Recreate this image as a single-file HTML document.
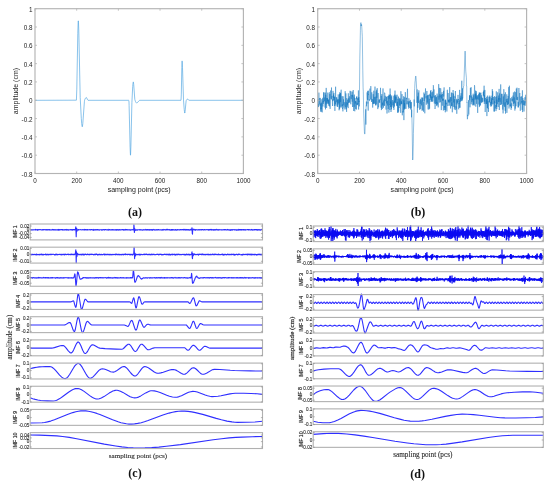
<!DOCTYPE html>
<html><head><meta charset="utf-8"><title>figure</title>
<style>
html,body{margin:0;padding:0;background:#fff;}
svg{display:block;}
svg{font-family:'Liberation Sans', Arial, sans-serif;fill:#222222;font-size:6.3px;}
</style></head><body>
<svg width="550" height="488" viewBox="0 0 550 488">
<rect width="550" height="488" fill="#fff"/>
<path d="M35.0 100.3L76.4 100.2 76.8 89.1 77.8 33.3 78.2 20.9 78.4 20.9 78.5 22.8 78.8 30.9 80.2 97.4 81.3 118.4 81.7 123.7 82.1 126.5 82.3 126.8 82.4 126.7 82.8 123.6 84.4 101.7 84.6 100.2 85.0 99.1 85.6 98.0 86.0 97.6 86.3 97.5 86.6 97.8 87.6 99.8 88.0 100.3 128.7 100.3 128.8 100.4 129.0 102.0 129.1 105.4 130.1 147.3 130.4 154.3 130.5 155.2 130.6 153.9 130.9 146.1 131.9 102.7 132.7 86.5 133.0 83.2 133.3 81.9 133.4 82.2 133.7 84.4 134.8 99.3 135.0 100.1 135.5 101.6 136.1 102.6 136.5 103.0 136.9 102.9 137.3 102.7 139.1 100.7 139.5 100.4 140.0 100.3 181.0 100.3 181.3 94.9 181.8 67.6 182.1 60.9 182.2 61.7 182.5 67.7 183.5 99.9 184.2 109.3 184.5 111.8 184.7 113.0 184.9 113.0 185.1 111.4 186.1 101.0 186.3 100.3 186.5 99.9 187.0 99.3 187.4 99.1 187.8 99.2 188.6 100.1 189.0 100.3 243.4 100.3" fill="none" stroke="#4aa3e0" stroke-width="0.65" stroke-linejoin="round" />
<rect x="35" y="8.7" width="208.4" height="164.8" fill="none" stroke="#b4b4b4" stroke-width="1.15"/>
<text x="32.4" y="11.8" text-anchor="end">1</text>
<text x="32.4" y="30.11" text-anchor="end">0.8</text>
<text x="32.4" y="48.42" text-anchor="end">0.6</text>
<text x="32.4" y="66.73" text-anchor="end">0.4</text>
<text x="32.4" y="85.04" text-anchor="end">0.2</text>
<text x="32.4" y="103.36" text-anchor="end">0</text>
<text x="32.4" y="121.67" text-anchor="end">-0.2</text>
<text x="32.4" y="139.98" text-anchor="end">-0.4</text>
<text x="32.4" y="158.29" text-anchor="end">-0.6</text>
<text x="32.4" y="176.6" text-anchor="end">-0.8</text>
<text x="35" y="183.1" text-anchor="middle">0</text>
<text x="76.68" y="183.1" text-anchor="middle">200</text>
<text x="118.36" y="183.1" text-anchor="middle">400</text>
<text x="160.04" y="183.1" text-anchor="middle">600</text>
<text x="201.72" y="183.1" text-anchor="middle">800</text>
<text x="243.4" y="183.1" text-anchor="middle">1000</text>
<path d="M35 8.7h2M243.4 8.7h-2M35 27.01h2M243.4 27.01h-2M35 45.32h2M243.4 45.32h-2M35 63.63h2M243.4 63.63h-2M35 81.94h2M243.4 81.94h-2M35 100.26h2M243.4 100.26h-2M35 118.57h2M243.4 118.57h-2M35 136.88h2M243.4 136.88h-2M35 155.19h2M243.4 155.19h-2M35 173.5h2M243.4 173.5h-2M35 8.7v2M35 173.5v-2M76.68 8.7v2M76.68 173.5v-2M118.36 8.7v2M118.36 173.5v-2M160.04 8.7v2M160.04 173.5v-2M201.72 8.7v2M201.72 173.5v-2M243.4 8.7v2M243.4 173.5v-2" stroke="#b4b4b4" stroke-width="0.8" fill="none"/>
<text x="139.2" y="192.1" text-anchor="middle" font-size="7.06">sampling point (pcs)</text>
<text transform="translate(18.4 91.1) rotate(-90)" text-anchor="middle" font-size="7">amplitude (cm)</text>
<path d="M317.7 100.9L317.9 99.2 318.2 106.6 318.4 103.9 318.6 107.1 318.9 92.6 319.1 103.2 319.3 104.4 319.4 98.2 319.6 98.9 319.8 100.5 320.0 105.8 320.3 97.9 320.5 109.3 320.7 103.5 320.8 111.6 321.0 108.6 321.2 111.8 321.4 102.7 321.5 109.2 321.7 99.8 321.9 99.2 322.1 100.2 322.2 112.4 322.4 100.1 322.6 98.6 322.7 97.8 322.9 106.5 323.1 100.9 323.3 103.9 323.4 102.9 323.6 92.3 323.8 102.2 324.1 92.5 324.3 101.1 324.5 98.4 324.7 97.5 324.8 99.5 325.0 107.6 325.4 92.6 325.5 109.4 325.7 94.8 326.1 104.4 326.2 87.9 326.6 108.0 326.8 100.7 326.9 98.0 327.1 103.2 327.3 98.0 327.4 101.4 327.8 92.6 328.0 104.0 328.1 99.3 328.3 103.5 328.5 99.9 328.7 105.7 329.0 100.4 329.2 93.6 329.4 92.3 329.5 106.4 329.7 102.6 329.9 94.1 330.1 108.9 330.2 100.0 330.4 98.2 330.6 90.5 330.8 93.2 330.9 98.6 331.1 98.6 331.3 98.7 331.5 87.5 331.6 99.3 331.8 99.2 332.0 95.9 332.1 99.6 332.3 99.8 332.5 106.0 332.7 99.2 332.8 101.2 333.0 90.9 333.4 97.8 333.5 94.6 333.7 100.5 333.9 92.9 334.1 99.9 334.2 96.6 334.4 106.0 334.6 96.8 334.8 107.8 334.9 110.9 335.1 100.5 335.3 104.1 335.5 98.2 335.6 86.7 335.8 105.6 336.0 103.8 336.2 99.2 336.3 97.3 336.5 101.2 336.7 102.3 336.8 97.4 337.0 99.1 337.2 106.6 337.4 101.0 337.5 99.9 337.7 106.9 337.9 99.0 338.1 104.6 338.2 94.4 338.4 98.3 338.8 103.3 338.9 99.7 339.1 110.3 339.5 94.3 339.6 109.2 339.8 92.2 340.0 107.8 340.2 93.6 340.3 102.1 340.5 93.0 340.7 97.3 340.9 106.8 341.0 91.0 341.2 89.7 341.4 98.8 341.5 101.5 341.7 101.8 341.9 107.6 342.1 96.2 342.2 106.0 342.4 104.4 342.6 108.9 342.8 107.7 342.9 111.4 343.1 96.3 343.3 105.3 343.5 99.3 343.8 107.6 344.0 105.7 344.2 105.9 344.3 102.2 344.5 104.4 344.7 104.3 344.9 109.5 345.0 105.5 345.2 91.2 345.4 105.1 345.6 107.3 345.9 93.4 346.1 109.2 346.2 102.2 346.4 105.4 346.6 111.9 346.8 98.1 346.9 102.6 347.1 102.5 347.3 106.7 347.5 99.6 347.6 104.7 347.8 102.8 348.0 106.8 348.2 108.1 348.3 93.3 348.5 103.0 348.7 98.3 349.0 102.4 349.2 102.3 349.4 96.3 349.6 102.6 349.7 99.4 349.9 98.0 350.1 90.8 350.3 94.8 350.4 94.9 350.8 104.3 350.9 91.3 351.1 92.3 351.3 99.2 351.5 96.4 351.6 95.2 351.8 95.2 352.0 94.8 352.2 101.7 352.3 91.6 352.5 107.0 352.7 95.1 352.9 96.8 353.0 94.7 353.2 90.0 353.4 93.2 353.6 107.9 353.7 111.0 353.9 96.7 354.1 106.8 354.4 94.6 354.6 108.8 354.8 111.3 355.0 98.0 355.3 103.5 355.5 101.1 355.8 109.0 356.0 101.4 356.3 109.6 356.5 96.7 356.7 99.2 356.9 96.5 357.0 105.0 357.2 103.0 357.4 105.2 357.6 105.0 357.7 98.4 357.9 104.1 358.1 98.3 358.3 99.9 358.4 90.4 358.6 109.5 358.8 97.1 359.0 102.0 359.1 100.7 359.3 106.4 359.8 58.9 360.4 30.5 360.5 25.1 360.9 22.6 361.2 26.0 361.4 24.6 361.6 24.4 362.1 32.4 362.3 36.4 362.8 70.9 363.1 87.8 363.3 91.7 363.7 113.1 364.4 131.6 364.5 133.3 364.7 134.1 364.9 133.8 365.6 112.2 365.7 109.3 365.9 124.6 366.1 105.4 366.3 104.5 366.4 101.6 366.6 106.3 366.8 101.2 367.0 100.4 367.1 92.4 367.3 97.6 367.5 99.8 367.7 90.9 367.8 103.4 368.0 102.4 368.2 110.6 368.4 90.7 368.5 94.9 368.7 94.4 368.9 96.0 369.1 99.7 369.2 99.1 369.4 101.1 369.6 100.8 369.8 98.6 369.9 88.6 370.1 94.2 370.3 97.0 370.4 99.0 370.6 99.5 370.8 86.1 371.0 91.7 371.3 97.0 371.5 102.0 371.8 92.3 372.0 100.4 372.2 99.2 372.5 99.3 372.7 107.6 372.9 99.8 373.1 103.8 373.2 94.2 373.4 104.1 373.8 90.7 373.9 102.3 374.1 103.2 374.3 96.9 374.5 98.6 374.6 103.8 375.0 86.6 375.1 98.4 375.3 99.6 375.5 104.9 375.7 96.7 375.8 105.6 376.0 105.0 376.2 91.4 376.4 104.4 376.5 91.5 376.7 89.7 376.9 97.9 377.1 96.0 377.2 88.1 377.4 100.6 377.8 109.1 378.1 93.0 378.3 96.0 378.5 107.4 378.6 107.2 378.8 104.5 379.0 99.7 379.2 102.5 379.3 99.6 379.5 99.9 379.7 102.8 380.0 99.1 380.2 99.6 380.4 96.2 380.5 87.8 380.7 95.3 380.9 98.2 381.1 107.7 381.2 95.8 381.4 110.1 381.6 106.7 381.8 94.1 381.9 95.2 382.1 100.0 382.3 109.0 382.5 102.6 382.6 105.4 383.0 88.4 383.2 99.9 383.5 107.7 383.7 101.2 383.9 100.4 384.0 105.5 384.2 98.7 384.4 105.9 384.5 92.7 384.7 93.0 384.9 92.9 385.1 101.2 385.2 95.8 385.4 99.9 385.6 101.3 385.8 101.4 385.9 108.3 386.1 109.6 386.3 96.7 386.5 103.4 386.6 101.9 386.8 96.9 387.0 113.5 387.3 101.8 387.5 100.9 387.7 105.5 387.9 96.0 388.2 109.0 388.4 107.1 388.6 95.8 388.7 98.7 388.9 112.6 389.1 94.5 389.2 98.8 389.4 95.2 389.6 104.9 389.8 104.2 389.9 110.0 390.1 88.5 390.3 103.7 390.5 94.4 390.6 107.0 390.8 101.5 391.0 112.0 391.3 96.5 391.5 109.4 391.7 95.4 391.9 98.7 392.0 106.7 392.2 103.2 392.4 102.6 392.6 100.1 392.9 105.2 393.1 102.2 393.3 106.7 393.4 108.0 393.8 95.7 393.9 109.9 394.1 100.7 394.5 106.5 394.6 94.6 394.8 102.3 395.0 90.6 395.2 103.3 395.3 96.4 395.7 102.8 395.9 94.9 396.0 100.3 396.2 96.7 396.4 99.8 396.6 105.7 396.7 100.2 396.9 99.7 397.1 94.7 397.3 106.2 397.4 101.8 397.6 112.6 397.8 98.9 398.0 109.1 398.1 112.8 398.5 96.6 398.6 111.7 398.8 107.6 399.0 106.5 399.2 107.9 399.3 98.6 399.5 105.5 399.7 104.6 399.9 97.9 400.0 105.8 400.2 99.2 400.4 107.6 400.6 109.2 400.7 112.8 400.9 91.2 401.1 104.4 401.3 100.9 401.4 103.7 401.6 102.4 401.8 103.9 402.0 94.1 402.1 111.5 402.3 115.3 402.5 111.5 402.7 112.3 402.8 99.5 403.0 99.3 403.2 109.8 403.3 112.4 403.7 96.2 403.9 120.1 404.0 100.4 404.2 109.7 404.4 97.2 404.6 108.4 404.7 103.0 404.9 109.1 405.1 106.0 405.3 92.1 405.4 95.1 405.6 101.7 405.8 103.4 406.0 108.8 406.1 100.3 406.3 97.7 406.5 98.7 406.7 98.2 406.8 104.3 407.0 98.1 407.2 98.3 407.4 90.6 407.5 88.8 407.7 100.5 407.9 104.3 408.0 101.2 408.4 106.8 408.6 102.6 408.7 108.6 408.9 98.3 409.1 103.1 409.3 101.1 409.8 108.0 410.0 104.3 410.1 104.1 410.3 99.9 410.5 101.9 410.7 109.5 410.8 101.8 411.0 108.3 411.2 103.6 411.4 102.2 411.5 117.3 411.7 109.6 412.1 125.1 412.6 156.8 412.7 160.0 412.9 157.8 413.3 143.6 413.4 133.4 414.0 112.3 414.1 99.5 414.3 106.4 414.5 90.2 414.7 88.8 415.0 81.9 415.2 81.0 415.5 76.7 415.7 76.2 415.9 76.0 416.1 79.0 416.2 80.5 416.6 88.0 416.8 89.7 416.9 102.8 417.1 89.4 417.3 97.1 417.4 112.7 417.6 96.4 417.8 107.7 418.0 107.8 418.1 103.6 418.3 92.6 418.5 102.9 418.8 90.3 419.0 91.4 419.2 102.3 419.4 104.1 419.5 109.7 419.7 106.8 419.9 100.6 420.2 103.8 420.4 99.0 420.6 109.2 420.9 100.2 421.1 100.8 421.3 97.6 421.6 105.4 421.8 100.8 422.0 107.4 422.1 110.8 422.3 97.4 422.5 101.5 422.7 97.9 422.8 110.1 423.0 102.1 423.2 102.1 423.4 103.7 423.5 111.7 423.7 98.9 423.9 92.5 424.1 95.4 424.2 100.9 424.6 93.8 424.8 113.3 424.9 98.8 425.1 94.9 425.3 94.6 425.5 88.4 425.8 97.2 426.0 98.4 426.2 95.8 426.3 104.7 426.5 102.1 426.9 91.0 427.0 102.3 427.2 102.3 427.4 101.7 427.5 95.5 427.7 103.7 427.9 94.9 428.1 109.4 428.2 104.4 428.4 104.3 428.6 97.2 428.8 94.8 428.9 109.5 429.1 106.4 429.3 98.9 429.6 108.7 429.8 93.8 430.0 96.1 430.2 95.1 430.3 99.8 430.5 91.1 430.7 97.8 430.9 90.0 431.0 102.0 431.2 101.6 431.4 96.5 431.6 100.8 431.7 92.4 431.9 94.8 432.1 101.8 432.2 96.7 432.4 98.2 432.6 91.6 432.8 101.5 432.9 101.0 433.3 85.2 433.5 86.6 433.6 97.4 433.8 97.4 434.0 89.4 434.2 99.5 434.3 103.5 434.5 98.0 434.7 95.7 435.0 109.0 435.2 107.6 435.4 95.1 435.6 104.0 435.7 100.0 436.1 96.7 436.3 103.2 436.4 97.3 436.6 105.3 436.8 102.1 436.9 106.1 437.1 93.6 437.5 104.5 437.6 101.9 437.8 101.1 438.0 95.7 438.2 107.4 438.5 100.9 438.7 84.1 439.0 99.6 439.4 87.9 439.6 102.0 439.7 102.6 439.9 94.2 440.1 97.3 440.3 95.6 440.4 102.2 440.6 88.2 440.8 88.9 441.0 95.4 441.1 94.7 441.3 110.1 441.5 94.8 441.6 98.5 442.0 92.2 442.3 105.7 442.5 94.0 442.7 100.5 442.9 98.9 443.0 100.7 443.2 98.7 443.4 110.5 443.6 90.8 443.7 96.5 444.1 87.4 444.4 110.0 444.6 106.1 444.8 107.6 445.1 100.2 445.3 112.3 445.5 99.5 445.7 110.2 445.8 100.4 446.0 103.1 446.2 104.2 446.3 102.7 446.5 105.3 446.7 105.4 446.9 111.5 447.2 90.6 447.4 89.8 447.7 97.5 447.9 106.0 448.1 93.0 448.3 101.1 448.4 100.4 448.6 102.4 448.8 100.1 449.0 102.4 449.1 99.3 449.3 105.7 449.5 102.2 449.7 87.1 449.8 101.0 450.0 102.6 450.2 97.5 450.4 97.3 450.5 108.5 450.9 97.0 451.0 101.4 451.2 101.4 451.4 92.5 451.6 106.2 451.7 102.4 451.9 105.9 452.1 93.0 452.3 112.3 452.4 105.1 452.6 103.6 452.8 96.4 453.0 96.0 453.1 90.0 453.3 106.9 453.5 93.5 453.7 99.5 453.8 102.5 454.0 95.8 454.4 109.5 454.5 99.2 454.7 107.4 455.1 96.7 455.2 97.6 455.4 91.0 455.7 110.1 455.9 106.3 456.3 108.7 456.4 98.8 456.8 113.8 457.0 100.0 457.1 104.4 457.3 101.5 457.5 102.6 457.7 99.3 457.8 102.3 458.0 94.9 458.2 100.0 458.4 99.7 458.5 99.0 458.7 109.3 458.9 103.0 459.1 103.7 459.2 100.3 459.4 107.8 459.6 89.9 459.9 105.1 460.1 107.7 460.3 99.5 460.4 97.7 460.6 101.7 460.8 95.7 461.0 99.5 461.1 93.2 461.3 100.8 461.8 80.7 462.0 101.1 462.2 97.5 462.4 99.7 462.5 88.3 462.7 98.4 463.1 89.4 463.2 89.0 463.6 86.0 463.8 85.7 463.9 83.4 465.0 52.6 465.1 51.1 465.3 55.2 465.5 65.0 465.8 71.6 466.4 77.7 466.5 86.0 466.7 86.0 466.9 102.8 467.1 102.3 467.2 115.5 467.4 119.2 467.8 114.8 467.9 116.1 468.5 100.2 468.8 114.6 469.0 105.2 469.2 102.3 469.3 101.7 469.5 95.1 469.7 100.1 469.8 95.9 470.0 107.3 470.4 87.9 470.5 95.3 470.7 97.1 470.9 97.5 471.1 87.2 471.2 104.3 471.4 98.0 471.6 95.7 471.8 95.4 471.9 102.1 472.1 97.3 472.3 100.3 472.5 98.9 472.6 100.0 472.8 105.4 473.2 93.7 473.3 104.8 473.7 95.3 473.9 104.6 474.0 98.4 474.2 105.6 474.4 91.4 474.5 85.2 474.7 86.3 474.9 99.6 475.1 94.0 475.2 97.9 475.4 98.4 475.6 90.6 475.8 106.7 475.9 93.4 476.1 99.5 476.3 91.2 476.6 103.9 476.8 97.6 477.0 95.5 477.2 99.1 477.3 96.5 477.7 112.9 477.9 95.1 478.2 99.7 478.4 99.4 478.6 94.2 478.7 103.2 478.9 104.5 479.1 101.4 479.2 92.5 479.4 107.1 479.6 92.8 479.8 102.4 479.9 106.0 480.1 92.6 480.5 105.2 480.8 93.0 481.0 92.8 481.2 101.9 481.3 96.6 481.5 95.3 481.7 103.1 481.9 97.4 482.2 102.2 482.4 101.9 482.6 98.1 482.7 98.0 482.9 101.7 483.1 100.4 483.3 92.0 483.4 96.3 483.6 92.3 483.8 90.6 483.9 95.1 484.1 85.7 484.3 103.9 484.5 95.1 484.6 101.6 484.8 89.9 485.0 90.9 485.2 112.0 485.5 98.0 485.7 98.5 485.9 98.4 486.0 103.9 486.2 100.8 486.4 99.6 486.6 104.0 486.7 96.9 486.9 116.1 487.1 99.0 487.3 108.0 487.4 95.6 487.8 107.9 488.0 101.1 488.1 109.0 488.3 108.3 488.5 111.9 488.6 102.7 489.0 96.9 489.2 102.3 489.3 95.6 489.5 101.3 489.7 102.4 490.0 97.0 490.2 105.4 490.6 104.2 490.7 101.9 490.9 106.7 491.1 95.7 491.3 103.5 491.4 98.1 491.6 106.1 491.8 100.0 492.0 99.6 492.1 104.5 492.3 89.2 492.5 99.9 492.7 91.2 492.8 95.2 493.0 104.2 493.2 101.9 493.4 97.0 493.5 100.2 493.7 99.7 493.9 101.7 494.0 111.5 494.2 101.2 494.4 111.5 494.6 96.1 494.7 101.6 494.9 103.1 495.3 97.1 495.4 107.4 495.6 108.5 495.8 105.0 496.0 111.1 496.1 105.8 496.3 91.3 496.5 106.9 496.7 96.4 496.8 109.1 497.0 99.6 497.2 104.2 497.4 103.6 497.5 99.7 497.7 92.3 497.9 100.0 498.1 100.0 498.2 107.0 498.4 97.9 498.6 102.1 498.7 95.5 498.9 99.8 499.1 88.9 499.3 110.0 499.6 93.4 499.8 99.2 500.0 101.8 500.1 97.8 500.3 105.0 500.5 97.6 500.7 84.4 500.8 91.6 501.0 104.8 501.2 104.7 501.4 102.0 501.5 93.9 501.7 104.2 501.9 103.2 502.1 93.8 502.2 94.5 502.4 102.4 502.8 109.6 502.9 105.0 503.1 113.4 503.3 96.4 503.4 104.8 503.8 89.2 504.0 92.3 504.1 106.3 504.3 95.7 504.5 94.3 504.7 105.9 504.8 107.1 505.0 102.4 505.2 110.8 505.4 92.3 505.5 113.6 505.9 102.1 506.1 101.6 506.2 99.4 506.4 98.9 506.6 102.4 506.8 94.3 506.9 112.9 507.1 101.2 507.3 104.6 507.5 99.0 507.6 98.6 507.8 105.0 508.0 104.1 508.1 95.9 508.3 97.8 508.5 103.9 508.7 88.2 508.8 87.1 509.0 108.5 509.4 85.7 509.5 96.0 510.1 106.6 510.2 104.4 510.4 106.2 510.6 98.2 510.8 105.5 510.9 105.7 511.1 109.8 511.3 103.3 511.5 108.0 511.6 104.5 511.8 96.9 512.0 100.9 512.2 99.4 512.3 98.7 512.5 100.4 512.7 100.7 512.8 101.6 513.0 95.6 513.2 106.2 513.4 92.4 513.5 100.2 513.7 103.9 513.9 102.3 514.1 103.2 514.2 97.3 514.4 102.4 514.6 91.5 514.9 110.6 515.1 101.5 515.3 108.6 515.5 97.5 515.6 92.2 515.8 95.3 516.0 106.2 516.2 102.4 516.3 88.6 516.5 97.4 516.7 99.8 517.0 87.7 517.4 100.1 517.7 96.9 517.9 104.5 518.1 107.4 518.2 101.9 518.4 107.3 518.6 102.5 518.8 101.3 518.9 88.0 519.1 105.6 519.3 100.7 519.5 100.4 519.6 95.7 519.8 93.0 520.0 102.6 520.3 110.8 520.5 105.9 520.7 96.7 520.9 98.5 521.0 104.3 521.2 100.6 521.6 96.3 521.7 102.7 521.9 101.0 522.1 109.9 522.2 106.6 522.4 90.3 522.6 112.1 522.8 101.0 522.9 98.1 523.3 105.0 523.5 100.3 523.6 100.7 523.8 100.7 524.0 111.5 524.2 101.2 524.3 105.3 524.5 104.1 524.7 100.5 525.0 97.2 525.2 105.7 525.4 97.0 525.6 95.9 525.7 96.0 525.9 94.7 526.1 103.3 526.3 102.8 526.4 97.5 526.6 109.6" fill="none" stroke="#0a70bc" stroke-width="0.55" stroke-linejoin="round" stroke-opacity="0.8"/>
<rect x="317.7" y="8.7" width="208.9" height="164.8" fill="none" stroke="#b4b4b4" stroke-width="1.15"/>
<text x="315.1" y="11.8" text-anchor="end">1</text>
<text x="315.1" y="30.11" text-anchor="end">0.8</text>
<text x="315.1" y="48.42" text-anchor="end">0.6</text>
<text x="315.1" y="66.73" text-anchor="end">0.4</text>
<text x="315.1" y="85.04" text-anchor="end">0.2</text>
<text x="315.1" y="103.36" text-anchor="end">0</text>
<text x="315.1" y="121.67" text-anchor="end">-0.2</text>
<text x="315.1" y="139.98" text-anchor="end">-0.4</text>
<text x="315.1" y="158.29" text-anchor="end">-0.6</text>
<text x="315.1" y="176.6" text-anchor="end">-0.8</text>
<text x="317.7" y="183.1" text-anchor="middle">0</text>
<text x="359.48" y="183.1" text-anchor="middle">200</text>
<text x="401.26" y="183.1" text-anchor="middle">400</text>
<text x="443.04" y="183.1" text-anchor="middle">600</text>
<text x="484.82" y="183.1" text-anchor="middle">800</text>
<text x="526.6" y="183.1" text-anchor="middle">1000</text>
<path d="M317.7 8.7h2M526.6 8.7h-2M317.7 27.01h2M526.6 27.01h-2M317.7 45.32h2M526.6 45.32h-2M317.7 63.63h2M526.6 63.63h-2M317.7 81.94h2M526.6 81.94h-2M317.7 100.26h2M526.6 100.26h-2M317.7 118.57h2M526.6 118.57h-2M317.7 136.88h2M526.6 136.88h-2M317.7 155.19h2M526.6 155.19h-2M317.7 173.5h2M526.6 173.5h-2M317.7 8.7v2M317.7 173.5v-2M359.48 8.7v2M359.48 173.5v-2M401.26 8.7v2M401.26 173.5v-2M443.04 8.7v2M443.04 173.5v-2M484.82 8.7v2M484.82 173.5v-2M526.6 8.7v2M526.6 173.5v-2" stroke="#b4b4b4" stroke-width="0.8" fill="none"/>
<text x="422.15" y="192.1" text-anchor="middle" font-size="7.06">sampling point (pcs)</text>
<text transform="translate(301.1 91.1) rotate(-90)" text-anchor="middle" font-size="7">amplitude (cm)</text>
<text x="135" y="216.3" text-anchor="middle" font-family="'Liberation Serif', 'Times New Roman', serif" font-weight="bold" font-size="12" fill="#111">(a)</text>
<text x="418" y="216.3" text-anchor="middle" font-family="'Liberation Serif', 'Times New Roman', serif" font-weight="bold" font-size="12" fill="#111">(b)</text>
<path d="M30.2 229.9L30.4 229.9 30.7 229.9 30.9 229.6 31.1 230.0 31.6 229.7 31.8 229.9 32.5 229.8 32.8 229.9 33.0 229.7 33.2 229.8 33.5 229.7 33.7 229.9 34.4 229.7 34.9 229.8 35.1 229.8 35.3 230.0 35.5 230.0 35.8 229.3 36.2 229.8 36.5 229.7 36.9 229.8 37.2 230.2 37.4 229.6 37.6 229.7 37.9 230.2 38.1 229.9 38.3 229.9 38.8 229.5 39.0 229.8 39.3 229.8 39.5 229.6 40.0 229.8 40.2 229.6 40.7 229.8 41.1 229.7 41.4 229.9 41.6 230.0 42.1 229.7 42.3 229.9 42.5 229.7 42.8 230.0 43.0 229.6 43.2 230.0 43.7 229.6 43.9 229.7 44.4 229.8 44.6 229.6 44.8 229.6 45.1 229.8 45.3 229.7 45.8 229.9 46.0 229.5 46.5 230.0 46.7 229.7 46.9 229.7 47.2 229.9 47.4 229.8 47.6 230.0 48.1 229.5 48.3 229.8 48.6 229.7 48.8 229.9 49.0 229.8 49.3 229.5 49.5 229.6 49.7 230.0 50.0 229.9 50.2 229.7 51.1 230.0 51.8 229.8 52.1 230.0 52.3 229.4 52.5 229.8 52.8 229.8 53.0 229.5 53.2 229.9 53.5 229.7 53.7 230.0 53.9 229.8 54.4 230.0 55.1 229.5 55.3 230.1 55.5 229.8 55.8 229.7 56.0 229.8 56.2 229.8 56.5 230.0 57.2 229.7 57.4 229.9 57.6 229.6 58.1 230.1 58.3 229.5 58.6 229.4 59.0 230.3 59.3 229.6 59.5 229.6 59.7 229.9 60.0 229.6 60.4 229.7 60.7 229.9 60.9 229.7 61.1 229.9 61.6 229.6 61.8 229.7 62.1 229.6 62.3 229.8 62.5 229.6 62.8 229.6 63.0 230.1 63.2 229.8 63.7 229.9 63.9 229.7 64.4 229.9 64.6 229.9 64.8 229.6 65.1 230.0 65.3 229.7 65.5 229.6 66.0 229.7 66.2 230.1 66.5 229.6 66.7 229.8 66.9 229.4 67.2 229.8 67.4 230.0 67.9 229.7 68.3 229.9 68.6 229.9 68.8 230.2 69.0 229.8 69.3 229.7 70.4 229.8 70.7 229.5 70.9 229.9 71.4 229.6 71.6 229.9 71.8 230.0 72.5 229.6 72.8 230.3 73.2 229.6 73.7 229.8 73.9 229.5 74.1 229.8 74.4 229.7 74.6 230.0 74.8 230.0 75.1 229.3 75.3 229.8 75.8 226.8 76.2 236.8 76.5 229.3 76.7 228.2 76.9 231.3 77.4 229.9 77.6 229.7 77.9 229.8 78.1 229.6 78.3 230.1 78.6 229.6 79.0 229.9 79.3 229.7 80.0 229.8 80.2 229.6 80.7 229.8 81.4 229.7 81.6 229.9 81.8 229.7 82.5 229.7 82.8 229.6 83.0 229.9 83.2 229.6 83.7 229.9 83.9 229.9 84.4 229.4 84.6 229.9 84.8 229.8 85.1 229.5 85.3 229.9 85.5 229.7 85.8 229.6 86.0 229.8 86.5 229.8 86.7 229.5 86.9 230.1 87.2 229.7 87.4 229.5 87.6 229.9 87.9 229.7 88.1 229.9 88.3 229.7 88.8 229.8 89.0 229.7 89.3 229.9 89.7 229.6 90.2 229.9 90.7 229.6 90.9 229.9 91.1 229.5 91.6 229.8 91.8 229.6 92.1 229.8 92.3 229.8 92.5 230.0 92.8 229.6 93.2 229.9 93.4 229.4 93.7 230.4 93.9 229.7 94.1 229.7 94.4 230.0 94.8 229.5 95.1 229.9 95.3 230.0 95.5 229.7 96.0 229.9 96.2 229.6 96.5 229.9 96.7 229.8 97.2 229.5 97.4 229.8 97.6 229.6 97.9 230.0 98.1 229.8 98.3 229.9 98.6 229.8 98.8 229.8 99.0 229.7 99.5 230.1 99.7 229.7 100.0 229.7 100.2 229.8 100.7 229.7 100.9 229.8 101.1 229.7 101.4 230.1 101.6 229.8 102.1 230.0 102.3 229.7 102.5 230.1 102.8 229.7 103.0 229.7 103.4 229.8 103.7 229.5 103.9 229.8 104.1 229.5 104.4 230.1 104.6 229.8 104.8 229.7 105.1 229.6 105.5 229.8 105.8 229.6 106.2 229.8 106.5 229.7 106.7 230.0 106.9 230.0 107.2 229.8 107.4 229.9 107.6 229.6 107.9 229.9 108.1 229.8 108.6 230.1 108.8 229.4 109.0 229.8 109.3 229.6 109.5 229.9 109.7 229.6 110.4 229.9 110.9 229.7 111.1 229.7 111.4 230.0 111.8 229.5 112.1 230.0 112.3 229.9 112.5 230.0 112.7 229.7 113.0 229.9 113.2 229.6 113.4 229.9 113.7 229.7 113.9 229.9 114.1 230.0 114.4 229.7 114.8 229.8 115.1 230.0 115.3 229.9 115.5 229.6 115.8 229.9 116.0 229.9 116.2 230.2 116.5 229.5 116.9 230.0 117.2 229.6 117.4 229.6 117.6 229.9 117.9 230.0 118.1 229.7 118.3 229.9 118.6 229.8 118.8 230.1 119.0 229.8 119.3 230.0 119.5 229.6 120.0 229.8 120.2 230.0 120.7 229.7 120.9 229.9 121.1 229.9 121.4 229.8 121.8 229.8 122.1 229.5 122.3 229.8 122.5 229.8 122.7 229.6 123.0 229.9 123.2 229.6 123.4 229.7 123.7 229.7 123.9 230.2 124.1 229.5 124.4 229.9 124.6 230.0 124.8 229.9 125.1 230.0 125.5 229.4 125.8 229.9 126.0 229.6 126.2 229.7 126.5 229.6 126.7 230.0 126.9 230.0 127.2 229.7 127.4 230.0 127.9 229.8 128.3 229.8 128.6 229.9 129.0 229.7 129.3 230.0 129.5 229.7 130.2 230.1 130.4 229.7 130.7 230.1 130.9 229.8 131.4 229.7 131.6 229.9 132.0 229.6 132.3 229.6 132.5 229.7 132.7 229.7 133.0 230.0 133.2 230.0 133.4 230.0 133.7 229.3 133.9 224.9 134.1 226.6 134.4 232.5 134.8 228.7 135.1 230.0 135.3 230.4 135.5 229.8 135.8 229.7 136.2 229.8 136.5 230.1 136.7 229.8 136.9 230.0 137.2 230.1 137.4 229.8 137.6 230.1 138.1 229.7 138.3 229.8 139.0 229.8 139.5 229.9 139.7 229.6 140.0 229.8 140.2 229.5 140.4 229.8 140.7 229.9 140.9 229.8 141.4 229.9 141.6 229.7 142.3 230.0 142.5 229.9 142.7 230.3 143.0 229.8 143.2 230.0 143.4 230.0 143.7 229.8 144.1 229.6 144.6 230.0 145.3 229.7 145.5 229.9 145.8 229.4 146.0 229.8 146.2 229.8 146.5 229.6 146.7 230.2 146.9 229.6 147.4 229.6 147.6 230.0 147.9 229.6 148.1 229.9 148.3 229.9 148.6 229.8 148.8 229.6 149.0 229.7 149.3 230.1 149.5 229.6 150.2 229.9 150.4 229.8 150.7 229.9 150.9 229.6 151.1 230.0 151.3 229.9 151.6 229.5 151.8 230.1 152.0 230.2 152.3 229.7 152.7 230.1 153.0 229.5 153.2 229.4 153.7 229.7 153.9 229.7 154.1 229.9 154.4 229.8 154.6 229.6 155.1 230.1 155.8 229.8 156.0 230.0 156.2 229.6 156.5 229.9 156.7 229.8 156.9 230.0 157.2 229.9 157.4 229.6 157.9 230.0 158.1 229.6 158.3 229.7 158.8 229.5 159.0 230.0 159.3 230.0 160.0 229.8 160.2 229.8 160.4 229.7 160.7 230.0 160.9 230.0 161.1 230.0 161.3 229.7 161.6 229.8 161.8 229.8 162.0 230.1 162.5 229.5 163.0 230.1 163.2 229.9 163.4 230.0 163.7 229.8 163.9 229.4 164.1 229.5 164.6 229.8 165.1 229.9 165.3 229.7 165.5 230.0 165.8 229.7 166.0 229.7 166.2 230.0 166.7 229.3 167.2 229.8 167.4 229.2 167.6 229.7 167.9 229.7 168.1 229.5 168.3 229.5 168.6 229.7 168.8 229.7 169.0 230.0 169.3 229.9 169.5 229.5 170.2 230.1 170.4 229.9 170.6 229.9 170.9 230.1 171.1 229.8 171.3 229.7 171.6 229.5 171.8 229.7 172.0 230.2 172.3 229.5 172.5 229.8 172.7 229.5 173.2 230.0 173.4 229.8 173.7 229.9 174.1 229.9 174.4 230.1 174.8 229.7 175.1 229.7 175.3 229.6 175.5 229.9 175.8 229.7 176.0 230.3 176.2 230.1 176.5 229.8 176.7 229.7 176.9 230.1 177.2 229.5 177.6 230.0 177.9 229.6 178.3 229.7 178.6 229.9 178.8 229.8 179.3 229.9 179.5 229.8 179.7 230.0 180.0 229.7 180.4 229.5 180.6 229.5 181.1 230.0 181.8 229.6 182.3 229.7 182.7 229.5 183.2 230.0 183.4 229.4 183.7 229.8 183.9 229.4 184.1 229.8 184.6 229.4 185.1 230.1 185.3 229.8 185.5 230.0 186.0 229.4 186.2 229.9 186.7 229.5 186.9 229.9 187.4 229.7 187.6 230.0 187.9 229.6 188.1 229.9 188.3 229.6 188.6 229.9 188.8 229.6 189.0 230.1 189.3 229.8 189.5 230.1 189.7 229.7 189.9 229.7 190.2 230.0 190.4 229.3 190.9 230.0 191.1 229.9 191.3 230.0 191.6 229.7 192.0 227.7 192.3 233.6 192.5 234.2 192.7 229.3 193.0 229.2 193.2 229.7 193.4 229.2 194.1 229.9 194.6 229.6 194.8 229.4 195.1 230.2 195.3 229.6 195.5 230.1 195.8 230.1 196.2 229.7 196.5 229.8 196.7 229.6 196.9 229.8 197.2 229.8 197.9 230.1 198.1 229.7 198.3 230.0 198.6 229.7 198.8 229.6 199.3 229.6 199.5 230.0 199.9 230.0 200.2 229.8 200.4 229.8 200.9 229.6 201.1 229.9 201.3 229.8 201.6 229.6 201.8 229.9 202.0 229.5 202.3 229.8 203.0 229.6 203.2 230.0 203.4 229.9 203.7 230.0 204.1 229.6 204.4 229.7 204.6 229.6 205.1 230.0 205.5 229.7 206.0 229.8 206.2 229.5 206.5 229.8 206.7 229.8 206.9 229.7 207.4 229.8 207.6 229.6 207.9 229.6 208.1 229.9 208.3 229.8 208.6 230.1 208.8 229.6 209.0 229.5 209.3 230.0 209.5 230.0 209.7 229.7 209.9 229.5 210.2 229.8 210.4 229.5 210.6 229.7 210.9 229.4 211.1 229.8 211.3 229.4 211.8 230.1 212.0 229.7 212.3 229.9 212.5 229.7 213.0 229.5 213.2 230.0 213.4 229.8 213.7 230.1 213.9 229.6 214.8 230.1 215.1 229.7 215.5 229.5 215.8 230.0 216.0 229.8 216.2 229.7 216.5 229.8 216.7 229.3 216.9 229.5 217.2 230.0 217.6 229.8 217.9 229.6 218.3 230.1 218.6 229.6 218.8 229.8 219.0 229.7 219.2 229.9 219.9 229.6 220.2 229.8 220.4 229.7 221.1 229.9 221.3 229.7 221.6 229.7 221.8 230.0 222.0 229.8 222.3 229.7 222.5 229.9 222.7 229.8 223.2 229.8 223.4 229.6 223.9 230.0 224.1 229.9 224.4 229.5 224.6 229.8 224.8 229.6 225.3 229.8 225.5 229.6 225.8 230.0 226.0 229.8 226.2 229.9 226.5 229.9 226.7 230.0 226.9 230.0 227.2 229.5 227.4 229.8 227.6 229.4 228.1 229.9 228.6 230.0 228.8 229.7 229.0 229.9 229.2 229.8 229.5 230.0 229.7 230.1 229.9 229.7 230.2 230.5 230.4 229.8 230.6 229.7 230.9 229.9 231.1 229.9 231.3 229.9 231.6 229.7 231.8 230.1 232.0 229.8 232.3 230.1 232.5 230.0 232.7 229.6 233.2 229.6 233.4 229.8 233.9 229.8 234.1 229.7 234.6 230.0 234.8 229.6 235.3 229.8 235.8 229.8 236.0 230.1 236.5 230.0 236.7 229.7 236.9 230.2 237.4 229.7 237.9 229.7 238.1 230.2 238.3 229.8 238.5 229.8 238.8 229.4 239.0 229.9 239.2 229.6 239.5 229.6 239.7 229.9 239.9 229.6 240.2 229.9 240.4 230.0 240.6 229.5 240.9 229.8 241.1 229.5 241.6 230.0 241.8 229.6 242.0 230.1 242.3 229.7 242.5 229.6 243.0 229.9 243.2 229.5 243.4 229.8 243.7 229.5 243.9 230.0 244.4 229.7 244.6 230.0 244.8 229.6 245.1 229.7 245.3 230.1 245.5 229.8 245.8 230.0 246.2 229.7 246.7 229.8 247.6 229.5 247.9 229.8 248.3 229.9 248.5 229.5 248.8 229.9 249.2 229.5 249.7 229.9 250.6 230.0 250.9 229.8 251.1 229.4 251.6 229.9 251.8 229.7 252.0 229.9 252.3 229.9 252.5 229.8 252.7 230.1 253.0 229.6 253.2 230.0 253.4 229.7 253.7 229.7 253.9 229.9 254.1 229.7 254.4 230.0 254.6 229.6 254.8 229.8 255.1 229.6 255.3 229.8 255.8 229.6 256.0 229.9 256.2 229.6 256.5 229.6 256.7 230.0 257.4 229.9 257.6 230.2 257.8 229.6 258.1 229.7 258.3 229.6 258.5 230.0 258.8 229.8 259.0 230.0 259.2 230.0 259.5 229.8 259.9 229.6 260.2 230.2 260.9 229.7 261.6 229.7 261.8 229.4 262.0 229.8 262.3 229.7 262.5 229.8" fill="none" stroke="#2f2fff" stroke-width="1.1" stroke-linejoin="round"/>
<rect x="30.2" y="224" width="232.3" height="15.9" fill="none" stroke="#b0b0b0" stroke-width="1.1"/>
<text x="29.3" y="227.6" text-anchor="end" font-size="4.6" stroke="#444" stroke-width="0.1">0.02</text>
<text x="29.3" y="231.4" text-anchor="end" font-size="4.6" stroke="#444" stroke-width="0.1">0</text>
<text x="29.3" y="235.2" text-anchor="end" font-size="4.6" stroke="#444" stroke-width="0.1">-0.02</text>
<text x="29.3" y="239" text-anchor="end" font-size="4.6" stroke="#444" stroke-width="0.1">-0.04</text>
<path d="M30.2 226h1.6M262.5 226h-1.6M30.2 229.8h1.6M262.5 229.8h-1.6M30.2 233.6h1.6M262.5 233.6h-1.6M30.2 237.4h1.6M262.5 237.4h-1.6" stroke="#888" stroke-width="0.6" fill="none"/>
<text transform="translate(16.5 231.95) rotate(-90)" text-anchor="middle" font-size="5.2" stroke="#333" stroke-width="0.18">IMF 1</text>
<path d="M30.2 254.5L30.4 254.4 30.7 254.4 30.9 254.0 31.1 254.9 31.4 254.8 31.6 254.4 31.8 254.7 32.3 254.4 32.5 254.7 32.8 254.4 33.2 254.3 33.5 254.6 33.7 254.5 33.9 254.6 34.2 254.4 34.4 254.5 34.6 254.3 34.9 254.7 35.1 254.5 35.5 254.6 35.8 254.3 36.2 255.0 36.5 254.1 36.7 254.1 36.9 254.2 37.2 254.7 37.4 254.5 37.6 254.7 38.6 254.5 38.8 254.7 39.0 254.3 39.5 254.6 39.7 254.9 40.0 254.3 40.2 254.3 40.4 254.4 40.7 254.7 40.9 254.4 41.1 254.8 41.4 254.1 41.6 254.7 41.8 254.7 42.1 254.2 42.5 254.8 42.8 254.5 43.2 255.0 43.5 254.6 43.9 254.3 44.2 254.6 44.4 254.5 44.8 254.5 45.1 254.6 45.3 254.3 45.8 254.0 46.0 254.8 46.2 254.5 46.5 254.8 46.9 254.3 47.2 254.6 47.6 254.2 47.9 254.3 48.1 254.9 48.3 254.6 48.6 254.6 49.0 254.3 49.3 254.7 49.7 254.3 50.0 254.5 50.2 254.3 50.7 254.7 50.9 254.3 51.1 254.8 51.4 254.4 51.6 254.5 51.8 254.3 52.3 254.5 52.8 254.3 53.2 254.3 53.5 254.2 53.9 254.6 54.2 254.7 54.4 254.6 54.6 255.0 54.8 254.6 55.1 254.4 55.3 254.9 55.5 254.3 55.8 254.7 56.0 254.3 56.2 254.6 56.5 254.1 56.7 254.7 57.2 254.3 57.4 254.9 58.1 254.3 58.3 254.5 58.6 254.5 58.8 254.7 59.0 254.7 59.3 254.4 59.7 254.4 60.0 254.2 60.9 254.8 61.1 254.3 61.4 254.6 61.6 254.4 61.8 255.0 62.1 254.5 62.3 254.6 62.5 254.3 62.8 254.3 63.0 254.5 63.2 254.4 63.5 254.6 63.7 254.2 63.9 254.6 64.1 254.3 64.4 254.9 64.6 254.4 64.8 254.7 65.1 254.2 65.3 254.6 65.5 254.3 66.0 254.5 66.2 254.4 66.7 254.7 66.9 254.6 67.4 254.2 67.9 254.5 68.1 254.0 68.3 254.7 68.6 254.4 68.8 254.4 69.0 254.7 69.3 254.6 69.5 254.5 69.7 254.3 70.0 254.6 70.2 254.6 70.4 254.3 70.7 254.7 70.9 254.6 71.1 254.1 71.4 254.5 71.6 254.2 71.8 254.7 72.1 254.7 72.3 254.3 72.5 254.3 72.8 254.5 73.0 254.4 73.2 254.8 73.7 254.4 73.9 254.6 74.1 254.1 74.4 254.6 74.6 254.7 75.3 254.1 75.8 249.9 76.0 253.3 76.2 262.7 76.5 251.8 76.9 256.8 77.2 254.6 77.4 253.4 77.6 254.5 77.9 254.6 78.1 254.1 78.3 254.1 78.8 254.8 79.0 254.5 79.5 254.4 79.7 254.7 80.2 254.6 80.4 254.3 80.7 254.8 80.9 254.8 81.1 254.2 81.4 255.0 82.1 254.1 82.3 254.6 82.5 254.6 83.0 254.1 83.2 254.7 83.4 254.4 83.7 254.4 83.9 255.1 84.6 254.4 84.8 254.6 85.1 254.0 85.3 254.5 86.0 254.2 86.2 254.6 86.7 254.5 86.9 254.7 87.2 254.3 87.6 254.1 88.1 254.7 88.3 254.5 88.6 254.6 88.8 254.2 89.0 254.4 89.5 254.2 89.7 254.9 90.2 254.3 90.4 254.3 90.7 254.5 90.9 254.2 91.1 254.6 91.4 254.2 91.6 254.4 91.8 254.3 92.1 254.4 92.5 254.2 93.4 254.5 93.7 254.8 94.1 254.4 94.4 254.7 94.6 254.3 94.8 254.8 95.1 254.6 95.3 254.2 95.5 254.7 95.8 254.7 96.0 253.9 96.2 254.3 96.5 254.4 96.7 254.1 96.9 254.3 97.2 254.3 97.4 254.6 97.6 254.6 97.9 255.1 98.1 254.4 98.3 254.8 98.6 254.5 98.8 254.6 99.3 254.1 100.0 254.8 100.2 254.6 100.4 254.6 100.7 254.3 100.9 254.8 101.1 254.8 101.4 254.4 101.6 254.5 101.8 254.3 102.1 254.8 102.5 254.5 103.0 254.6 103.4 254.2 103.9 254.1 104.4 255.0 104.6 254.1 104.8 254.5 105.1 254.6 105.3 254.3 105.5 254.5 105.8 254.3 106.0 254.8 106.2 254.4 106.7 254.7 107.2 254.1 107.6 254.7 107.9 254.5 108.1 254.6 108.3 254.3 108.8 254.7 109.0 254.5 109.3 254.9 109.5 254.5 110.0 254.1 110.2 254.8 110.4 254.5 110.7 254.7 110.9 254.6 111.1 254.9 111.4 254.8 111.6 254.4 112.1 254.7 112.3 254.2 112.5 254.8 113.0 254.7 113.2 254.5 113.4 254.6 113.7 254.3 113.9 254.5 114.1 254.4 114.4 254.5 114.6 254.4 115.1 254.8 115.3 254.2 115.5 254.7 115.8 254.1 116.0 254.0 116.2 254.5 116.7 254.6 116.9 254.1 117.2 254.5 117.4 254.5 117.6 254.8 117.9 254.5 118.1 254.6 118.3 254.3 118.6 254.5 118.8 254.4 119.0 254.7 119.3 254.3 119.5 254.3 120.0 254.9 120.2 254.6 120.7 254.4 120.9 254.7 121.1 254.6 121.4 254.9 121.8 254.3 122.1 254.4 122.5 254.2 122.7 254.8 123.0 254.7 123.2 254.2 123.4 254.9 123.9 254.3 124.1 254.6 124.6 254.3 124.8 254.1 125.1 254.5 125.3 254.6 125.5 253.9 125.8 254.6 126.0 254.6 126.2 254.4 126.5 254.5 126.9 254.3 127.2 254.4 127.4 254.8 127.6 254.2 127.9 254.6 128.1 254.5 128.3 254.3 128.6 254.4 128.8 254.2 129.5 254.6 129.7 254.3 130.0 255.2 130.2 254.4 130.4 254.5 130.9 254.4 131.1 254.8 131.4 254.4 131.6 254.8 131.8 254.8 132.0 254.3 132.3 254.7 132.5 254.4 132.7 255.1 133.0 254.4 133.4 254.1 133.7 254.2 134.1 247.3 134.6 258.6 134.8 254.7 135.1 253.2 135.3 255.6 135.5 256.0 135.8 254.6 136.0 254.2 136.5 254.3 136.7 254.7 137.2 254.4 137.4 254.6 137.9 254.5 138.1 254.6 138.3 254.3 138.6 254.6 138.8 254.6 139.3 254.2 139.5 254.8 139.7 254.5 140.0 255.2 140.2 254.4 140.4 254.7 140.7 254.4 141.1 254.7 141.4 254.3 141.6 254.5 142.0 254.5 142.5 254.7 142.7 254.7 143.4 254.3 143.9 254.4 144.1 254.7 144.6 254.2 144.8 254.6 145.1 254.3 145.3 254.3 145.8 254.6 146.0 254.0 146.5 254.5 146.9 254.3 147.2 254.4 147.4 254.8 147.6 254.4 147.9 254.7 148.1 254.7 148.3 254.4 148.6 254.6 148.8 254.4 149.3 254.3 149.5 254.7 149.7 254.4 150.2 254.3 150.4 254.9 151.3 254.2 151.6 254.6 151.8 254.6 152.0 254.2 152.3 254.8 152.5 254.7 152.7 254.3 153.4 254.5 153.7 254.5 153.9 254.1 154.1 254.8 154.4 254.6 154.6 254.8 154.8 254.8 155.1 254.5 155.5 254.7 155.8 254.7 156.2 254.4 156.5 254.5 156.7 254.3 156.9 254.4 157.2 254.1 157.4 254.5 157.6 254.3 158.3 254.6 158.6 254.9 159.0 254.2 159.3 254.5 159.5 254.4 159.7 254.6 160.0 254.3 160.7 254.4 160.9 254.1 161.6 254.8 161.8 254.4 162.0 254.4 162.3 254.6 162.5 254.6 162.7 254.9 163.2 254.5 163.4 254.8 163.7 254.8 163.9 254.4 164.1 254.5 164.4 254.1 164.6 254.4 164.8 254.3 165.1 254.5 165.3 254.4 166.0 254.6 166.2 254.6 166.7 254.2 166.9 254.8 167.2 254.8 167.4 254.4 167.6 254.6 167.9 254.2 168.1 254.2 168.6 254.8 168.8 254.3 169.0 254.3 169.3 254.9 169.5 254.1 169.7 254.6 170.2 254.5 170.4 254.5 170.6 255.1 170.9 254.3 171.1 254.4 171.3 254.4 171.8 254.2 172.0 254.9 172.5 254.1 173.0 254.6 173.2 254.6 173.4 254.2 173.7 254.5 174.4 254.6 174.6 254.1 174.8 254.9 175.1 254.5 175.5 255.1 175.8 254.5 176.0 254.2 176.2 254.7 176.5 254.5 176.9 254.3 177.2 254.9 177.4 254.4 177.6 254.2 177.9 254.4 178.1 254.2 178.3 254.5 178.8 254.3 179.0 254.6 179.3 254.4 179.5 254.7 179.7 254.8 180.0 254.4 180.2 254.4 180.6 254.7 180.9 254.5 181.3 254.5 181.8 254.6 182.0 254.3 182.5 254.5 182.7 254.4 183.2 254.6 183.9 254.3 184.1 254.9 184.4 254.7 184.6 254.3 184.8 254.3 185.1 254.9 185.3 254.8 185.5 254.5 185.8 254.8 186.0 254.2 186.5 254.7 186.7 254.1 187.2 254.7 187.4 254.7 187.6 254.4 188.1 254.9 188.3 254.4 188.6 254.2 188.8 254.5 189.0 254.4 189.3 254.8 189.7 254.3 189.9 255.0 190.2 254.4 190.4 254.6 190.9 254.7 191.1 254.5 191.3 254.6 191.6 254.5 191.8 252.6 192.0 251.8 192.3 258.0 192.5 258.7 192.7 253.5 193.0 253.9 193.2 255.8 193.4 255.2 193.7 254.0 193.9 254.5 194.1 254.3 194.4 253.9 194.6 254.6 194.8 254.4 195.3 254.4 195.5 254.7 195.8 254.8 196.0 254.6 196.2 254.7 196.5 254.5 196.7 254.5 196.9 254.3 197.2 254.5 197.4 254.3 197.9 254.7 198.1 254.6 198.6 255.1 198.8 254.0 199.0 254.5 199.3 254.4 199.5 254.4 199.7 254.2 199.9 254.5 200.4 254.4 200.6 254.4 200.9 254.4 201.1 254.0 201.3 254.7 201.8 254.3 202.0 254.6 202.5 254.0 202.7 254.7 203.0 254.1 203.2 254.5 203.4 254.5 203.7 254.8 203.9 254.8 204.4 254.3 204.6 254.4 204.8 254.7 205.1 254.9 205.5 254.4 205.8 254.7 206.0 254.4 206.2 254.4 206.5 254.4 206.7 254.6 206.9 254.6 207.4 254.8 207.6 254.6 207.9 254.0 208.1 254.1 208.3 254.5 208.6 254.5 208.8 255.0 209.0 254.5 209.3 254.5 209.5 254.7 209.7 254.7 209.9 254.4 210.2 254.6 210.4 254.3 210.6 254.3 210.9 254.8 211.1 254.2 211.3 254.7 212.0 254.7 212.3 254.6 212.5 254.0 212.7 254.3 213.0 254.4 213.2 254.7 213.4 254.3 213.9 254.4 214.1 254.8 214.4 254.2 214.6 254.2 214.8 254.6 215.1 254.0 215.3 254.6 215.8 254.2 216.0 254.4 216.2 254.3 216.9 254.8 217.2 254.5 217.4 254.5 217.6 254.4 218.1 254.7 218.3 254.1 218.6 254.6 218.8 254.4 219.5 254.7 219.9 254.4 220.2 254.6 220.6 254.5 221.1 254.7 221.3 254.5 221.6 254.5 221.8 254.2 222.0 254.5 222.3 254.1 222.5 254.7 222.7 254.3 223.2 255.2 223.4 254.4 223.7 254.8 224.1 254.4 224.4 254.3 224.8 254.8 225.3 254.2 225.8 254.4 226.0 254.8 226.2 254.6 226.5 254.6 226.7 254.8 226.9 254.5 227.4 254.5 227.6 254.1 227.9 254.6 228.1 254.6 228.3 254.7 228.6 254.2 228.8 254.3 229.0 254.7 229.2 254.6 229.5 254.8 229.7 254.3 229.9 254.5 230.2 254.4 230.4 254.6 230.6 254.4 231.1 254.7 231.3 254.6 231.6 254.1 231.8 254.7 232.0 254.6 232.3 254.3 232.5 254.3 233.0 254.6 233.4 254.1 233.7 254.6 233.9 254.5 234.1 255.0 234.4 254.2 234.6 255.1 235.1 254.6 235.3 254.9 235.5 254.5 235.8 254.7 236.0 254.3 236.2 254.5 236.7 254.2 236.9 254.4 237.2 254.4 237.6 254.8 237.9 254.5 238.3 254.5 238.5 254.1 238.8 254.6 239.2 254.5 239.7 254.1 239.9 254.4 240.4 254.8 240.9 254.8 241.1 254.6 241.3 254.8 241.6 254.5 242.0 254.7 242.3 255.1 242.7 254.2 243.0 254.8 243.2 254.3 243.4 254.5 243.9 254.3 244.1 254.8 244.6 254.4 244.8 254.5 245.1 254.4 245.3 254.6 245.8 254.3 246.2 254.4 246.5 254.6 246.7 254.3 247.2 254.6 247.4 255.0 247.6 254.7 247.9 253.8 248.1 254.4 248.3 254.4 248.8 254.8 249.0 254.7 249.2 254.0 249.5 254.6 249.9 254.6 250.2 254.8 250.4 254.3 250.6 254.7 250.9 254.1 251.1 254.5 251.3 254.6 251.6 255.0 251.8 254.3 252.0 254.1 252.3 254.7 252.5 254.4 252.7 254.8 253.0 254.3 253.2 254.3 253.4 254.8 253.7 254.5 253.9 254.7 254.1 254.2 254.4 254.9 254.6 254.4 254.8 254.7 255.1 254.3 255.3 254.2 256.0 254.8 256.2 254.6 256.7 254.6 256.9 255.2 257.2 254.3 257.4 254.8 257.6 254.5 257.8 254.6 258.1 254.4 258.3 254.8 258.5 254.2 258.8 254.2 259.0 254.5 259.2 254.2 259.5 254.7 259.7 254.7 259.9 254.3 260.2 254.7 260.4 254.4 260.9 254.5 261.1 254.9 261.3 254.5 261.6 254.3 261.8 254.3 262.0 254.8 262.3 254.1 262.5 254.4" fill="none" stroke="#2f2fff" stroke-width="1.1" stroke-linejoin="round"/>
<rect x="30.2" y="247.18" width="232.3" height="15.9" fill="none" stroke="#b0b0b0" stroke-width="1.1"/>
<text x="29.3" y="250" text-anchor="end" font-size="4.6" stroke="#444" stroke-width="0.1">0.01</text>
<text x="29.3" y="256.1" text-anchor="end" font-size="4.6" stroke="#444" stroke-width="0.1">0</text>
<text x="29.3" y="262.9" text-anchor="end" font-size="4.6" stroke="#444" stroke-width="0.1">-0.01</text>
<path d="M30.2 248.4h1.6M262.5 248.4h-1.6M30.2 254.5h1.6M262.5 254.5h-1.6M30.2 261.3h1.6M262.5 261.3h-1.6" stroke="#888" stroke-width="0.6" fill="none"/>
<text transform="translate(17 255.13) rotate(-90)" text-anchor="middle" font-size="5.2" stroke="#333" stroke-width="0.18">IMF 2</text>
<path d="M30.2 278.1L30.4 277.4 30.7 277.9 30.9 277.7 31.4 277.8 31.6 277.5 31.8 277.8 32.1 277.7 32.3 278.3 32.5 277.8 33.5 277.6 33.9 277.9 34.2 277.8 34.4 277.9 34.6 277.8 34.9 277.8 35.1 278.0 35.5 277.7 36.0 277.9 36.2 278.1 36.5 277.8 36.7 277.8 36.9 278.0 37.2 277.7 37.6 277.9 38.1 277.8 38.3 277.9 38.6 277.4 38.8 278.0 39.0 277.7 39.3 277.5 39.5 277.8 39.7 277.9 40.2 277.6 40.4 277.8 40.7 277.8 40.9 278.0 41.4 277.8 41.6 278.0 42.1 277.7 42.3 277.9 42.5 277.9 43.0 277.7 43.2 277.8 43.5 277.4 43.7 277.9 43.9 277.9 44.2 277.6 44.4 277.8 44.6 277.7 44.8 277.9 45.1 277.5 45.5 277.9 45.8 278.0 46.0 277.5 46.5 277.8 46.7 277.7 46.9 278.0 47.2 277.6 47.4 277.9 47.6 277.6 47.9 278.0 48.6 277.5 48.8 278.1 49.0 277.9 49.5 278.0 50.0 277.7 50.2 277.7 50.4 277.7 50.7 278.0 50.9 277.6 51.8 277.9 52.1 277.6 52.3 277.5 52.8 278.0 53.5 277.8 53.7 277.8 53.9 277.8 54.2 277.9 54.4 277.7 54.6 277.8 55.3 277.8 55.5 278.2 55.8 278.0 56.0 278.0 56.2 277.5 56.5 277.7 56.7 277.7 56.9 277.9 57.2 277.5 57.4 278.0 57.6 278.0 57.9 277.6 58.3 277.7 59.0 278.1 59.3 277.8 59.5 277.9 59.7 277.8 60.0 278.1 60.2 277.9 60.4 278.0 60.7 277.6 60.9 277.8 61.1 277.7 61.4 278.0 61.8 277.8 62.1 277.7 62.3 277.9 62.5 277.7 62.8 277.7 63.2 278.2 63.5 277.8 64.1 277.6 64.4 277.9 64.6 277.9 64.8 277.8 65.5 277.8 65.8 277.6 66.2 277.8 66.5 277.7 66.9 277.7 67.4 277.9 67.6 277.7 68.1 277.9 68.3 277.9 68.6 278.1 68.8 277.5 69.0 277.9 69.3 277.7 70.0 278.0 70.2 278.0 70.4 277.8 70.7 278.0 70.9 277.8 71.4 277.9 71.6 277.7 71.8 278.1 72.1 278.0 72.3 278.1 72.5 277.8 72.8 277.7 73.2 277.9 73.5 277.7 73.7 277.9 73.9 277.7 74.1 277.1 74.4 275.6 74.8 273.9 75.1 274.7 75.8 284.3 76.0 285.7 76.2 284.8 76.5 283.0 77.2 275.1 77.6 271.8 77.9 272.2 78.1 272.2 79.5 277.4 80.0 278.8 80.2 279.2 80.4 279.3 80.9 279.1 81.1 279.1 81.4 278.7 81.6 278.8 81.8 278.5 82.1 278.7 82.3 278.5 82.5 277.9 82.8 278.1 83.2 277.7 83.4 277.9 83.9 277.5 84.1 277.8 84.6 277.8 84.8 277.6 85.1 277.9 85.3 277.9 85.5 277.6 86.0 277.8 86.2 277.7 86.5 278.1 86.9 277.6 87.2 277.7 87.4 277.8 87.6 278.1 87.9 277.8 88.3 277.9 88.6 277.8 88.8 278.1 89.0 277.7 89.3 277.9 89.5 277.8 89.7 277.9 90.0 277.6 90.2 278.1 90.4 277.8 90.7 277.8 90.9 277.7 91.1 277.7 91.4 277.9 92.1 278.0 92.5 277.8 92.8 277.9 93.2 277.8 93.7 278.0 94.1 277.7 94.6 278.1 94.8 277.8 95.3 277.8 95.5 278.0 95.8 277.5 96.0 277.9 96.2 278.0 96.5 277.7 96.7 278.0 97.2 277.7 97.4 277.8 97.6 277.6 97.9 277.7 98.1 278.1 98.3 277.7 98.6 278.1 98.8 277.8 99.0 277.9 99.3 277.8 99.5 277.5 100.0 277.8 100.2 277.6 100.4 277.6 100.7 277.9 101.1 277.5 101.6 277.9 101.8 277.7 102.3 278.0 102.8 277.6 103.0 277.6 103.4 277.9 103.7 277.8 103.9 277.9 104.1 277.7 104.4 277.8 105.3 277.6 105.5 277.7 106.0 277.7 106.2 277.9 106.5 277.8 106.7 278.2 107.2 277.7 107.4 277.9 107.9 277.7 108.1 278.0 108.6 277.3 108.8 277.9 109.0 277.7 109.3 278.0 109.5 277.7 109.7 277.6 110.0 278.0 110.2 277.6 110.7 278.0 110.9 277.8 111.1 277.8 111.6 277.9 111.8 277.7 112.1 277.9 112.3 277.9 112.5 278.1 112.7 277.7 113.0 277.7 113.2 277.9 113.4 277.7 113.7 277.8 113.9 277.8 114.1 278.0 114.4 277.7 114.6 277.8 114.8 277.4 115.3 278.0 115.5 277.7 116.0 277.6 116.2 277.9 116.5 277.8 116.7 277.6 116.9 277.9 117.2 277.8 117.4 277.9 117.6 277.7 117.9 278.1 118.1 277.9 118.6 277.7 119.0 277.9 119.3 277.8 119.5 278.0 119.7 277.9 120.0 278.0 120.4 277.8 120.7 277.5 120.9 277.8 121.1 277.9 121.4 277.8 121.6 277.9 121.8 277.7 122.3 277.7 122.5 278.0 123.2 277.6 123.7 278.0 124.1 277.7 124.4 278.0 124.6 278.0 125.8 277.9 126.0 277.7 126.2 278.0 126.5 277.8 126.7 278.1 126.9 277.5 127.2 277.9 127.4 277.9 127.6 277.7 128.1 277.9 128.3 277.9 128.6 277.7 129.3 278.0 129.5 277.8 130.0 277.8 130.2 278.0 130.4 277.6 130.7 277.6 130.9 277.8 131.1 277.6 131.8 277.9 132.0 277.6 132.3 277.9 132.7 277.2 133.2 271.4 133.4 270.7 133.7 271.6 133.9 273.6 134.6 281.0 134.8 282.1 135.1 282.3 136.0 280.7 137.4 276.5 138.1 275.5 138.6 275.7 139.0 276.5 139.3 276.4 139.5 276.8 139.7 276.8 140.0 277.5 140.4 278.0 140.7 278.6 140.9 278.5 141.1 278.8 141.4 279.0 141.6 278.8 141.8 279.1 142.0 279.0 142.3 278.5 142.5 278.4 142.7 278.5 143.2 277.9 143.9 277.8 144.1 277.9 144.4 277.9 144.6 278.1 145.1 277.9 145.5 278.0 145.8 277.9 146.0 277.6 146.2 277.9 146.5 277.8 146.7 278.0 146.9 277.8 147.4 277.8 147.6 278.1 147.9 277.8 148.1 277.8 148.3 277.8 148.6 277.7 149.3 277.8 149.5 278.1 149.7 277.7 150.2 277.8 150.4 277.9 150.7 277.6 151.3 277.9 152.0 277.7 152.5 278.0 152.7 277.8 153.2 277.9 153.4 277.7 154.1 277.8 154.6 277.6 154.8 278.0 155.1 278.1 155.3 277.8 156.0 277.9 156.2 277.6 156.5 278.0 156.7 277.7 156.9 278.0 157.4 277.7 157.9 277.9 158.1 277.7 158.6 277.7 158.8 277.5 159.0 278.0 159.5 277.8 159.7 278.0 160.0 277.7 160.4 278.1 160.7 277.9 160.9 277.5 161.1 277.3 161.6 278.0 161.8 277.7 162.3 277.9 162.5 277.7 163.0 277.9 163.4 277.9 163.7 277.7 163.9 277.9 164.1 277.7 164.6 278.2 164.8 277.7 165.1 277.5 165.3 277.7 165.8 278.0 166.0 278.0 166.2 277.7 166.5 277.7 166.7 278.0 166.9 277.6 167.2 278.0 167.4 277.8 167.6 277.9 168.3 277.9 168.6 277.7 168.8 277.8 169.3 277.8 169.5 278.0 169.7 277.8 170.0 277.7 170.4 277.8 170.6 277.9 170.9 277.7 171.1 278.0 171.8 277.6 172.0 277.8 172.3 277.9 172.5 277.5 172.7 278.0 173.0 278.0 173.2 277.9 173.4 277.9 173.7 278.2 174.1 277.7 174.4 277.8 174.8 277.8 175.1 277.4 175.3 277.9 175.5 277.7 175.8 277.8 176.0 277.8 176.2 277.9 176.7 277.7 177.2 278.0 177.4 277.8 177.6 278.0 178.1 277.7 178.3 278.0 178.6 277.7 178.8 278.0 179.0 277.7 179.3 277.9 179.5 277.6 179.7 277.7 180.0 278.0 180.6 277.7 180.9 277.9 181.1 277.6 181.6 277.8 181.8 277.7 182.3 277.8 182.7 277.8 183.0 278.0 183.2 278.0 183.4 278.0 184.1 277.6 184.4 277.7 184.6 277.5 185.3 278.0 185.5 277.9 185.8 277.7 186.0 277.9 186.2 277.7 186.5 277.9 186.7 277.8 187.2 278.2 187.4 277.9 187.6 278.1 187.9 277.8 188.1 277.8 188.3 278.0 188.6 278.1 188.8 277.7 189.0 277.8 189.3 277.6 189.7 277.9 190.4 277.6 190.6 277.9 190.9 277.9 191.1 277.5 191.6 273.3 191.8 274.9 192.5 283.2 192.7 282.9 193.0 283.1 193.7 282.2 194.1 280.7 194.6 279.8 195.3 277.8 195.5 277.6 196.2 276.3 196.5 276.8 196.7 276.1 197.2 277.1 197.4 277.0 197.6 277.3 197.9 277.3 198.1 278.0 198.3 277.8 198.6 278.2 198.8 278.3 199.0 278.1 199.3 278.4 199.5 278.0 199.9 278.1 200.2 277.9 200.6 278.0 200.9 277.8 201.1 277.7 201.6 277.7 201.8 277.9 202.0 277.8 202.3 277.9 202.7 277.7 203.0 277.9 203.2 277.6 203.7 278.0 203.9 277.6 204.1 277.8 204.4 277.6 204.6 277.7 204.8 277.6 205.1 277.7 205.3 277.7 205.5 277.8 205.8 278.0 206.0 277.8 206.2 277.9 207.2 277.5 207.6 278.0 208.1 277.7 208.3 278.0 208.6 277.7 209.0 277.6 209.5 277.8 209.7 278.1 209.9 277.8 210.2 277.6 210.6 277.8 210.9 277.5 211.1 277.8 211.3 277.9 211.8 277.9 212.0 277.6 212.3 277.5 212.5 278.0 212.7 278.0 213.0 277.6 213.2 277.8 213.7 277.9 214.1 277.7 214.4 277.8 214.8 277.8 215.3 277.4 215.5 277.7 215.8 277.6 216.0 277.8 216.2 277.9 216.7 277.7 217.2 278.0 217.4 277.7 217.6 277.9 218.1 277.8 218.3 278.0 218.6 277.7 218.8 277.9 219.0 277.7 219.5 277.6 219.7 277.9 219.9 277.7 220.2 277.8 220.4 277.6 220.6 278.0 220.9 278.1 221.1 277.8 221.3 278.0 221.6 277.9 221.8 278.1 222.3 277.6 222.5 278.0 223.0 277.6 223.2 277.7 223.4 277.6 223.7 277.8 223.9 277.6 224.1 278.0 224.4 277.9 224.6 277.6 225.1 277.7 225.3 277.5 225.5 277.8 226.2 277.7 226.7 278.0 226.9 278.0 227.2 277.8 227.4 277.9 227.6 277.7 227.9 277.9 228.1 277.7 228.3 277.9 228.6 277.6 229.2 277.9 229.5 277.6 229.9 277.8 230.2 277.8 230.4 277.7 230.6 277.8 230.9 277.8 231.1 278.0 231.8 277.5 232.0 277.8 232.3 278.0 232.5 277.8 232.7 277.9 233.2 277.6 233.4 277.9 233.7 277.8 233.9 277.9 234.1 277.6 234.4 277.8 234.6 277.7 234.8 277.9 235.1 277.7 235.5 277.7 235.8 278.0 236.2 277.7 236.7 277.6 236.9 278.0 237.2 277.5 237.9 278.0 238.1 277.8 238.3 277.9 238.8 277.9 239.0 277.8 239.2 278.0 239.5 277.8 239.7 278.0 239.9 277.6 240.2 277.9 240.4 277.6 240.6 277.6 240.9 277.9 241.1 277.7 241.3 277.9 241.6 277.6 241.8 278.0 242.3 277.6 242.7 277.9 243.0 277.7 243.4 278.1 244.1 277.7 244.4 277.9 244.8 277.4 245.1 277.7 245.3 277.6 245.5 278.1 246.0 277.7 246.2 277.6 246.5 277.9 246.7 277.7 247.9 277.8 248.3 278.1 248.5 277.6 248.8 278.2 249.0 277.8 249.2 278.0 249.5 277.7 249.7 277.9 250.2 277.8 250.4 277.9 250.6 277.9 250.9 277.7 251.3 277.9 251.6 277.9 251.8 277.8 252.3 277.8 252.7 277.6 253.0 278.0 253.2 277.8 253.4 277.8 253.7 277.7 253.9 278.0 254.1 278.1 254.4 277.8 254.6 277.9 254.8 277.7 255.1 278.1 255.5 277.7 255.8 278.0 256.0 277.9 256.5 277.9 256.7 277.7 256.9 277.7 257.2 277.9 257.6 277.7 257.8 278.1 258.1 277.8 258.3 277.7 258.5 277.7 258.8 277.9 259.0 278.0 259.2 277.8 259.5 277.9 259.7 277.6 259.9 277.8 260.6 277.9 260.9 277.5 261.1 278.3 261.3 277.7 261.6 277.9 262.0 277.9 262.3 277.8 262.5 277.4" fill="none" stroke="#2f2fff" stroke-width="1.1" stroke-linejoin="round"/>
<rect x="30.2" y="270.36" width="232.3" height="15.9" fill="none" stroke="#b0b0b0" stroke-width="1.1"/>
<text x="29.3" y="274.2" text-anchor="end" font-size="4.6" stroke="#444" stroke-width="0.1">0.05</text>
<text x="29.3" y="279.4" text-anchor="end" font-size="4.6" stroke="#444" stroke-width="0.1">0</text>
<text x="29.3" y="284.8" text-anchor="end" font-size="4.6" stroke="#444" stroke-width="0.1">-0.05</text>
<path d="M30.2 272.6h1.6M262.5 272.6h-1.6M30.2 277.8h1.6M262.5 277.8h-1.6M30.2 283.2h1.6M262.5 283.2h-1.6" stroke="#888" stroke-width="0.6" fill="none"/>
<text transform="translate(17 278.31) rotate(-90)" text-anchor="middle" font-size="5.2" stroke="#333" stroke-width="0.18">IMF 3</text>
<path d="M30.2 301.9L70.6 301.9 71.3 301.8 72.8 301.0 73.4 300.9 73.6 301.0 73.9 301.6 75.1 306.1 75.5 306.9 75.8 307.3 75.9 307.2 76.1 306.8 76.4 305.3 77.8 294.8 78.1 293.8 78.2 293.7 78.6 294.2 79.0 296.0 80.9 307.6 81.3 309.1 81.5 309.4 81.7 309.4 82.0 309.1 82.4 308.1 84.3 301.1 84.7 299.8 85.2 299.2 85.5 299.2 85.8 299.4 87.5 301.5 87.8 301.8 88.2 301.9 129.7 301.9 130.2 302.1 131.1 303.1 131.6 303.4 131.7 303.4 132.0 302.8 133.3 298.4 133.6 297.9 133.7 297.8 134.0 298.4 134.3 299.7 135.6 307.1 135.9 307.9 136.0 308.0 136.4 307.6 136.8 305.9 138.4 297.9 138.7 297.0 139.0 296.6 139.3 296.8 139.8 297.7 141.5 303.3 141.9 304.1 142.2 304.3 142.6 304.1 142.9 303.8 143.9 302.2 144.3 302.0 144.6 301.9 188.0 301.9 188.4 302.1 189.4 303.3 189.7 303.5 189.8 303.5 190.3 303.1 190.7 302.4 192.6 298.5 193.1 297.9 193.4 297.8 193.7 298.0 194.2 299.2 195.7 305.0 196.0 305.7 196.3 305.9 196.6 305.7 196.9 305.4 198.7 301.7 199.1 301.0 199.4 300.8 200.0 300.9 201.4 301.8 202.1 301.9 262.5 301.9" fill="none" stroke="#2f2fff" stroke-width="1.1" stroke-linejoin="round"/>
<rect x="30.2" y="293.54" width="232.3" height="15.9" fill="none" stroke="#b0b0b0" stroke-width="1.1"/>
<text x="29.3" y="296.6" text-anchor="end" font-size="4.6" stroke="#444" stroke-width="0.1">0.2</text>
<text x="29.3" y="303.5" text-anchor="end" font-size="4.6" stroke="#444" stroke-width="0.1">0</text>
<text x="29.3" y="309.8" text-anchor="end" font-size="4.6" stroke="#444" stroke-width="0.1">-0.2</text>
<path d="M30.2 295h1.6M262.5 295h-1.6M30.2 301.9h1.6M262.5 301.9h-1.6M30.2 308.2h1.6M262.5 308.2h-1.6" stroke="#888" stroke-width="0.6" fill="none"/>
<text transform="translate(19.7 301.49) rotate(-90)" text-anchor="middle" font-size="5.2" stroke="#333" stroke-width="0.18">IMF 4</text>
<path d="M30.2 325.0L64.3 325.0 64.9 324.9 65.7 324.6 68.6 322.8 69.3 322.6 69.9 322.5 70.3 322.8 71.0 323.9 72.8 329.0 73.4 330.5 73.9 331.2 74.4 331.5 74.5 331.5 74.8 331.0 75.3 329.5 77.0 320.6 77.5 318.6 77.9 317.4 78.2 317.2 78.4 317.3 78.7 317.8 79.2 319.2 81.3 329.8 82.0 331.9 82.3 332.5 82.4 332.6 82.6 332.6 82.9 332.4 83.5 331.3 84.1 329.6 86.1 323.0 86.8 321.8 87.2 321.4 87.7 321.5 88.3 321.8 90.6 324.3 91.3 324.8 91.7 325.0 124.3 325.0 125.0 325.2 126.9 326.1 127.8 326.4 128.3 326.2 128.8 325.6 130.3 322.1 130.9 320.9 131.4 320.5 131.7 320.4 132.2 320.8 132.8 322.1 134.5 327.5 135.1 329.1 135.6 329.9 136.0 330.1 136.2 330.0 136.5 329.6 137.0 328.4 138.4 323.0 139.0 321.0 139.5 320.1 139.8 320.0 140.2 320.3 140.8 321.3 143.0 326.3 143.5 327.0 143.9 327.3 144.3 327.3 144.7 327.0 146.7 324.7 147.2 324.4 147.7 324.2 148.4 324.3 150.1 324.9 150.9 325.0 185.9 325.0 186.3 325.0 186.7 325.3 188.7 327.8 189.2 328.2 189.7 328.4 190.0 328.3 190.4 327.7 190.9 326.6 192.5 322.4 192.9 321.5 193.4 321.2 193.7 321.4 194.2 322.2 195.9 327.2 196.3 328.1 196.6 328.4 197.1 328.3 197.6 327.8 199.6 324.3 200.0 323.8 200.5 323.5 201.3 323.7 203.1 324.8 203.9 325.0 262.5 325.0" fill="none" stroke="#2f2fff" stroke-width="1.1" stroke-linejoin="round"/>
<rect x="30.2" y="316.72" width="232.3" height="15.9" fill="none" stroke="#b0b0b0" stroke-width="1.1"/>
<text x="29.3" y="320" text-anchor="end" font-size="4.6" stroke="#444" stroke-width="0.1">0.2</text>
<text x="29.3" y="326.6" text-anchor="end" font-size="4.6" stroke="#444" stroke-width="0.1">0</text>
<text x="29.3" y="333" text-anchor="end" font-size="4.6" stroke="#444" stroke-width="0.1">-0.2</text>
<path d="M30.2 318.4h1.6M262.5 318.4h-1.6M30.2 325h1.6M262.5 325h-1.6M30.2 331.4h1.6M262.5 331.4h-1.6" stroke="#888" stroke-width="0.6" fill="none"/>
<text transform="translate(20.1 324.67) rotate(-90)" text-anchor="middle" font-size="5.2" stroke="#333" stroke-width="0.18">IMF 5</text>
<path d="M30.2 348.1L51.7 348.1 53.0 347.9 54.4 347.6 60.3 345.8 61.8 345.6 63.1 345.5 64.0 345.8 65.1 346.8 66.0 347.8 68.3 350.8 69.4 352.0 70.3 352.7 70.8 352.9 71.3 352.9 71.6 352.8 72.0 352.5 73.0 351.2 73.9 349.3 75.8 345.0 76.7 343.3 77.5 342.3 77.9 342.0 78.2 342.0 78.6 342.1 79.0 342.4 79.9 343.8 80.9 345.8 82.7 350.2 83.7 352.1 84.4 353.1 84.9 353.4 85.2 353.5 85.5 353.4 86.0 353.2 86.8 352.4 87.7 351.1 89.7 347.5 90.6 346.1 91.6 345.1 92.3 344.8 93.3 344.9 94.2 345.2 98.1 347.5 99.0 347.9 99.8 348.1 105.1 348.6 110.6 348.9 116.2 349.1 121.8 349.2 122.6 349.0 123.5 348.5 126.4 345.5 127.4 344.7 128.1 344.3 128.9 344.2 129.7 344.6 130.5 345.3 133.1 349.4 134.0 350.6 134.8 351.2 135.4 351.4 136.0 351.2 136.7 350.6 137.4 349.5 139.9 345.4 140.7 344.5 141.2 344.3 141.5 344.2 142.1 344.3 142.9 344.8 143.8 345.7 146.6 348.9 147.5 349.6 148.3 349.8 149.1 349.7 149.8 349.5 153.2 348.1 154.8 347.7 184.2 347.7 184.7 347.8 185.2 348.1 187.3 350.1 187.8 350.3 188.1 350.3 188.7 350.0 189.4 349.5 191.5 346.7 192.3 345.8 192.9 345.4 193.4 345.3 194.0 345.4 194.8 346.0 195.6 346.7 197.9 349.4 198.7 350.0 199.4 350.3 200.0 350.2 200.7 349.8 203.6 346.9 204.4 346.4 205.0 346.3 206.1 346.5 208.7 347.8 210.0 348.1 262.5 348.1" fill="none" stroke="#2f2fff" stroke-width="1.1" stroke-linejoin="round"/>
<rect x="30.2" y="339.9" width="232.3" height="15.9" fill="none" stroke="#b0b0b0" stroke-width="1.1"/>
<text x="29.3" y="341.8" text-anchor="end" font-size="4.6" stroke="#444" stroke-width="0.1">0.2</text>
<text x="29.3" y="349.4" text-anchor="end" font-size="4.6" stroke="#444" stroke-width="0.1">0</text>
<text x="29.3" y="357" text-anchor="end" font-size="4.6" stroke="#444" stroke-width="0.1">-0.2</text>
<path d="M30.2 340.2h1.6M262.5 340.2h-1.6M30.2 347.8h1.6M262.5 347.8h-1.6M30.2 355.4h1.6M262.5 355.4h-1.6" stroke="#888" stroke-width="0.6" fill="none"/>
<text transform="translate(19.7 347.85) rotate(-90)" text-anchor="middle" font-size="5.2" stroke="#333" stroke-width="0.18">IMF 6</text>
<path d="M30.2 368.8L32.4 368.1 34.5 367.6 36.9 367.2 39.2 366.9 42.1 366.7 45.4 366.6 49.9 366.6 50.8 366.8 51.6 367.1 52.4 367.5 54.1 368.9 55.8 370.7 59.6 375.1 61.7 377.1 62.6 377.7 63.5 378.2 64.3 378.5 65.1 378.6 65.7 378.5 66.5 378.1 67.1 377.7 67.9 376.9 69.6 374.5 73.3 368.2 74.8 365.9 75.8 364.8 76.5 364.1 77.3 363.6 78.1 363.4 78.7 363.5 79.3 363.8 79.9 364.2 80.7 365.1 82.3 367.4 85.7 373.5 87.2 375.9 88.0 376.9 88.8 377.6 89.6 378.1 90.2 378.2 90.8 378.1 91.6 377.9 93.0 376.9 94.5 375.4 98.7 370.7 99.9 369.7 101.2 369.0 102.3 368.8 104.0 369.0 105.7 369.6 109.2 371.1 110.6 371.7 112.2 372.0 113.4 372.1 114.7 371.8 116.1 371.1 120.1 368.2 121.5 367.3 122.7 366.8 123.8 366.6 124.4 366.6 125.0 366.8 126.3 367.7 127.7 369.1 130.8 373.0 132.2 374.5 133.6 375.6 134.2 375.9 134.8 376.0 135.3 376.0 135.9 375.7 137.0 374.9 138.2 373.5 141.0 369.6 142.2 368.1 143.5 367.0 144.1 366.7 144.6 366.6 146.0 366.8 147.7 367.4 149.4 368.5 154.3 372.0 155.7 372.7 157.1 373.1 158.8 373.2 160.8 372.9 163.2 372.2 169.7 370.0 171.7 369.6 173.5 369.5 174.6 369.7 175.9 370.1 177.3 370.9 181.5 373.5 182.8 374.1 184.1 374.3 185.0 374.2 186.1 373.6 187.3 372.6 190.0 369.8 191.1 368.8 192.3 368.0 193.4 367.7 194.3 367.9 195.4 368.5 196.6 369.5 199.3 372.2 200.4 373.2 201.6 374.0 202.7 374.3 203.9 374.2 205.3 373.7 206.9 373.0 211.7 370.1 213.1 369.6 214.5 369.3 219.9 369.5 230.3 370.3 234.5 370.5 250.3 370.9 262.5 371.0" fill="none" stroke="#2f2fff" stroke-width="1.1" stroke-linejoin="round"/>
<rect x="30.2" y="363.08" width="232.3" height="15.9" fill="none" stroke="#b0b0b0" stroke-width="1.1"/>
<text x="29.3" y="365.4" text-anchor="end" font-size="4.6" stroke="#444" stroke-width="0.1">0.1</text>
<text x="29.3" y="372.2" text-anchor="end" font-size="4.6" stroke="#444" stroke-width="0.1">0</text>
<text x="29.3" y="379.4" text-anchor="end" font-size="4.6" stroke="#444" stroke-width="0.1">-0.1</text>
<path d="M30.2 363.8h1.6M262.5 363.8h-1.6M30.2 370.6h1.6M262.5 370.6h-1.6M30.2 377.8h1.6M262.5 377.8h-1.6" stroke="#888" stroke-width="0.6" fill="none"/>
<text transform="translate(19.7 371.03) rotate(-90)" text-anchor="middle" font-size="5.2" stroke="#333" stroke-width="0.18">IMF 7</text>
<path d="M30.2 397.7L32.7 398.7 35.2 399.4 37.8 400.0 40.6 400.5 43.8 400.8 47.4 400.9 53.1 401.0 54.7 400.8 55.9 400.5 57.2 400.0 59.8 398.6 62.4 396.8 68.5 392.2 71.6 390.2 73.0 389.5 74.4 388.9 75.8 388.6 77.0 388.5 78.1 388.6 79.2 388.8 80.3 389.2 81.5 389.8 84.1 391.4 89.7 395.6 92.2 397.3 93.6 398.0 94.8 398.5 96.1 398.9 97.1 399.0 98.1 399.0 99.2 398.8 101.3 398.0 104.0 396.6 109.2 393.1 111.6 391.7 112.8 391.1 114.0 390.7 115.1 390.4 116.2 390.3 117.1 390.3 118.2 390.5 120.4 391.2 122.9 392.4 128.0 395.5 130.2 396.7 132.5 397.5 133.6 397.8 134.6 397.9 136.5 397.7 138.5 397.1 140.8 395.9 145.7 392.9 147.7 391.9 149.8 391.0 150.9 390.8 151.9 390.7 154.3 390.9 157.0 391.5 160.1 392.5 166.7 395.2 169.5 396.2 172.5 397.0 175.1 397.3 177.0 397.2 179.1 396.6 181.5 395.7 186.4 393.3 188.6 392.3 190.7 391.7 192.8 391.4 194.9 391.5 197.3 392.0 199.9 392.9 205.2 394.9 207.5 395.7 209.8 396.3 212.0 396.6 214.8 396.5 217.9 396.2 221.0 395.7 230.0 393.9 232.7 393.5 235.2 393.3 243.9 393.3 251.0 393.5 257.1 393.8 262.5 394.4" fill="none" stroke="#2f2fff" stroke-width="1.1" stroke-linejoin="round"/>
<rect x="30.2" y="386.26" width="232.3" height="15.9" fill="none" stroke="#b0b0b0" stroke-width="1.1"/>
<text x="29.3" y="388.5" text-anchor="end" font-size="4.6" stroke="#444" stroke-width="0.1">0.1</text>
<text x="29.3" y="396.1" text-anchor="end" font-size="4.6" stroke="#444" stroke-width="0.1">0</text>
<text x="29.3" y="403.5" text-anchor="end" font-size="4.6" stroke="#444" stroke-width="0.1">-0.1</text>
<path d="M30.2 386.9h1.6M262.5 386.9h-1.6M30.2 394.5h1.6M262.5 394.5h-1.6M30.2 401.9h1.6M262.5 401.9h-1.6" stroke="#888" stroke-width="0.6" fill="none"/>
<text transform="translate(19.8 394.21) rotate(-90)" text-anchor="middle" font-size="5.2" stroke="#333" stroke-width="0.18">IMF 8</text>
<path d="M30.2 423.0L42.0 422.8 44.6 422.5 47.4 421.9 50.7 421.1 54.4 419.8 67.4 414.6 72.8 412.6 75.8 411.8 78.4 411.3 80.9 410.9 83.4 410.8 85.8 410.9 88.3 411.2 90.9 411.7 93.9 412.5 96.8 413.4 99.9 414.5 112.6 419.8 118.1 421.8 121.0 422.7 123.8 423.3 126.4 423.8 128.9 424.1 131.7 424.1 134.6 423.9 137.7 423.4 141.2 422.7 144.4 421.8 148.1 420.6 162.9 415.1 169.1 413.1 172.5 412.2 175.6 411.6 178.5 411.2 181.5 411.0 184.7 411.1 188.1 411.4 191.7 411.9 195.4 412.6 202.7 414.4 216.2 418.4 221.4 419.8 227.0 421.1 232.0 421.9 234.8 422.2 237.5 422.4 246.4 422.3 254.9 422.0 262.5 421.3" fill="none" stroke="#2f2fff" stroke-width="1.1" stroke-linejoin="round"/>
<rect x="30.2" y="409.44" width="232.3" height="15.9" fill="none" stroke="#b0b0b0" stroke-width="1.1"/>
<text x="29.3" y="412" text-anchor="end" font-size="4.6" stroke="#444" stroke-width="0.1">0.05</text>
<text x="29.3" y="419.2" text-anchor="end" font-size="4.6" stroke="#444" stroke-width="0.1">0</text>
<text x="29.3" y="427" text-anchor="end" font-size="4.6" stroke="#444" stroke-width="0.1">-0.05</text>
<path d="M30.2 410.4h1.6M262.5 410.4h-1.6M30.2 417.6h1.6M262.5 417.6h-1.6M30.2 425.4h1.6M262.5 425.4h-1.6" stroke="#888" stroke-width="0.6" fill="none"/>
<text transform="translate(17.2 417.39) rotate(-90)" text-anchor="middle" font-size="5.2" stroke="#333" stroke-width="0.18">IMF 9</text>
<path d="M30.2 435.0L39.3 435.1 51.3 435.6 56.9 435.9 62.6 436.5 69.3 437.4 76.7 438.7 104.3 444.1 115.7 446.0 121.9 446.9 127.7 447.5 133.3 447.9 138.5 448.0 144.9 447.9 151.7 447.6 158.8 447.1 166.4 446.3 180.4 444.6 213.2 439.8 221.6 438.7 229.2 437.9 235.7 437.4 241.9 437.1 252.6 436.7 262.5 436.5" fill="none" stroke="#2f2fff" stroke-width="1.1" stroke-linejoin="round"/>
<rect x="30.2" y="432.62" width="232.3" height="15.9" fill="none" stroke="#b0b0b0" stroke-width="1.1"/>
<text x="29.3" y="436.6" text-anchor="end" font-size="4.6" stroke="#444" stroke-width="0.1">0.04</text>
<text x="29.3" y="439.5" text-anchor="end" font-size="4.6" stroke="#444" stroke-width="0.1">0.02</text>
<text x="29.3" y="443.2" text-anchor="end" font-size="4.6" stroke="#444" stroke-width="0.1">0</text>
<text x="29.3" y="448.6" text-anchor="end" font-size="4.6" stroke="#444" stroke-width="0.1">-0.02</text>
<path d="M30.2 435h1.6M262.5 435h-1.6M30.2 437.9h1.6M262.5 437.9h-1.6M30.2 441.6h1.6M262.5 441.6h-1.6M30.2 447h1.6M262.5 447h-1.6" stroke="#888" stroke-width="0.6" fill="none"/>
<text transform="translate(17.2 440.57) rotate(-90)" text-anchor="middle" font-size="5.2" stroke="#333" stroke-width="0.18">IMF 10</text>
<path d="M313.2 234.7L313.4 230.3 313.5 237.4 313.7 230.0 313.8 234.1 314.0 231.7 314.1 235.5 314.3 231.1 314.4 234.5 314.6 231.6 314.7 235.1 314.9 232.0 315.0 237.2 315.2 230.2 315.3 236.9 315.5 231.3 315.7 238.1 315.8 230.9 316.0 236.0 316.1 230.8 316.3 235.2 316.4 232.8 316.6 235.6 316.7 233.1 316.9 234.4 317.0 231.1 317.2 234.5 317.3 229.0 317.5 236.2 317.7 231.7 317.8 235.5 318.0 230.8 318.1 237.0 318.3 230.8 318.4 235.1 318.6 232.8 318.7 234.8 318.9 231.7 319.0 234.7 319.2 231.5 319.3 234.7 319.5 230.2 319.6 235.3 319.8 230.2 320.0 237.7 320.1 231.9 320.3 238.9 320.4 232.5 320.6 234.7 320.7 232.2 320.9 235.2 321.0 228.8 321.2 238.4 321.3 229.6 321.5 237.2 321.6 228.5 321.8 236.2 321.9 232.4 322.1 234.6 322.3 229.8 322.4 236.5 322.6 232.6 322.7 236.6 322.9 230.8 323.0 236.4 323.2 230.0 323.3 234.5 323.5 232.8 323.6 234.4 323.8 231.6 323.9 235.6 324.1 230.0 324.3 236.2 324.4 232.6 324.6 234.8 324.7 232.2 324.9 236.0 325.0 228.3 325.2 235.2 325.3 231.6 325.5 234.9 325.6 230.4 325.8 237.9 325.9 230.4 326.1 236.0 326.2 232.7 326.4 235.9 326.6 230.8 326.7 235.1 326.9 232.6 327.0 237.2 327.2 231.4 327.3 234.8 327.5 231.3 327.6 236.2 327.8 232.2 327.9 237.8 328.1 232.7 328.2 235.0 328.4 230.2 328.6 239.6 328.7 231.8 328.9 234.7 329.0 228.9 329.2 237.3 329.3 227.0 329.5 237.9 329.6 232.3 329.8 236.1 329.9 229.1 330.1 235.0 330.2 231.5 330.4 235.7 330.5 233.1 330.7 234.4 330.9 233.1 331.0 226.1 331.2 241.1 331.3 236.2 331.5 232.9 331.6 234.4 331.8 230.5 331.9 237.2 332.1 231.5 332.2 239.1 332.4 230.2 332.5 236.9 332.7 228.4 332.8 241.0 333.0 228.1 333.2 236.3 333.3 229.9 333.5 236.4 333.6 232.9 333.8 237.3 333.9 231.8 334.1 239.8 334.2 230.2 334.4 238.2 334.5 231.2 334.7 235.3 334.8 230.7 335.0 235.9 335.2 231.1 335.3 235.0 335.5 230.8 335.6 236.2 335.8 228.9 335.9 237.0 336.1 231.5 336.2 235.5 336.4 232.6 336.5 235.2 336.7 232.5 336.8 237.2 337.0 231.4 337.1 238.4 337.3 229.6 337.5 235.8 337.6 230.9 337.8 235.3 337.9 231.4 338.1 234.3 338.2 231.8 338.4 235.6 338.5 232.1 338.7 235.4 338.8 232.4 339.0 234.7 339.1 233.0 339.3 234.2 339.4 232.1 339.6 234.8 339.8 232.3 339.9 234.8 340.1 231.1 340.2 234.6 340.4 230.4 340.5 235.0 340.7 232.8 340.8 234.1 341.0 232.1 341.1 235.5 341.3 232.9 341.4 234.3 341.6 231.3 341.8 236.0 341.9 232.7 342.1 236.1 342.2 231.1 342.4 234.8 342.5 230.3 342.7 235.5 342.8 230.0 343.0 234.3 343.1 232.7 343.3 235.2 343.4 232.5 343.6 235.2 343.7 232.4 343.9 235.1 344.1 229.1 344.2 235.4 344.4 231.9 344.5 236.0 344.7 230.7 344.8 236.6 345.0 232.6 345.1 234.5 345.3 229.0 345.4 240.2 345.6 232.6 345.7 234.7 345.9 231.1 346.0 240.7 346.2 232.8 346.4 235.9 346.5 230.5 346.7 235.1 346.8 230.3 347.0 235.4 347.1 233.1 347.3 235.1 347.4 232.6 347.6 234.1 347.7 230.3 347.9 234.3 348.0 232.3 348.2 237.3 348.4 231.9 348.5 234.8 348.7 232.0 348.8 236.7 349.0 230.0 349.1 234.6 349.3 232.1 349.4 237.8 349.6 232.5 349.7 235.7 349.9 232.4 350.0 236.6 350.2 230.6 350.3 234.4 350.5 232.4 350.7 234.5 350.8 232.2 351.0 235.5 351.1 232.8 351.3 234.6 351.4 231.9 351.6 235.6 351.7 232.6 351.9 234.3 352.0 232.5 352.2 235.9 352.3 231.3 352.5 236.1 352.7 231.6 352.8 234.5 353.0 232.8 353.1 236.5 353.3 230.2 353.4 235.7 353.6 232.0 353.7 238.5 353.9 228.1 354.0 237.7 354.2 232.2 354.3 236.6 354.5 230.8 354.6 235.1 354.8 232.5 355.0 235.2 355.1 232.6 355.3 235.9 355.4 231.7 355.6 234.7 355.7 232.9 355.9 234.1 356.0 232.5 356.2 235.9 356.3 232.0 356.5 238.0 356.6 233.0 356.8 236.0 356.9 229.3 357.1 235.2 357.3 231.5 357.4 234.3 357.6 229.6 357.7 236.2 357.9 230.5 358.0 236.6 358.2 232.1 358.3 235.4 358.5 233.1 358.6 234.1 358.8 232.0 358.9 235.0 359.1 232.9 359.3 236.5 359.4 231.8 359.6 234.6 359.7 232.9 359.9 234.2 360.0 233.0 360.2 235.3 360.3 232.3 360.5 234.1 360.6 230.8 360.8 234.9 360.9 231.6 361.1 237.2 361.2 228.9 361.4 235.4 361.6 226.7 361.7 237.8 361.9 228.9 362.0 226.6 362.2 240.6 362.3 236.8 362.5 231.8 362.6 234.7 362.8 232.1 362.9 236.1 363.1 231.1 363.2 236.4 363.4 232.4 363.5 239.2 363.7 229.5 363.9 235.5 364.0 229.1 364.2 236.9 364.3 230.4 364.5 234.8 364.6 230.2 364.8 237.1 364.9 231.8 365.1 236.1 365.2 231.9 365.4 235.1 365.5 232.2 365.7 235.1 365.9 232.9 366.0 236.7 366.2 229.1 366.3 234.8 366.5 230.8 366.6 235.0 366.8 231.0 366.9 235.2 367.1 232.1 367.2 236.2 367.4 231.9 367.5 235.5 367.7 230.3 367.8 237.4 368.0 231.3 368.2 238.1 368.3 232.2 368.5 234.6 368.6 232.8 368.8 235.1 368.9 230.6 369.1 235.1 369.2 228.1 369.4 238.2 369.5 231.7 369.7 236.0 369.8 229.4 370.0 242.3 370.1 232.4 370.3 235.7 370.5 231.9 370.6 238.3 370.8 231.3 370.9 240.1 371.1 230.6 371.2 236.1 371.4 232.2 371.5 236.0 371.7 230.2 371.8 235.6 372.0 232.4 372.1 234.6 372.3 231.5 372.5 234.6 372.6 232.0 372.8 235.0 372.9 232.7 373.1 236.7 373.2 232.9 373.4 235.5 373.5 232.6 373.7 236.1 373.8 233.1 374.0 234.7 374.1 229.5 374.3 236.2 374.4 232.4 374.6 236.8 374.8 232.1 374.9 234.1 375.1 232.0 375.2 234.6 375.4 232.6 375.5 237.2 375.7 230.6 375.8 238.1 376.0 231.3 376.1 235.1 376.3 231.3 376.4 234.2 376.6 231.6 376.7 237.6 376.9 230.0 377.1 237.4 377.2 231.2 377.4 235.8 377.5 231.4 377.7 236.1 377.8 229.1 378.0 234.5 378.1 232.4 378.3 234.5 378.4 231.8 378.6 239.5 378.7 232.3 378.9 237.4 379.1 230.6 379.2 238.3 379.4 229.6 379.5 235.2 379.7 232.3 379.8 234.2 380.0 232.9 380.1 236.2 380.3 231.9 380.4 236.4 380.6 232.6 380.7 238.1 380.9 232.4 381.0 235.7 381.2 230.9 381.4 236.2 381.5 232.2 381.7 236.2 381.8 230.9 382.0 235.5 382.1 232.2 382.3 237.7 382.4 231.7 382.6 238.6 382.7 230.6 382.9 235.0 383.0 231.3 383.2 234.3 383.4 232.5 383.5 236.3 383.7 232.3 383.8 234.3 384.0 232.4 384.1 235.6 384.3 231.3 384.4 234.9 384.6 232.1 384.7 235.1 384.9 229.8 385.0 236.3 385.2 233.0 385.3 237.5 385.5 227.7 385.7 238.9 385.8 228.6 386.0 234.9 386.1 231.8 386.3 234.8 386.4 232.3 386.6 236.0 386.7 229.9 386.9 234.9 387.0 228.6 387.2 235.0 387.3 230.7 387.5 234.8 387.6 229.2 387.8 235.1 388.0 232.2 388.1 236.0 388.3 230.1 388.4 238.9 388.6 232.5 388.7 235.3 388.9 230.2 389.0 238.9 389.2 232.7 389.3 235.1 389.5 233.0 389.6 235.6 389.8 232.0 390.0 236.4 390.1 233.0 390.3 234.9 390.4 232.8 390.6 237.0 390.7 230.8 390.9 234.2 391.0 231.2 391.2 236.4 391.3 232.6 391.5 234.6 391.6 232.6 391.8 236.1 391.9 233.0 392.1 235.1 392.3 230.1 392.4 238.1 392.6 232.0 392.7 235.1 392.9 230.8 393.0 235.9 393.2 231.2 393.3 235.7 393.5 229.1 393.6 236.2 393.8 231.7 393.9 235.3 394.1 231.2 394.2 234.6 394.4 232.1 394.6 235.2 394.7 229.7 394.9 235.3 395.0 231.2 395.2 234.6 395.3 231.3 395.5 234.2 395.6 231.0 395.8 237.6 395.9 232.9 396.1 235.2 396.2 231.7 396.4 240.1 396.6 232.3 396.7 235.8 396.9 231.5 397.0 234.8 397.2 227.4 397.3 234.6 397.5 229.4 397.6 234.2 397.8 231.9 397.9 235.0 398.1 231.8 398.2 234.5 398.4 231.7 398.5 238.1 398.7 232.7 398.9 236.0 399.0 230.4 399.2 236.9 399.3 231.9 399.5 234.9 399.6 230.7 399.8 235.0 399.9 231.0 400.1 236.2 400.2 232.3 400.4 237.7 400.5 232.1 400.7 234.6 400.8 230.6 401.0 237.9 401.2 231.7 401.3 234.8 401.5 230.6 401.6 236.9 401.8 231.9 401.9 239.1 402.1 231.5 402.2 237.6 402.4 228.6 402.5 235.7 402.7 230.6 402.8 240.9 403.0 232.7 403.2 236.9 403.3 231.7 403.5 234.7 403.6 232.6 403.8 234.5 403.9 232.6 404.1 235.1 404.2 228.5 404.4 235.4 404.5 232.6 404.7 234.5 404.8 229.1 405.0 235.9 405.1 232.6 405.3 236.5 405.5 231.9 405.6 237.0 405.8 232.5 405.9 237.0 406.1 230.8 406.2 236.4 406.4 230.0 406.5 235.1 406.7 230.0 406.8 234.2 407.0 231.1 407.1 236.6 407.3 233.0 407.5 227.1 407.6 240.1 407.8 234.4 407.9 231.7 408.1 235.5 408.2 230.7 408.4 236.3 408.5 232.2 408.7 237.2 408.8 231.5 409.0 236.0 409.1 230.7 409.3 234.4 409.4 232.0 409.6 236.7 409.8 232.1 409.9 234.4 410.1 226.4 410.2 234.5 410.4 228.0 410.5 242.0 410.7 225.3 410.8 240.7 411.0 229.6 411.1 239.6 411.3 232.1 411.4 236.4 411.6 232.6 411.7 234.7 411.9 231.0 412.1 236.4 412.2 231.3 412.4 237.4 412.5 231.0 412.7 235.4 412.8 232.9 413.0 236.4 413.1 231.6 413.3 235.6 413.4 231.1 413.6 234.8 413.7 232.1 413.9 235.4 414.1 232.6 414.2 235.1 414.4 233.0 414.5 237.8 414.7 232.0 414.8 236.1 415.0 231.1 415.1 234.4 415.3 230.4 415.4 237.3 415.6 230.9 415.7 241.5 415.9 232.1 416.0 237.4 416.2 231.1 416.4 238.8 416.5 232.0 416.7 235.5 416.8 229.7 417.0 235.7 417.1 231.7 417.3 237.9 417.4 231.3 417.6 236.8 417.7 229.4 417.9 236.9 418.0 230.9 418.2 235.5 418.3 226.4 418.5 237.8 418.7 232.5 418.8 236.4 419.0 231.3 419.1 237.1 419.3 232.0 419.4 234.8 419.6 231.8 419.7 234.4 419.9 229.8 420.0 237.2 420.2 231.9 420.3 234.7 420.5 230.0 420.7 236.1 420.8 232.2 421.0 234.7 421.1 227.3 421.3 236.6 421.4 232.6 421.6 237.0 421.7 230.7 421.9 236.0 422.0 231.0 422.2 235.5 422.3 231.2 422.5 240.8 422.6 232.1 422.8 235.5 423.0 230.8 423.1 235.2 423.3 229.9 423.4 234.8 423.6 232.2 423.7 238.4 423.9 231.9 424.0 235.9 424.2 232.5 424.3 234.3 424.5 231.9 424.6 236.5 424.8 232.3 424.9 234.2 425.1 232.0 425.3 235.1 425.4 233.1 425.6 234.9 425.7 231.7 425.9 234.3 426.0 231.2 426.2 235.5 426.3 232.4 426.5 234.9 426.6 231.8 426.8 235.3 426.9 233.0 427.1 235.8 427.3 230.0 427.4 235.0 427.6 229.0 427.7 236.3 427.9 229.5 428.0 237.6 428.2 228.1 428.3 237.4 428.5 231.0 428.6 239.8 428.8 232.7 428.9 234.6 429.1 230.4 429.2 236.4 429.4 231.6 429.6 234.6 429.7 231.0 429.9 235.1 430.0 231.6 430.2 237.1 430.3 231.3 430.5 234.5 430.6 232.3 430.8 235.9 430.9 229.1 431.1 234.4 431.2 232.2 431.4 235.1 431.6 226.1 431.7 238.6 431.9 228.6 432.0 234.4 432.2 232.0 432.3 237.0 432.5 230.6 432.6 235.1 432.8 232.4 432.9 236.7 433.1 230.7 433.2 235.2 433.4 230.5 433.5 234.6 433.7 231.7 433.9 236.6 434.0 231.9 434.2 237.9 434.3 232.8 434.5 234.3 434.6 232.8 434.8 235.2 434.9 230.0 435.1 235.9 435.2 230.9 435.4 235.1 435.5 231.5 435.7 235.5 435.8 231.9 436.0 237.0 436.2 231.5 436.3 236.7 436.5 232.7 436.6 234.8 436.8 231.6 436.9 235.1 437.1 231.6 437.2 236.3 437.4 230.3 437.5 234.4 437.7 231.8 437.8 235.7 438.0 232.3 438.2 237.5 438.3 231.9 438.5 236.5 438.6 232.3 438.8 236.1 438.9 232.1 439.1 234.4 439.2 231.1 439.4 235.9 439.5 232.1 439.7 235.8 439.8 229.5 440.0 234.8 440.1 231.7 440.3 237.6 440.5 230.4 440.6 237.4 440.8 233.0 440.9 234.5 441.1 232.2 441.2 236.2 441.4 230.4 441.5 234.8 441.7 229.3 441.8 234.4 442.0 229.4 442.1 234.2 442.3 232.7 442.4 235.9 442.6 233.1 442.8 234.4 442.9 232.5 443.1 236.2 443.2 232.7 443.4 235.5 443.5 231.0 443.7 234.1 443.8 232.5 444.0 235.6 444.1 232.9 444.3 234.2 444.4 233.0 444.6 234.3 444.8 232.4 444.9 236.5 445.1 231.5 445.2 235.3 445.4 230.6 445.5 235.8 445.7 232.8 445.8 234.6 446.0 231.2 446.1 238.1 446.3 232.4 446.4 234.6 446.6 232.5 446.7 235.7 446.9 232.4 447.1 234.3 447.2 232.1 447.4 237.7 447.5 231.6 447.7 237.0 447.8 232.6 448.0 235.5 448.1 232.5 448.3 237.1 448.4 229.1 448.6 238.4 448.7 230.2 448.9 238.0 449.0 231.3 449.2 238.3 449.4 230.9 449.5 238.8 449.7 232.6 449.8 234.4 450.0 231.2 450.1 235.7 450.3 227.8 450.4 239.1 450.6 228.0 450.7 236.9 450.9 229.6 451.0 235.3 451.2 231.1 451.4 237.9 451.5 232.8 451.7 238.9 451.8 231.3 452.0 234.9 452.1 232.2 452.3 237.4 452.4 228.5 452.6 237.7 452.7 231.6 452.9 237.5 453.0 231.9 453.2 236.7 453.3 229.0 453.5 235.9 453.7 233.1 453.8 234.6 454.0 231.1 454.1 234.3 454.3 232.7 454.4 236.8 454.6 229.8 454.7 238.2 454.9 231.1 455.0 236.2 455.2 228.4 455.3 240.4 455.5 229.2 455.7 236.4 455.8 227.1 456.0 235.2 456.1 232.7 456.3 235.5 456.4 232.9 456.6 235.9 456.7 230.2 456.9 234.4 457.0 232.5 457.2 241.0 457.3 231.7 457.5 239.2 457.6 229.8 457.8 234.7 458.0 225.9 458.1 235.2 458.3 229.2 458.4 236.4 458.6 231.2 458.7 237.6 458.9 230.8 459.0 236.2 459.2 228.6 459.3 235.8 459.5 232.3 459.6 235.4 459.8 232.6 459.9 237.6 460.1 232.2 460.3 234.5 460.4 229.5 460.6 234.1 460.7 232.1 460.9 236.1 461.0 232.8 461.2 234.4 461.3 230.9 461.5 234.6 461.6 230.5 461.8 235.0 461.9 227.5 462.1 234.5 462.3 230.5 462.4 235.8 462.6 229.2 462.7 237.4 462.9 232.0 463.0 236.7 463.2 228.7 463.3 237.8 463.5 229.5 463.6 237.2 463.8 232.5 463.9 234.1 464.1 231.5 464.2 234.6 464.4 232.0 464.6 235.7 464.7 231.2 464.9 235.2 465.0 230.9 465.2 239.5 465.3 230.8 465.5 238.7 465.6 232.4 465.8 234.9 465.9 230.9 466.1 235.4 466.2 230.6 466.4 238.4 466.5 228.6 466.7 234.7 466.9 229.5 467.0 236.2 467.2 229.8 467.3 237.2 467.5 230.4 467.6 238.8 467.8 229.6 467.9 238.4 468.1 225.5 468.2 237.6 468.4 230.4 468.5 235.2 468.7 231.0 468.9 235.7 469.0 229.7 469.2 235.4 469.3 232.6 469.5 234.8 469.6 232.4 469.8 234.9 469.9 231.2 470.1 235.2 470.2 229.8 470.4 234.8 470.5 227.9 470.7 236.4 470.8 227.6 471.0 235.3 471.2 231.5 471.3 238.0 471.5 232.7 471.6 238.3 471.8 229.4 471.9 236.6 472.1 231.8 472.2 235.6 472.4 227.7 472.5 238.8 472.7 231.8 472.8 235.4 473.0 230.3 473.1 234.9 473.3 230.9 473.5 237.9 473.6 229.5 473.8 236.9 473.9 231.1 474.1 237.4 474.2 232.0 474.4 234.3 474.5 232.7 474.7 235.6 474.8 230.0 475.0 235.0 475.1 229.8 475.3 235.2 475.5 229.6 475.6 239.2 475.8 229.7 475.9 234.4 476.1 232.5 476.2 234.6 476.4 231.5 476.5 238.9 476.7 230.5 476.8 235.0 477.0 232.6 477.1 236.2 477.3 232.2 477.4 234.4 477.6 233.1 477.8 235.6 477.9 231.7 478.1 234.5 478.2 232.0 478.4 236.9 478.5 230.9 478.7 235.9 478.8 232.3 479.0 235.6 479.1 233.1 479.3 234.8 479.4 231.0 479.6 235.5 479.8 231.8 479.9 237.7 480.1 231.7 480.2 234.9 480.4 232.5 480.5 234.4 480.7 232.6 480.8 234.8 481.0 228.4 481.1 235.1 481.3 230.3 481.4 235.5 481.6 230.9 481.7 236.1 481.9 232.6 482.1 237.5 482.2 230.9 482.4 235.6 482.5 231.8 482.7 238.1 482.8 231.0 483.0 234.5 483.1 231.9 483.3 234.8 483.4 231.2 483.6 236.1 483.7 231.3 483.9 236.5 484.0 233.1 484.2 236.4 484.4 231.2 484.5 234.4 484.7 232.9 484.8 237.0 485.0 231.9 485.1 236.6 485.3 229.9 485.4 236.2 485.6 232.0 485.7 235.8 485.9 226.0 486.0 239.1 486.2 228.5 486.4 237.2 486.5 232.1 486.7 236.2 486.8 230.0 487.0 240.0 487.1 229.9 487.3 240.2 487.4 230.0 487.6 235.3 487.7 231.1 487.9 237.3 488.0 228.5 488.2 236.2 488.3 229.3 488.5 234.4 488.7 229.7 488.8 234.9 489.0 226.6 489.1 240.6 489.3 232.1 489.4 235.1 489.6 231.3 489.7 235.7 489.9 231.9 490.0 234.1 490.2 230.4 490.3 234.1 490.5 230.0 490.6 234.7 490.8 232.7 491.0 236.1 491.1 232.1 491.3 235.7 491.4 233.0 491.6 236.9 491.7 231.0 491.9 235.5 492.0 233.1 492.2 235.9 492.3 231.1 492.5 234.4 492.6 232.8 492.8 234.6 493.0 230.6 493.1 234.8 493.3 231.8 493.4 235.4 493.6 232.1 493.7 235.9 493.9 232.6 494.0 235.1 494.2 230.7 494.3 235.9 494.5 232.6 494.6 234.7 494.8 232.9 494.9 235.9 495.1 226.1 495.3 236.3 495.4 231.2 495.6 235.9 495.7 228.2 495.9 235.9 496.0 232.8 496.2 238.3 496.3 231.2 496.5 234.1 496.6 232.7 496.8 235.1 496.9 230.8 497.1 234.9 497.2 230.6 497.4 237.0 497.6 229.5 497.7 235.2 497.9 230.8 498.0 235.3 498.2 233.1 498.3 234.2 498.5 231.1 498.6 234.7 498.8 231.4 498.9 234.6 499.1 232.1 499.2 236.0 499.4 230.7 499.6 234.8 499.7 232.3 499.9 234.4 500.0 233.0 500.2 235.7 500.3 231.7 500.5 234.9 500.6 233.1 500.8 235.9 500.9 231.1 501.1 235.0 501.2 232.7 501.4 236.1 501.5 230.9 501.7 236.0 501.9 231.0 502.0 235.4 502.2 231.7 502.3 236.8 502.5 229.1 502.6 236.2 502.8 232.8 502.9 235.0 503.1 231.2 503.2 234.1 503.4 232.2 503.5 234.3 503.7 232.5 503.8 236.7 504.0 232.1 504.2 235.1 504.3 232.4 504.5 238.0 504.6 229.1 504.8 236.5 504.9 232.5 505.1 235.3 505.2 233.0 505.4 234.2 505.5 229.1 505.7 234.8 505.8 231.5 506.0 234.9 506.2 230.3 506.3 240.3 506.5 230.5 506.6 235.6 506.8 229.3 506.9 239.3 507.1 230.9 507.2 236.7 507.4 231.6 507.5 234.3 507.7 230.7 507.8 235.1 508.0 230.1 508.1 236.2 508.3 232.6 508.5 237.1 508.6 226.6 508.8 240.6 508.9 227.8 509.1 237.0 509.2 232.2 509.4 235.7 509.5 231.2 509.7 237.7 509.8 228.4 510.0 235.1 510.1 231.7 510.3 235.2 510.5 232.4 510.6 235.2 510.8 232.2 510.9 235.2 511.1 232.1 511.2 236.7 511.4 232.1 511.5 235.0 511.7 232.5 511.8 234.8 512.0 229.4 512.1 235.4 512.3 230.7 512.4 235.5 512.6 231.6 512.8 234.7 512.9 231.9 513.1 235.0 513.2 232.8 513.4 234.6 513.5 231.6 513.7 234.1 513.8 233.1 514.0 235.5 514.1 232.7 514.3 234.9 514.4 232.7 514.6 236.1 514.7 232.9 514.9 236.8 515.1 232.6 515.2 235.8 515.4 229.1 515.5 234.9 515.7 233.0 515.8 234.3 516.0 232.4 516.1 234.4 516.3 231.3 516.4 234.1 516.6 232.5 516.7 234.1 516.9 229.5 517.1 234.9 517.2 230.5 517.4 234.7 517.5 232.8 517.7 234.1 517.8 231.6 518.0 236.9 518.1 229.4 518.3 234.5 518.4 230.9 518.6 238.3 518.7 229.2 518.9 234.7 519.0 225.9 519.2 236.7 519.4 231.3 519.5 236.1 519.7 228.4 519.8 238.8 520.0 228.5 520.1 236.7 520.3 230.7 520.4 234.5 520.6 232.5 520.7 237.7 520.9 232.0 521.0 236.4 521.2 230.6 521.3 235.9 521.5 231.4 521.7 235.9 521.8 227.2 522.0 238.0 522.1 230.9 522.3 236.2 522.4 231.9 522.6 235.0 522.7 231.1 522.9 237.4 523.0 232.7 523.2 236.3 523.3 232.5 523.5 235.7 523.7 232.7 523.8 236.3 524.0 231.8 524.1 234.8 524.3 231.1 524.4 234.6 524.6 233.0 524.7 236.0 524.9 230.3 525.0 237.7 525.2 232.4 525.3 237.3 525.5 230.8 525.6 235.9 525.8 231.0 526.0 234.4 526.1 232.2 526.3 234.4 526.4 231.8 526.6 234.3 526.7 232.4 526.9 234.5 527.0 232.4 527.2 234.5 527.3 232.3 527.5 234.2 527.6 231.1 527.8 234.5 527.9 232.4 528.1 236.5 528.3 232.0 528.4 234.5 528.6 233.0 528.7 235.3 528.9 231.2 529.0 235.0 529.2 229.8 529.3 234.4 529.5 231.3 529.6 235.0 529.8 232.6 529.9 235.0 530.1 232.5 530.3 235.5 530.4 231.4 530.6 235.9 530.7 231.9 530.9 235.8 531.0 231.7 531.2 234.9 531.3 227.1 531.5 234.8 531.6 231.0 531.8 235.3 531.9 229.0 532.1 240.1 532.2 230.7 532.4 234.9 532.6 232.6 532.7 237.9 532.9 230.5 533.0 238.6 533.2 229.9 533.3 238.4 533.5 232.0 533.6 235.4 533.8 230.2 533.9 235.3 534.1 231.4 534.2 234.1 534.4 233.0 534.6 235.1 534.7 230.6 534.9 234.9 535.0 230.7 535.2 237.0 535.3 231.2 535.5 236.2 535.6 231.1 535.8 236.4 535.9 229.6 536.1 236.3 536.2 230.7 536.4 236.7 536.5 227.5 536.7 234.8 536.9 226.5 537.0 235.9 537.2 230.0 537.3 235.1 537.5 231.2 537.6 236.4 537.8 231.2 537.9 234.2 538.1 228.9 538.2 234.2 538.4 228.8 538.5 236.7 538.7 231.5 538.8 236.0 539.0 230.6 539.2 237.6 539.3 229.4 539.5 235.0 539.6 226.9 539.8 237.3 539.9 228.9 540.1 238.5 540.2 231.7 540.4 237.5 540.5 232.7 540.7 235.4 540.8 229.9 541.0 237.2 541.2 229.5 541.3 236.2 541.5 233.0 541.6 236.9 541.8 230.3 541.9 236.7 542.1 232.8 542.2 235.5 542.4 229.8 542.5 235.1 542.7 230.2 542.8 234.2 543.0 232.2 543.1 235.0 543.3 232.3" fill="none" stroke="#0a0af2" stroke-width="0.75" stroke-linejoin="round"/>
<rect x="313.2" y="226" width="230.1" height="15.6" fill="none" stroke="#b0b0b0" stroke-width="1.1"/>
<text x="312.3" y="228.9" text-anchor="end" font-size="4.6" stroke="#444" stroke-width="0.1">0.1</text>
<text x="312.3" y="235.2" text-anchor="end" font-size="4.6" stroke="#444" stroke-width="0.1">0</text>
<text x="312.3" y="242" text-anchor="end" font-size="4.6" stroke="#444" stroke-width="0.1">-0.1</text>
<path d="M313.2 227.3h1.6M543.3 227.3h-1.6M313.2 233.6h1.6M543.3 233.6h-1.6M313.2 240.4h1.6M543.3 240.4h-1.6" stroke="#888" stroke-width="0.6" fill="none"/>
<text transform="translate(302.8 233.8) rotate(-90)" text-anchor="middle" font-size="5.2" stroke="#333" stroke-width="0.18">IMF 1</text>
<path d="M313.2 257.7L313.4 255.6 313.5 257.8 313.7 255.9 313.8 258.1 314.0 254.8 314.1 257.8 314.3 254.9 314.4 257.3 314.6 255.4 314.7 257.5 314.9 254.6 315.0 260.0 315.2 255.0 315.3 259.3 315.5 255.6 315.7 258.3 315.8 253.6 316.0 258.8 316.1 255.7 316.3 257.3 316.4 254.2 316.6 258.2 316.7 256.1 316.9 257.9 317.0 255.2 317.2 259.6 317.3 256.1 317.5 258.0 317.7 255.2 317.8 258.8 318.0 255.8 318.1 258.0 318.3 255.1 318.4 258.6 318.6 255.1 318.7 257.1 318.9 255.1 319.0 257.6 319.2 255.5 319.3 257.5 319.5 255.6 319.6 258.1 319.8 254.3 320.0 259.3 320.1 253.4 320.3 258.5 320.4 253.4 320.6 259.9 320.7 255.3 320.9 258.0 321.0 255.6 321.2 257.5 321.3 255.5 321.5 258.3 321.6 256.2 321.8 257.1 321.9 255.0 322.1 258.0 322.3 254.9 322.4 257.9 322.6 255.9 322.7 257.2 322.9 256.0 323.0 257.5 323.2 256.0 323.3 257.2 323.5 255.7 323.6 257.1 323.8 254.4 323.9 257.3 324.1 254.4 324.3 257.7 324.4 255.5 324.6 257.4 324.7 256.2 324.9 257.0 325.0 256.3 325.2 257.3 325.3 256.1 325.5 257.0 325.6 256.3 325.8 257.0 325.9 255.4 326.1 257.4 326.2 256.4 326.4 257.8 326.6 256.2 326.7 257.1 326.9 256.1 327.0 256.8 327.2 255.9 327.3 256.8 327.5 256.3 327.6 256.9 327.8 255.4 327.9 258.0 328.1 255.1 328.2 257.6 328.4 255.7 328.6 256.9 328.7 255.8 328.9 256.9 329.0 255.4 329.2 257.4 329.3 255.8 329.5 257.4 329.6 256.1 329.8 257.5 329.9 256.4 330.1 257.1 330.2 255.4 330.4 256.7 330.5 256.4 330.7 256.7 330.9 256.2 331.0 257.0 331.2 256.4 331.3 257.6 331.5 256.0 331.6 257.2 331.8 255.9 331.9 256.9 332.1 256.1 332.2 256.9 332.4 255.8 332.5 256.8 332.7 256.4 332.8 257.4 333.0 256.4 333.2 257.3 333.3 256.2 333.5 257.1 333.6 255.9 333.8 257.5 333.9 256.0 334.1 257.1 334.2 254.9 334.4 258.7 334.7 251.6 334.8 261.6 335.0 258.7 335.2 254.9 335.3 257.5 335.5 256.3 335.6 257.1 335.8 256.2 335.9 257.6 336.1 256.5 336.2 257.0 336.4 255.4 336.5 257.2 336.7 256.5 336.8 256.7 337.0 255.8 337.1 257.1 337.3 256.0 337.5 256.8 337.6 256.5 337.8 256.8 337.9 255.6 338.1 256.8 338.2 255.9 338.4 257.2 338.5 256.3 338.7 257.2 338.8 256.1 339.0 257.3 339.1 255.6 339.3 256.8 339.4 256.4 339.6 256.8 339.8 256.3 339.9 257.1 340.1 256.2 340.2 257.1 340.4 256.2 340.5 256.9 340.7 256.2 340.8 257.1 341.0 256.0 341.1 257.5 341.3 256.0 341.4 256.9 341.6 256.4 341.8 257.6 341.9 256.2 342.1 257.0 342.2 255.8 342.4 257.0 342.5 256.1 342.7 256.8 342.8 255.8 343.0 257.5 343.1 256.3 343.3 257.2 343.4 256.1 343.6 256.9 343.7 256.3 343.9 256.8 344.1 256.1 344.2 256.7 344.4 256.0 344.5 256.9 344.7 256.3 344.8 256.8 345.0 256.2 345.1 256.9 345.3 256.0 345.4 256.8 345.6 256.3 345.7 256.9 345.9 256.3 346.0 257.1 346.2 256.3 346.4 257.1 346.5 256.1 346.7 256.8 346.8 255.0 347.0 257.1 347.1 256.2 347.3 256.9 347.4 256.2 347.6 256.9 347.7 254.0 347.9 257.2 348.0 254.4 348.2 257.7 348.4 255.3 348.5 257.6 348.7 255.9 348.8 257.8 349.0 255.5 349.1 257.1 349.3 256.1 349.4 257.4 349.6 256.1 349.7 257.3 349.9 253.9 350.0 257.0 350.2 255.9 350.3 257.5 350.5 255.7 350.7 257.3 350.8 256.0 351.0 257.5 351.1 255.8 351.3 257.0 351.4 256.0 351.6 257.3 351.7 254.7 351.9 258.3 352.0 255.8 352.2 258.0 352.3 255.2 352.5 256.9 352.7 256.3 352.8 257.7 353.0 256.0 353.1 257.0 353.3 255.9 353.4 257.0 353.6 255.4 353.7 257.0 353.9 256.1 354.0 257.3 354.2 256.1 354.3 256.9 354.5 255.8 354.6 257.4 354.8 256.2 355.0 257.5 355.1 255.8 355.3 256.7 355.4 255.4 355.6 256.9 355.7 256.3 355.9 257.3 356.0 255.9 356.2 257.0 356.3 256.1 356.5 257.2 356.6 255.4 356.8 257.1 356.9 256.1 357.1 257.2 357.3 256.3 357.4 257.2 357.6 255.9 357.7 257.5 357.9 256.5 358.0 257.1 358.2 256.1 358.3 256.7 358.5 255.9 358.6 256.7 358.8 256.2 358.9 257.5 359.1 255.8 359.3 257.1 359.4 256.3 359.6 257.0 359.7 255.5 359.9 257.5 360.0 256.4 360.2 256.9 360.3 256.0 360.5 256.7 360.6 255.6 360.8 256.9 360.9 256.2 361.1 257.1 361.2 256.3 361.4 256.8 361.6 256.4 361.7 256.9 361.9 256.3 362.0 256.9 362.2 256.4 362.3 257.2 362.5 255.7 362.6 257.0 362.8 256.4 362.9 257.1 363.1 255.6 363.2 256.7 363.4 256.4 363.5 256.8 363.7 255.8 363.9 257.5 364.0 256.4 364.2 257.0 364.3 255.6 364.5 257.0 364.6 255.7 364.8 257.1 364.9 256.2 365.1 257.0 365.2 255.9 365.4 258.2 365.5 255.8 365.7 258.8 365.9 255.4 366.0 258.9 366.2 255.9 366.3 259.2 366.5 249.6 366.6 262.1 366.8 254.7 366.9 257.9 367.1 255.3 367.2 259.5 367.4 254.8 367.5 258.0 367.7 255.6 367.8 257.4 368.0 255.4 368.2 257.0 368.3 256.0 368.5 257.6 368.6 256.1 368.8 257.8 368.9 255.4 369.1 257.9 369.2 256.3 369.4 258.4 369.5 253.8 369.7 258.2 369.8 254.0 370.0 258.0 370.1 255.9 370.3 258.5 370.5 255.6 370.6 257.3 370.8 255.9 370.9 257.8 371.1 256.1 371.2 257.6 371.4 256.1 371.5 257.1 371.7 256.3 371.8 257.3 372.0 256.1 372.1 257.1 372.3 255.9 372.5 256.9 372.6 255.8 372.8 257.2 372.9 255.6 373.1 258.1 373.2 254.8 373.4 257.6 373.5 255.5 373.7 257.2 373.8 254.3 374.0 257.2 374.1 256.0 374.3 259.8 374.4 254.5 374.6 257.4 374.8 255.3 374.9 257.5 375.1 256.4 375.2 257.1 375.4 255.5 375.5 257.3 375.7 256.4 375.8 256.8 376.0 256.3 376.1 257.2 376.3 256.4 376.4 256.8 376.6 256.3 376.7 257.0 376.9 256.3 377.1 256.8 377.2 255.5 377.4 257.3 377.5 256.1 377.7 257.5 377.8 255.8 378.0 257.5 378.1 255.8 378.3 256.8 378.4 256.0 378.6 257.5 378.7 256.4 378.9 256.9 379.1 256.0 379.2 257.0 379.4 256.4 379.5 256.8 379.7 254.8 379.8 257.0 380.0 254.7 380.1 258.5 380.3 254.4 380.4 257.9 380.6 256.1 380.7 258.2 380.9 255.3 381.0 259.1 381.2 255.3 381.4 257.0 381.5 256.1 381.7 256.8 381.8 256.1 382.0 256.9 382.1 256.5 382.3 257.5 382.4 255.8 382.6 257.5 382.7 256.3 382.9 257.1 383.0 255.8 383.2 257.3 383.4 255.7 383.5 256.9 383.7 255.9 383.8 257.3 384.0 255.6 384.1 258.8 384.3 256.3 384.4 257.7 384.6 255.7 384.7 258.2 384.9 254.7 385.0 257.4 385.2 253.3 385.3 258.3 385.5 254.9 385.7 257.8 385.8 255.8 386.0 257.0 386.1 254.7 386.3 257.3 386.4 255.0 386.6 257.4 386.7 256.0 386.9 257.2 387.0 255.9 387.2 257.3 387.3 255.6 387.5 258.4 387.6 255.7 387.8 257.8 388.0 255.3 388.1 257.1 388.3 256.0 388.4 257.1 388.6 255.0 388.7 258.2 388.9 254.5 389.0 258.2 389.2 252.9 389.3 257.2 389.5 255.8 389.6 257.3 389.8 256.3 390.0 257.4 390.1 256.2 390.3 256.9 390.4 256.5 390.6 256.8 390.7 255.4 390.9 257.0 391.0 255.9 391.2 256.8 391.3 256.3 391.5 257.2 391.6 256.4 391.8 257.1 391.9 255.4 392.1 256.9 392.3 256.2 392.4 257.0 392.6 256.4 392.7 257.0 392.9 256.4 393.0 256.9 393.2 256.0 393.3 257.4 393.5 256.1 393.6 257.0 393.8 256.5 393.9 257.4 394.1 256.1 394.2 257.0 394.4 255.9 394.6 257.0 394.7 255.7 394.9 257.1 395.0 256.3 395.2 256.8 395.3 256.4 395.5 257.6 395.6 256.1 395.8 257.7 395.9 256.3 396.1 257.1 396.2 256.4 396.4 257.6 396.6 256.2 396.7 256.9 396.9 254.8 397.0 258.2 397.2 256.0 397.3 257.5 397.5 254.8 397.6 257.9 397.8 254.9 397.9 256.9 398.1 256.2 398.2 256.7 398.4 256.0 398.5 256.9 398.7 256.5 398.9 257.8 399.0 256.4 399.2 257.6 399.3 256.4 399.5 257.8 399.6 254.7 399.8 257.2 399.9 255.9 400.1 257.3 400.2 255.8 400.4 259.1 400.5 256.0 400.7 257.2 400.8 255.9 401.0 257.4 401.2 255.8 401.3 257.2 401.5 256.4 401.6 257.0 401.8 255.9 401.9 257.4 402.1 256.1 402.2 257.1 402.4 256.3 402.5 256.9 402.7 256.2 402.8 257.3 403.0 256.0 403.2 256.8 403.3 256.4 403.5 257.2 403.6 255.8 403.8 257.6 403.9 256.2 404.1 257.2 404.2 256.3 404.4 256.7 404.5 255.8 404.7 257.5 404.8 256.4 405.0 257.8 405.1 256.2 405.3 257.6 405.5 256.1 405.6 256.8 405.8 256.4 405.9 256.9 406.1 256.5 406.2 257.4 406.4 256.1 406.5 256.8 406.7 256.1 406.8 257.1 407.0 255.9 407.1 257.9 407.3 255.3 407.5 257.0 407.6 255.1 407.8 257.7 407.9 255.6 408.1 257.5 408.2 256.2 408.4 256.7 408.5 256.4 408.7 257.1 408.8 256.1 409.0 257.2 409.1 256.0 409.3 257.1 409.4 256.2 409.6 256.8 409.8 255.9 409.9 257.3 410.1 256.1 410.2 256.9 410.4 255.7 410.5 256.9 410.7 256.4 410.8 257.2 411.0 255.7 411.1 257.5 411.3 256.2 411.4 257.5 411.6 256.0 411.7 257.4 411.9 256.0 412.1 257.4 412.2 256.3 412.4 256.8 412.5 256.0 412.7 256.9 412.8 255.7 413.0 256.8 413.1 256.3 413.3 257.7 413.4 256.0 413.6 256.9 413.7 255.7 413.9 256.7 414.1 255.5 414.2 257.1 414.4 255.4 414.5 257.1 414.7 256.2 414.8 258.2 415.0 254.9 415.1 258.2 415.3 255.3 415.4 257.9 415.6 256.2 415.7 257.8 415.9 254.8 416.0 258.9 416.2 252.9 416.4 258.0 416.5 254.6 416.7 257.4 416.8 256.1 417.0 259.1 417.1 256.3 417.3 257.4 417.4 256.4 417.6 256.8 417.7 255.6 417.9 257.5 418.0 255.9 418.2 258.8 418.3 254.0 418.5 257.5 418.7 255.1 418.8 258.5 419.0 255.7 419.1 256.9 419.3 256.3 419.4 258.1 419.6 256.0 419.7 257.1 419.9 255.2 420.0 257.2 420.2 256.4 420.3 257.8 420.5 256.4 420.7 257.1 420.8 256.5 421.0 256.8 421.1 256.5 421.3 257.3 421.4 256.5 421.6 257.0 421.7 256.4 421.9 256.7 422.0 256.4 422.2 257.4 422.3 256.4 422.5 257.6 422.6 256.0 422.8 256.9 423.0 256.1 423.1 257.2 423.3 256.5 423.4 257.6 423.6 256.2 423.7 257.5 423.9 255.6 424.0 256.7 424.2 256.1 424.3 256.8 424.5 256.2 424.6 257.2 424.8 255.4 424.9 256.9 425.1 256.4 425.3 257.0 425.4 255.1 425.6 257.8 425.7 253.0 425.9 259.1 426.0 255.4 426.2 259.8 426.3 255.4 426.5 257.5 426.6 253.6 426.8 257.4 426.9 252.1 427.1 261.1 427.3 255.5 427.4 257.1 427.6 256.2 427.7 257.9 427.9 255.9 428.0 256.8 428.2 256.0 428.3 257.0 428.5 255.8 428.6 257.1 428.8 256.3 428.9 257.7 429.1 256.3 429.2 256.8 429.4 256.1 429.6 257.8 429.7 256.0 429.9 257.2 430.0 256.0 430.2 257.0 430.3 255.8 430.5 257.0 430.6 256.0 430.8 258.1 430.9 255.0 431.1 257.6 431.2 255.6 431.4 259.9 431.6 254.6 431.7 259.4 431.9 255.0 432.0 257.7 432.2 254.4 432.3 258.8 432.5 254.7 432.6 257.3 432.8 253.9 432.9 257.5 433.1 256.3 433.2 257.1 433.4 256.4 433.5 257.1 433.7 255.9 433.9 257.3 434.0 256.1 434.2 256.8 434.3 255.6 434.5 256.8 434.6 255.6 434.8 257.1 434.9 256.4 435.1 256.9 435.2 255.7 435.4 257.1 435.5 256.1 435.7 257.6 435.8 256.1 436.0 257.1 436.2 256.2 436.3 258.1 436.5 255.5 436.6 257.5 436.8 255.0 436.9 260.2 437.1 255.9 437.2 256.9 437.4 255.3 437.5 258.1 437.7 256.2 437.8 257.3 438.0 255.5 438.2 257.0 438.3 256.0 438.5 257.1 438.6 256.3 438.8 257.2 438.9 256.4 439.1 257.2 439.2 256.4 439.4 257.1 439.5 256.2 439.7 257.7 439.8 256.4 440.0 256.8 440.1 256.0 440.3 257.4 440.5 256.4 440.6 256.8 440.8 255.8 440.9 257.1 441.1 256.0 441.2 257.5 441.4 255.6 441.5 257.2 441.7 256.2 441.8 256.8 442.0 256.3 442.1 257.3 442.3 256.2 442.4 256.8 442.6 255.7 442.8 256.8 442.9 255.9 443.1 256.8 443.2 256.0 443.4 256.8 443.5 255.8 443.7 257.0 443.8 256.3 444.0 256.8 444.1 255.9 444.3 257.8 444.4 255.5 444.6 257.3 444.8 256.2 444.9 257.0 445.1 256.2 445.2 256.9 445.4 256.4 445.5 257.1 445.7 255.9 445.8 256.9 446.0 256.5 446.1 257.0 446.3 256.3 446.4 257.6 446.6 256.0 446.7 257.4 446.9 256.3 447.1 256.9 447.2 256.4 447.4 256.8 447.5 255.4 447.7 257.1 447.8 256.1 448.0 257.4 448.1 256.1 448.3 256.9 448.4 256.3 448.6 257.3 448.7 255.4 448.9 257.0 449.0 255.1 449.2 256.8 449.4 256.4 449.5 257.6 449.7 256.4 449.8 257.7 450.0 255.3 450.1 257.2 450.3 255.5 450.4 257.4 450.6 256.1 450.7 256.9 450.9 256.3 451.0 257.9 451.2 255.5 451.4 257.7 451.5 255.9 451.7 256.9 451.8 255.3 452.0 258.1 452.1 256.3 452.3 257.5 452.4 256.3 452.6 257.2 452.7 254.7 452.9 257.1 453.0 256.1 453.2 257.6 453.3 256.2 453.5 257.8 453.7 256.2 453.8 257.7 454.0 255.9 454.1 257.4 454.3 255.9 454.4 257.4 454.6 255.9 454.7 256.8 454.9 256.2 455.0 256.9 455.2 256.0 455.3 257.3 455.5 255.9 455.7 256.9 455.8 255.8 456.0 257.2 456.1 256.4 456.3 257.4 456.4 255.7 456.6 256.9 456.7 256.3 456.9 256.7 457.0 256.1 457.2 257.1 457.3 255.8 457.5 257.0 457.6 256.1 457.8 257.0 458.0 255.3 458.1 258.1 458.3 255.2 458.4 257.7 458.6 255.5 458.7 258.2 458.9 255.3 459.0 261.1 459.2 254.6 459.3 258.9 459.5 255.2 459.6 257.7 459.8 255.9 459.9 257.0 460.1 256.3 460.3 257.5 460.4 255.9 460.6 256.9 460.7 256.4 460.9 257.1 461.0 256.3 461.2 256.8 461.3 256.3 461.5 257.0 461.6 255.8 461.8 257.7 461.9 256.1 462.1 257.1 462.3 255.4 462.4 258.1 462.6 255.8 462.7 257.1 462.9 255.4 463.0 261.1 463.2 254.9 463.3 258.4 463.5 255.9 463.6 259.2 463.8 255.9 463.9 258.4 464.1 255.5 464.2 257.0 464.4 256.4 464.6 256.8 464.7 256.4 464.9 256.7 465.0 256.4 465.2 257.3 465.3 256.0 465.5 257.0 465.6 256.0 465.8 258.2 465.9 255.7 466.1 257.2 466.2 254.9 466.4 257.1 466.5 255.3 466.7 257.0 466.9 255.7 467.0 256.9 467.2 256.3 467.3 257.0 467.5 255.7 467.6 257.9 467.8 255.5 467.9 257.3 468.1 256.2 468.2 257.1 468.4 256.3 468.5 256.9 468.7 255.6 468.9 257.1 469.0 255.4 469.2 257.2 469.3 255.2 469.5 257.6 469.6 254.9 469.8 258.7 469.9 253.0 470.1 259.3 470.2 256.1 470.4 259.1 470.5 255.6 470.7 258.1 470.8 255.3 471.0 257.3 471.2 256.3 471.3 256.9 471.5 256.1 471.6 257.9 471.8 255.7 471.9 257.1 472.1 256.3 472.2 257.6 472.4 255.8 472.5 256.8 472.7 256.3 472.8 257.5 473.0 256.1 473.1 257.3 473.3 256.2 473.5 257.0 473.6 256.3 473.8 257.1 473.9 255.9 474.1 257.1 474.2 256.4 474.4 257.0 474.5 256.3 474.7 256.8 474.8 256.2 475.0 257.1 475.1 255.8 475.3 257.1 475.5 256.1 475.6 257.4 475.8 256.4 475.9 257.1 476.1 256.4 476.2 256.7 476.4 256.4 476.5 256.7 476.7 255.8 476.8 256.9 477.0 255.8 477.1 257.0 477.3 256.1 477.4 257.2 477.6 256.0 477.8 257.2 477.9 256.0 478.1 257.5 478.2 256.2 478.4 257.5 478.5 256.2 478.7 257.2 478.8 256.4 479.0 257.1 479.1 256.2 479.3 257.2 479.4 255.8 479.6 257.1 479.8 255.9 479.9 257.0 480.1 256.4 480.2 257.4 480.4 255.8 480.5 257.1 480.7 256.4 480.8 257.4 481.0 255.3 481.1 257.3 481.3 255.1 481.4 257.0 481.6 255.6 481.7 257.3 481.9 255.9 482.1 257.2 482.2 256.3 482.4 256.8 482.5 256.4 482.7 257.2 482.8 255.9 483.0 256.8 483.1 256.2 483.3 257.1 483.4 255.4 483.6 257.4 483.7 256.4 483.9 257.7 484.0 255.4 484.2 257.5 484.4 256.0 484.5 258.4 484.7 256.3 484.8 258.2 485.0 255.4 485.1 258.0 485.3 255.3 485.4 258.3 485.6 256.4 485.7 256.9 485.9 256.3 486.0 257.4 486.2 256.1 486.4 256.8 486.5 256.2 486.7 256.9 486.8 255.8 487.0 257.2 487.1 256.5 487.3 256.8 487.4 256.4 487.6 256.9 487.7 255.6 487.9 257.3 488.0 256.1 488.2 257.1 488.3 256.2 488.5 257.0 488.7 256.4 488.8 256.9 489.0 256.3 489.1 256.9 489.3 256.4 489.4 256.9 489.6 256.1 489.7 257.1 489.9 256.2 490.0 256.8 490.2 256.1 490.3 256.8 490.5 255.7 490.6 257.1 490.8 255.6 491.0 257.5 491.1 256.0 491.3 257.3 491.4 256.5 491.6 257.2 491.7 255.9 491.9 257.1 492.0 255.4 492.2 256.9 492.3 256.1 492.5 256.8 492.6 256.2 492.8 257.2 493.0 256.0 493.1 257.0 493.3 255.9 493.4 256.8 493.6 256.1 493.7 257.8 493.9 255.4 494.0 257.0 494.2 256.2 494.3 256.8 494.5 256.4 494.6 257.6 494.8 256.5 494.9 257.4 495.1 256.4 495.3 256.9 495.4 255.9 495.6 256.8 495.7 256.1 495.9 257.0 496.0 256.4 496.2 256.9 496.3 256.2 496.5 257.3 496.6 255.9 496.8 257.0 496.9 256.4 497.1 257.1 497.2 256.3 497.4 257.4 497.6 256.3 497.7 257.4 497.9 256.2 498.0 256.9 498.2 255.9 498.3 256.8 498.5 256.2 498.6 257.4 498.8 255.9 498.9 258.3 499.1 255.3 499.2 258.1 499.4 256.2 499.6 258.2 499.7 255.1 499.9 257.2 500.0 256.0 500.2 257.5 500.3 256.0 500.5 257.9 500.6 254.6 500.8 257.5 500.9 255.7 501.1 258.4 501.2 254.9 501.4 257.7 501.5 256.1 501.7 257.6 501.9 256.3 502.0 249.1 502.2 264.1 502.3 257.0 502.5 255.7 502.6 257.1 502.8 256.3 502.9 257.4 503.1 255.0 503.2 259.1 503.4 255.7 503.5 257.7 503.7 255.6 503.8 257.5 504.0 254.5 504.2 257.4 504.3 255.6 504.5 257.6 504.6 256.1 504.8 258.3 504.9 256.3 505.1 258.4 505.2 256.3 505.4 257.4 505.5 256.3 505.7 257.8 505.8 255.9 506.0 256.9 506.2 256.4 506.3 257.1 506.5 256.0 506.6 256.7 506.8 255.7 506.9 257.3 507.1 256.2 507.2 257.0 507.4 255.7 507.5 256.9 507.7 256.3 507.8 257.1 508.0 255.7 508.1 257.2 508.3 256.4 508.5 256.8 508.6 256.0 508.8 256.9 508.9 256.3 509.1 257.2 509.2 256.0 509.4 256.8 509.5 255.6 509.7 256.8 509.8 256.1 510.0 257.2 510.1 255.6 510.3 258.3 510.5 254.2 510.6 258.5 510.8 254.1 510.9 258.8 511.1 254.9 511.2 258.5 511.4 254.5 511.5 259.1 511.7 256.1 511.8 258.3 512.0 255.4 512.1 257.4 512.3 255.8 512.4 257.1 512.6 256.0 512.8 257.5 512.9 255.6 513.1 257.1 513.2 255.9 513.4 257.3 513.5 255.4 513.7 257.0 513.8 255.9 514.0 257.2 514.1 256.4 514.3 257.2 514.4 256.2 514.6 256.8 514.7 256.0 514.9 257.4 515.1 256.5 515.2 257.1 515.4 256.1 515.5 257.4 515.7 255.9 515.8 256.7 516.0 256.4 516.1 257.0 516.3 256.0 516.4 257.5 516.6 256.2 516.7 257.4 516.9 256.1 517.1 257.1 517.2 256.1 517.4 256.8 517.5 256.1 517.7 257.4 517.8 255.8 518.0 257.2 518.1 256.2 518.3 257.3 518.4 256.4 518.6 257.2 518.7 255.5 518.9 256.8 519.0 256.1 519.2 256.8 519.4 256.0 519.5 257.8 519.7 255.9 519.8 257.0 520.0 256.3 520.1 256.8 520.3 256.3 520.4 256.9 520.6 255.9 520.7 257.3 520.9 255.9 521.0 257.4 521.2 255.8 521.3 258.4 521.5 256.0 521.7 258.1 521.8 256.0 522.0 257.3 522.1 255.9 522.3 256.9 522.4 256.2 522.6 257.8 522.7 255.4 522.9 257.1 523.0 256.0 523.2 258.5 523.3 255.5 523.5 257.5 523.7 255.1 523.8 257.1 524.0 256.0 524.1 256.9 524.3 255.8 524.4 257.7 524.6 256.2 524.7 257.0 524.9 256.4 525.0 257.1 525.2 256.2 525.3 256.8 525.5 255.9 525.6 256.9 525.8 255.8 526.0 257.2 526.1 255.5 526.3 258.1 526.4 256.0 526.6 257.8 526.7 256.1 526.9 258.7 527.0 255.2 527.2 258.0 527.3 255.1 527.5 258.2 527.6 255.1 527.8 259.1 527.9 254.7 528.1 257.4 528.3 253.3 528.4 257.6 528.6 254.0 528.7 257.9 528.9 254.5 529.0 259.4 529.2 255.9 529.3 257.9 529.5 255.3 529.6 257.1 529.8 255.8 529.9 257.6 530.1 256.4 530.3 256.9 530.4 256.4 530.6 257.0 530.7 256.0 530.9 257.4 531.0 256.2 531.2 257.1 531.3 256.3 531.5 257.0 531.6 256.2 531.8 257.5 531.9 256.1 532.1 257.6 532.2 255.7 532.4 257.0 532.6 255.4 532.7 257.8 532.9 256.1 533.0 257.7 533.2 256.2 533.3 256.7 533.5 256.2 533.6 256.9 533.8 256.4 533.9 257.0 534.1 256.3 534.2 258.1 534.4 256.3 534.6 257.1 534.7 256.2 534.9 257.2 535.0 256.0 535.2 257.8 535.3 255.8 535.5 257.2 535.6 255.2 535.8 258.8 535.9 255.6 536.1 259.2 536.2 256.0 536.4 258.3 536.5 255.9 536.7 257.2 536.9 253.9 537.0 259.4 537.2 253.6 537.3 256.9 537.5 255.8 537.6 257.5 537.8 255.6 537.9 256.8 538.1 256.1 538.2 256.8 538.4 256.1 538.5 257.3 538.7 256.4 538.8 256.8 539.0 256.3 539.2 257.1 539.3 256.0 539.5 257.0 539.6 255.9 539.8 258.9 539.9 254.4 540.1 257.9 540.2 255.3 540.4 258.2 540.5 253.1 540.7 257.4 540.8 254.4 541.0 260.1 541.2 253.2 541.3 258.1 541.5 254.0 541.6 258.1 541.8 256.0 541.9 259.3 542.1 255.5 542.2 257.9 542.4 255.4 542.5 257.4 542.7 256.3 542.8 256.8 543.0 256.4 543.1 257.1 543.3 256.0" fill="none" stroke="#0a0af2" stroke-width="0.75" stroke-linejoin="round"/>
<rect x="313.2" y="248.86" width="230.1" height="15.6" fill="none" stroke="#b0b0b0" stroke-width="1.1"/>
<text x="312.3" y="252" text-anchor="end" font-size="4.6" stroke="#444" stroke-width="0.1">0.05</text>
<text x="312.3" y="258.2" text-anchor="end" font-size="4.6" stroke="#444" stroke-width="0.1">0</text>
<text x="312.3" y="264.5" text-anchor="end" font-size="4.6" stroke="#444" stroke-width="0.1">-0.05</text>
<path d="M313.2 250.4h1.6M543.3 250.4h-1.6M313.2 256.6h1.6M543.3 256.6h-1.6M313.2 262.9h1.6M543.3 262.9h-1.6" stroke="#888" stroke-width="0.6" fill="none"/>
<text transform="translate(300.6 256.66) rotate(-90)" text-anchor="middle" font-size="5.2" stroke="#333" stroke-width="0.18">IMF 2</text>
<path d="M313.2 280.0L313.4 279.2 313.5 279.7 313.7 278.0 313.8 279.9 314.0 278.0 314.1 280.2 314.3 279.0 314.4 280.2 314.6 278.8 314.7 279.8 314.9 279.0 315.0 279.8 315.2 278.4 315.3 280.0 315.5 279.2 315.7 280.1 315.8 279.0 316.0 279.8 316.1 279.2 316.3 279.9 316.4 279.0 316.6 280.3 316.7 279.2 316.9 280.9 317.0 279.3 317.2 280.6 317.3 278.7 317.5 279.8 317.7 277.1 317.8 280.8 318.0 277.5 318.1 280.2 318.3 277.5 318.4 281.4 318.6 278.5 318.7 280.0 318.9 279.3 319.0 280.0 319.2 278.1 319.3 280.3 319.5 278.8 319.6 279.8 319.8 279.3 320.0 280.8 320.1 278.6 320.3 280.4 320.4 279.2 320.6 280.3 320.7 278.5 320.9 279.9 321.0 279.2 321.2 280.7 321.3 278.6 321.5 280.7 321.6 279.2 321.8 280.0 321.9 278.8 322.1 279.7 322.3 279.0 322.4 279.7 322.6 278.9 322.7 279.7 322.9 278.7 323.0 280.4 323.2 278.7 323.3 281.0 323.5 279.3 323.6 280.0 323.8 278.4 323.9 281.4 324.1 278.1 324.3 280.2 324.4 278.3 324.6 282.2 324.7 278.6 324.9 280.4 325.0 278.9 325.2 280.1 325.3 279.2 325.5 280.0 325.6 278.3 325.8 279.8 325.9 279.0 326.1 280.4 326.2 278.7 326.4 280.7 326.6 279.0 326.7 280.7 326.9 278.9 327.0 280.1 327.2 279.1 327.3 280.6 327.5 279.2 327.6 279.9 327.8 278.8 327.9 280.1 328.1 278.5 328.2 279.9 328.4 279.1 328.6 280.1 328.7 278.4 328.9 280.3 329.0 279.1 329.2 279.7 329.3 279.1 329.5 280.2 329.6 278.7 329.8 280.2 329.9 279.3 330.1 281.0 330.2 277.7 330.4 280.2 330.5 277.0 330.7 280.0 330.9 277.0 331.0 280.3 331.2 278.8 331.3 280.3 331.5 279.3 331.6 280.9 331.8 278.6 331.9 280.0 332.1 279.1 332.2 280.5 332.4 279.0 332.5 280.2 332.7 278.8 332.8 280.2 333.0 278.0 333.2 280.5 333.3 279.0 333.5 279.8 333.6 279.2 333.8 279.7 333.9 278.6 334.1 280.4 334.2 279.1 334.4 280.4 334.5 279.0 334.7 279.8 334.8 279.3 335.0 280.5 335.2 278.9 335.3 281.0 335.5 278.6 335.6 279.7 335.8 278.3 335.9 279.9 336.1 279.1 336.2 279.8 336.4 279.0 336.5 279.9 336.7 278.7 336.8 280.8 337.0 278.9 337.1 279.9 337.3 279.3 337.5 279.9 337.6 279.3 337.8 280.5 337.9 279.1 338.1 279.7 338.2 278.5 338.4 280.4 338.5 279.1 338.7 281.1 338.8 278.4 339.0 281.2 339.1 278.7 339.3 279.9 339.4 278.3 339.6 281.6 339.8 279.1 339.9 280.3 340.1 278.5 340.2 280.5 340.4 278.5 340.5 280.0 340.7 279.0 340.8 280.2 341.0 279.2 341.1 279.8 341.3 279.2 341.4 280.1 341.6 279.2 341.8 280.2 341.9 279.1 342.1 280.4 342.2 278.0 342.4 279.9 342.5 278.3 342.7 280.2 342.8 278.5 343.0 279.7 343.1 278.5 343.3 280.1 343.4 277.8 343.6 281.6 343.7 278.3 343.9 281.4 344.1 278.8 344.2 280.0 344.4 279.0 344.5 280.2 344.7 278.3 344.8 280.1 345.0 279.1 345.1 280.3 345.3 278.4 345.4 279.7 345.6 278.1 345.7 279.7 345.9 278.7 346.0 279.7 346.2 279.0 346.4 280.2 346.5 278.2 346.7 279.7 346.8 278.4 347.0 280.4 347.1 278.7 347.3 279.8 347.4 279.1 347.6 280.3 347.7 279.3 347.9 279.8 348.0 279.1 348.2 280.4 348.4 278.8 348.5 280.1 348.7 278.8 348.8 280.2 349.0 278.9 349.1 279.9 349.3 279.0 349.4 279.9 349.6 279.1 349.7 280.3 349.9 279.1 350.0 280.0 350.2 278.8 350.3 279.9 350.5 278.9 350.7 279.8 350.8 278.4 351.0 280.7 351.1 279.3 351.3 280.3 351.4 279.2 351.6 281.0 351.7 278.3 351.9 280.4 352.0 279.3 352.2 279.8 352.3 279.0 352.5 279.7 352.7 279.2 352.8 280.1 353.0 278.6 353.1 280.9 353.3 278.7 353.4 280.4 353.6 279.3 353.7 280.2 353.9 279.2 354.0 280.9 354.2 278.4 354.3 279.9 354.5 278.8 354.6 279.9 354.8 278.3 355.0 280.5 355.1 279.2 355.3 280.3 355.4 278.6 355.6 280.4 355.7 278.5 355.9 280.0 356.0 278.6 356.2 281.0 356.3 279.1 356.5 281.9 356.6 277.5 356.8 280.1 356.9 277.5 357.1 281.5 357.3 278.7 357.4 283.6 357.6 276.8 357.7 283.2 357.9 276.1 358.0 273.0 358.2 286.0 358.3 281.4 358.5 278.2 358.6 281.4 358.8 278.5 358.9 279.8 359.1 278.5 359.3 280.0 359.4 278.7 359.6 280.7 359.7 277.3 359.9 281.9 360.0 279.3 360.2 280.2 360.3 279.1 360.5 280.2 360.6 278.6 360.8 280.1 360.9 279.3 361.1 280.0 361.2 278.6 361.4 281.4 361.6 279.3 361.7 280.2 361.9 279.3 362.0 279.7 362.2 278.7 362.3 279.9 362.5 279.1 362.6 279.8 362.8 278.8 362.9 280.1 363.1 279.0 363.2 279.8 363.4 279.1 363.5 279.7 363.7 278.9 363.9 279.7 364.0 278.0 364.2 279.9 364.3 278.9 364.5 280.7 364.6 279.3 364.8 280.1 364.9 279.1 365.1 281.0 365.2 279.1 365.4 279.7 365.5 279.2 365.7 280.1 365.9 278.5 366.0 279.9 366.2 279.3 366.3 279.9 366.5 278.8 366.6 279.7 366.8 278.4 366.9 280.3 367.1 279.2 367.2 279.7 367.4 278.9 367.5 280.1 367.7 279.3 367.8 280.1 368.0 279.2 368.2 280.1 368.3 278.6 368.5 280.1 368.6 278.6 368.8 279.9 368.9 278.3 369.1 281.4 369.2 279.2 369.4 279.7 369.5 278.9 369.7 280.3 369.8 278.3 370.0 280.5 370.1 279.3 370.3 279.8 370.5 279.0 370.6 280.8 370.8 279.0 370.9 280.4 371.1 277.4 371.2 280.9 371.4 277.9 371.5 280.0 371.7 278.0 371.8 280.9 372.0 278.4 372.1 280.7 372.3 278.8 372.5 280.3 372.6 279.3 372.8 280.1 372.9 278.4 373.1 279.7 373.2 278.0 373.4 280.6 373.5 278.7 373.7 280.0 373.8 278.5 374.0 280.0 374.1 278.2 374.3 280.1 374.4 277.5 374.6 280.4 374.8 278.1 374.9 280.6 375.1 278.6 375.2 279.7 375.4 279.2 375.5 280.9 375.7 279.2 375.8 280.2 376.0 278.3 376.1 280.0 376.3 278.9 376.4 280.7 376.6 278.7 376.7 279.7 376.9 279.3 377.1 280.2 377.2 278.9 377.4 281.0 377.5 279.0 377.7 280.4 377.8 279.0 378.0 279.9 378.1 278.7 378.3 280.2 378.4 278.9 378.6 279.8 378.7 279.1 378.9 280.3 379.1 278.8 379.2 280.9 379.4 279.2 379.5 280.6 379.7 278.1 379.8 280.7 380.0 278.9 380.1 282.5 380.3 279.0 380.4 281.5 380.6 278.6 380.7 281.3 380.9 279.0 381.0 280.2 381.2 277.0 381.4 281.1 381.5 278.0 381.7 280.2 381.8 278.5 382.0 280.0 382.1 278.5 382.3 280.1 382.4 279.2 382.6 280.8 382.7 278.2 382.9 280.2 383.0 279.1 383.2 280.1 383.4 279.1 383.5 279.9 383.7 278.1 383.8 280.5 384.0 278.1 384.1 280.7 384.3 278.0 384.4 281.3 384.6 277.9 384.7 279.9 384.9 279.0 385.0 280.1 385.2 278.4 385.3 279.7 385.5 279.1 385.7 280.7 385.8 278.3 386.0 280.7 386.1 278.5 386.3 280.1 386.4 279.2 386.6 279.8 386.7 278.6 386.9 280.0 387.0 279.0 387.2 279.7 387.3 279.0 387.5 279.9 387.6 278.2 387.8 280.0 388.0 279.0 388.1 280.5 388.3 279.3 388.4 280.0 388.6 279.1 388.7 280.0 388.9 278.6 389.0 280.0 389.2 279.2 389.3 279.8 389.5 278.4 389.6 280.3 389.8 279.1 390.0 279.8 390.1 279.2 390.3 280.2 390.4 278.9 390.6 280.2 390.7 279.3 390.9 281.0 391.0 278.5 391.2 279.8 391.3 278.9 391.5 280.0 391.6 278.5 391.8 280.1 391.9 278.7 392.1 280.8 392.3 279.1 392.4 280.2 392.6 279.1 392.7 279.9 392.9 279.2 393.0 280.3 393.2 279.3 393.3 280.2 393.5 278.4 393.6 280.6 393.8 278.9 393.9 279.9 394.1 279.2 394.2 280.2 394.4 279.2 394.6 280.1 394.7 278.6 394.9 280.3 395.0 279.0 395.2 281.5 395.3 278.3 395.5 281.5 395.6 279.0 395.8 281.1 395.9 278.8 396.1 280.4 396.2 278.6 396.4 279.7 396.6 278.6 396.7 280.9 396.9 278.9 397.0 280.1 397.2 279.2 397.3 280.2 397.5 278.3 397.6 280.2 397.8 279.3 397.9 280.1 398.1 279.1 398.2 280.6 398.4 278.5 398.5 280.2 398.7 278.9 398.9 280.0 399.0 278.9 399.2 280.4 399.3 278.6 399.5 280.1 399.6 279.3 399.8 279.7 399.9 279.0 400.1 280.0 400.2 279.2 400.4 280.3 400.5 279.0 400.7 279.8 400.8 278.1 401.0 279.8 401.2 278.9 401.3 280.1 401.5 279.2 401.6 280.4 401.8 279.0 401.9 280.5 402.1 279.2 402.2 280.0 402.4 278.9 402.5 280.5 402.7 278.9 402.8 280.3 403.0 278.9 403.2 279.7 403.3 279.3 403.5 280.7 403.6 278.9 403.8 280.2 403.9 278.7 404.1 280.0 404.2 278.9 404.4 280.0 404.5 278.9 404.7 280.2 404.8 279.2 405.0 280.2 405.1 278.5 405.3 280.6 405.5 277.7 405.6 279.7 405.8 279.0 405.9 280.9 406.1 279.2 406.2 280.1 406.4 279.2 406.5 280.6 406.7 278.7 406.8 280.0 407.0 279.1 407.1 280.4 407.3 278.9 407.5 279.9 407.6 278.6 407.8 280.2 407.9 279.0 408.1 279.7 408.2 279.1 408.4 280.3 408.5 278.5 408.7 279.7 408.8 278.2 409.0 280.1 409.1 278.9 409.3 280.3 409.4 279.1 409.6 279.8 409.8 278.9 409.9 280.2 410.1 279.0 410.2 280.2 410.4 279.2 410.5 280.5 410.7 279.0 410.8 280.1 411.0 279.2 411.1 279.9 411.3 279.2 411.4 281.0 411.6 278.8 411.7 280.9 411.9 278.5 412.1 280.3 412.2 278.3 412.4 280.8 412.5 279.0 412.7 280.6 412.8 277.7 413.0 280.7 413.1 278.4 413.3 280.2 413.4 278.5 413.6 281.0 413.7 279.3 413.9 280.2 414.1 279.0 414.2 279.8 414.4 278.7 414.5 280.8 414.7 279.1 414.8 279.8 415.0 278.3 415.1 280.1 415.3 278.9 415.4 281.3 415.6 278.8 415.7 280.3 415.9 278.4 416.0 280.2 416.2 277.6 416.4 280.1 416.5 277.9 416.7 282.1 416.8 278.2 417.0 281.7 417.1 276.6 417.3 280.8 417.4 278.1 417.6 281.1 417.7 277.8 417.9 280.1 418.0 278.6 418.2 280.4 418.3 279.0 418.5 280.7 418.7 279.2 418.8 279.8 419.0 278.5 419.1 279.7 419.3 279.0 419.4 279.9 419.6 278.9 419.7 280.5 419.9 279.2 420.0 280.9 420.2 278.2 420.3 280.6 420.5 277.3 420.7 281.8 420.8 277.4 421.0 280.3 421.1 278.6 421.3 280.0 421.4 277.9 421.6 281.2 421.7 278.5 421.9 280.8 422.0 278.1 422.2 279.7 422.3 278.9 422.5 280.1 422.6 278.8 422.8 280.0 423.0 279.0 423.1 280.1 423.3 278.6 423.4 280.3 423.6 278.5 423.7 279.9 423.9 278.6 424.0 279.9 424.2 278.8 424.3 279.7 424.5 278.7 424.6 280.0 424.8 278.9 424.9 280.4 425.1 278.9 425.3 280.5 425.4 279.1 425.6 279.8 425.7 278.3 425.9 280.2 426.0 278.5 426.2 279.8 426.3 279.2 426.5 280.4 426.6 279.3 426.8 280.0 426.9 279.3 427.1 279.8 427.3 279.0 427.4 280.2 427.6 279.3 427.7 280.2 427.9 278.7 428.0 279.7 428.2 279.0 428.3 280.5 428.5 279.2 428.6 280.1 428.8 278.3 428.9 280.0 429.1 278.1 429.2 280.0 429.4 279.0 429.6 280.1 429.7 279.3 429.9 279.9 430.0 279.3 430.2 279.7 430.3 278.3 430.5 280.1 430.6 279.1 430.8 280.0 430.9 279.0 431.1 279.7 431.2 278.7 431.4 280.3 431.6 279.1 431.7 281.0 431.9 279.0 432.0 280.1 432.2 279.0 432.3 281.2 432.5 279.2 432.6 280.2 432.8 278.4 432.9 280.0 433.1 279.3 433.2 280.4 433.4 278.4 433.5 280.3 433.7 278.1 433.9 280.4 434.0 278.1 434.2 280.8 434.3 278.6 434.5 280.7 434.6 277.7 434.8 279.8 434.9 279.1 435.1 280.1 435.2 279.3 435.4 279.9 435.5 279.0 435.7 280.4 435.8 278.9 436.0 280.0 436.2 279.2 436.3 280.7 436.5 278.9 436.6 280.9 436.8 279.0 436.9 280.1 437.1 276.8 437.2 280.4 437.4 279.2 437.5 280.4 437.7 278.6 437.8 279.9 438.0 279.0 438.2 280.1 438.3 279.2 438.5 280.2 438.6 279.1 438.8 280.9 438.9 278.3 439.1 279.9 439.2 279.2 439.4 279.7 439.5 278.5 439.7 280.1 439.8 278.8 440.0 280.0 440.1 278.8 440.3 280.5 440.5 278.8 440.6 279.8 440.8 278.4 440.9 280.0 441.1 278.7 441.2 280.0 441.4 279.1 441.5 280.2 441.7 278.9 441.8 280.0 442.0 278.8 442.1 279.9 442.3 278.3 442.4 279.8 442.6 279.3 442.8 280.4 442.9 278.6 443.1 279.8 443.2 279.3 443.4 279.7 443.5 278.9 443.7 280.1 443.8 279.0 444.0 280.4 444.1 279.2 444.3 281.5 444.4 279.2 444.6 279.9 444.8 278.8 444.9 280.3 445.1 278.5 445.2 279.7 445.4 278.6 445.5 279.7 445.7 278.9 445.8 280.1 446.0 279.1 446.1 280.1 446.3 278.2 446.4 279.9 446.6 279.0 446.7 280.0 446.9 279.3 447.1 280.1 447.2 278.9 447.4 279.7 447.5 279.2 447.7 280.2 447.8 279.2 448.0 281.3 448.1 278.0 448.3 280.3 448.4 278.6 448.6 279.8 448.7 278.6 448.9 280.7 449.0 278.7 449.2 280.9 449.4 278.1 449.5 281.7 449.7 277.3 449.8 280.6 450.0 275.8 450.1 282.4 450.3 275.9 450.4 280.1 450.6 278.6 450.7 282.4 450.9 278.7 451.0 280.4 451.2 278.3 451.4 280.7 451.5 279.2 451.7 279.8 451.8 279.2 452.0 275.5 452.1 283.5 452.3 280.5 452.4 278.9 452.6 280.2 452.7 278.0 452.9 280.9 453.0 278.5 453.2 280.4 453.3 278.8 453.5 281.7 453.7 278.0 453.8 282.4 454.0 278.9 454.1 281.5 454.3 278.3 454.4 280.3 454.6 277.9 454.7 282.3 454.9 276.9 455.0 280.0 455.2 278.9 455.3 280.4 455.5 279.3 455.7 280.4 455.8 278.6 456.0 280.4 456.1 279.1 456.3 279.9 456.4 278.7 456.6 280.0 456.7 278.6 456.9 280.3 457.0 278.9 457.2 280.2 457.3 278.3 457.5 280.7 457.6 278.9 457.8 280.0 458.0 279.3 458.1 280.4 458.3 278.6 458.4 279.8 458.6 278.0 458.7 280.4 458.9 279.3 459.0 280.1 459.2 279.2 459.3 281.0 459.5 279.1 459.6 280.2 459.8 278.8 459.9 279.7 460.1 278.5 460.3 279.9 460.4 279.1 460.6 280.3 460.7 279.0 460.9 280.1 461.0 278.3 461.2 279.7 461.3 278.6 461.5 279.9 461.6 278.0 461.8 280.8 461.9 279.3 462.1 279.7 462.3 279.3 462.4 280.5 462.6 279.1 462.7 280.1 462.9 278.9 463.0 279.9 463.2 279.2 463.3 280.3 463.5 279.2 463.6 279.8 463.8 278.9 463.9 279.8 464.1 279.1 464.2 280.2 464.4 279.0 464.6 280.8 464.7 279.3 464.9 279.7 465.0 279.1 465.2 280.4 465.3 279.3 465.5 279.9 465.6 278.5 465.8 279.8 465.9 278.9 466.1 281.0 466.2 278.6 466.4 280.3 466.5 278.8 466.7 279.7 466.9 279.1 467.0 279.7 467.2 279.2 467.3 280.5 467.5 279.1 467.6 279.9 467.8 279.1 467.9 279.7 468.1 279.1 468.2 280.4 468.4 279.1 468.5 280.3 468.7 278.7 468.9 279.7 469.0 279.3 469.2 281.0 469.3 278.2 469.5 280.5 469.6 278.7 469.8 280.2 469.9 278.8 470.1 281.0 470.2 279.3 470.4 279.7 470.5 279.2 470.7 280.0 470.8 278.8 471.0 280.1 471.2 279.3 471.3 280.0 471.5 278.0 471.6 280.1 471.8 279.3 471.9 280.5 472.1 278.1 472.2 281.6 472.4 279.0 472.5 280.0 472.7 279.0 472.8 279.8 473.0 279.0 473.1 280.8 473.3 276.7 473.5 281.8 473.6 277.9 473.8 280.2 473.9 278.5 474.1 281.3 474.2 277.3 474.4 279.8 474.5 279.0 474.7 280.4 474.8 279.3 475.0 279.7 475.1 279.2 475.3 281.0 475.5 278.1 475.6 279.8 475.8 278.5 475.9 280.3 476.1 278.9 476.2 282.1 476.4 278.9 476.5 280.0 476.7 277.4 476.8 280.1 477.0 279.1 477.1 279.8 477.3 278.8 477.4 280.1 477.6 279.3 477.8 280.9 477.9 279.3 478.1 280.7 478.2 278.9 478.4 280.1 478.5 278.9 478.7 280.6 478.8 278.5 479.0 279.9 479.1 279.2 479.3 279.7 479.4 279.2 479.6 280.3 479.8 278.9 479.9 279.7 480.1 278.2 480.2 280.2 480.4 278.2 480.5 279.7 480.7 279.0 480.8 279.9 481.0 279.2 481.1 280.3 481.3 279.2 481.4 280.5 481.6 279.1 481.7 280.7 481.9 278.6 482.1 279.9 482.2 279.2 482.4 280.1 482.5 278.7 482.7 280.4 482.8 278.6 483.0 279.9 483.1 278.6 483.3 280.0 483.4 278.7 483.6 280.1 483.7 279.3 483.9 279.9 484.0 278.6 484.2 279.8 484.4 278.2 484.5 280.8 484.7 277.9 484.8 279.8 485.0 279.0 485.1 280.7 485.3 279.0 485.4 279.8 485.6 278.8 485.7 279.8 485.9 279.3 486.0 279.7 486.2 279.3 486.4 280.5 486.5 279.0 486.7 280.1 486.8 279.0 487.0 280.1 487.1 277.8 487.3 281.0 487.4 277.4 487.6 280.5 487.7 278.4 487.9 279.8 488.0 278.5 488.2 280.4 488.3 279.0 488.5 279.8 488.7 278.8 488.8 281.7 489.0 279.1 489.1 279.8 489.3 278.9 489.4 279.9 489.6 277.9 489.7 279.8 489.9 278.6 490.0 280.4 490.2 279.0 490.3 280.3 490.5 279.2 490.6 281.1 490.8 279.2 491.0 280.1 491.1 278.6 491.3 279.8 491.4 278.2 491.6 281.3 491.7 279.1 491.9 280.8 492.0 278.4 492.2 279.7 492.3 278.6 492.5 279.9 492.6 278.5 492.8 280.0 493.0 278.0 493.1 279.7 493.3 279.3 493.4 281.0 493.6 279.3 493.7 280.0 493.9 279.1 494.0 279.7 494.2 278.9 494.3 280.9 494.5 278.9 494.6 280.1 494.8 278.3 494.9 279.9 495.1 278.1 495.3 280.1 495.4 278.0 495.6 279.9 495.7 278.3 495.9 281.0 496.0 278.7 496.2 279.9 496.3 279.2 496.5 280.0 496.6 278.9 496.8 279.8 496.9 278.6 497.1 279.7 497.2 278.3 497.4 279.9 497.6 279.1 497.7 280.5 497.9 279.0 498.0 280.2 498.2 277.3 498.3 280.2 498.5 278.9 498.6 280.2 498.8 279.2 498.9 280.0 499.1 278.9 499.2 279.9 499.4 279.1 499.6 280.5 499.7 278.3 499.9 279.7 500.0 278.5 500.2 279.7 500.3 278.7 500.5 279.9 500.6 278.9 500.8 279.8 500.9 279.3 501.1 279.8 501.2 278.6 501.4 280.1 501.5 279.1 501.7 280.0 501.9 279.3 502.0 280.1 502.2 278.6 502.3 279.7 502.5 278.9 502.6 280.5 502.8 279.1 502.9 280.3 503.1 279.3 503.2 280.2 503.4 278.7 503.5 279.8 503.7 279.1 503.8 281.0 504.0 278.8 504.2 279.8 504.3 278.1 504.5 280.0 504.6 278.9 504.8 279.8 504.9 278.6 505.1 280.0 505.2 278.6 505.4 279.9 505.5 278.4 505.7 279.7 505.8 279.2 506.0 280.3 506.2 279.3 506.3 280.1 506.5 278.4 506.6 279.7 506.8 277.4 506.9 280.8 507.1 278.6 507.2 279.9 507.4 279.3 507.5 279.8 507.7 278.5 507.8 279.9 508.0 279.1 508.1 280.0 508.3 278.7 508.5 279.7 508.6 278.8 508.8 279.8 508.9 278.4 509.1 279.7 509.2 278.3 509.4 279.7 509.5 279.3 509.7 280.1 509.8 279.0 510.0 280.6 510.1 279.0 510.3 279.8 510.5 279.0 510.6 279.8 510.8 278.5 510.9 280.8 511.1 279.1 511.2 279.8 511.4 279.2 511.5 279.8 511.7 279.3 511.8 280.0 512.0 278.8 512.1 280.3 512.3 279.3 512.4 279.8 512.6 278.9 512.8 279.7 512.9 278.8 513.1 279.7 513.2 278.7 513.4 279.9 513.5 278.9 513.7 281.0 513.8 278.0 514.0 280.4 514.1 278.6 514.3 279.8 514.4 278.5 514.6 280.0 514.7 278.1 514.9 279.7 515.1 278.8 515.2 280.5 515.4 279.0 515.5 279.8 515.7 279.2 515.8 280.1 516.0 279.0 516.1 280.0 516.3 278.9 516.4 280.0 516.6 279.0 516.7 279.9 516.9 278.5 517.1 280.0 517.2 278.3 517.4 279.7 517.5 279.1 517.7 280.2 517.8 279.0 518.0 280.4 518.1 279.2 518.3 279.7 518.4 278.9 518.6 279.8 518.7 278.9 518.9 280.6 519.0 278.7 519.2 281.0 519.4 278.6 519.5 279.9 519.7 278.9 519.8 280.2 520.0 279.2 520.1 280.2 520.3 278.9 520.4 280.5 520.6 279.3 520.7 280.2 520.9 279.1 521.0 280.8 521.2 278.0 521.3 280.3 521.5 279.0 521.7 280.2 521.8 278.1 522.0 280.8 522.1 278.0 522.3 281.9 522.4 277.8 522.6 280.4 522.7 279.3 522.9 281.0 523.0 278.6 523.2 280.0 523.3 278.8 523.5 280.1 523.7 278.7 523.8 281.3 524.0 275.6 524.1 280.5 524.3 278.8 524.4 281.7 524.6 278.1 524.7 283.9 524.9 278.2 525.0 280.5 525.2 278.8 525.3 281.8 525.5 276.9 525.6 280.3 525.8 278.9 526.0 280.0 526.1 279.3 526.3 279.7 526.4 278.8 526.6 279.9 526.7 279.0 526.9 279.8 527.0 279.0 527.2 280.2 527.3 279.1 527.5 280.5 527.6 279.3 527.8 280.9 527.9 278.5 528.1 279.9 528.3 278.9 528.4 280.2 528.6 278.9 528.7 280.3 528.9 279.3 529.0 279.7 529.2 277.5 529.3 281.5 529.5 277.1 529.6 279.8 529.8 277.3 529.9 281.0 530.1 278.9 530.3 280.3 530.4 278.9 530.6 279.9 530.7 279.3 530.9 279.7 531.0 278.2 531.2 279.9 531.3 278.7 531.5 280.0 531.6 278.5 531.8 279.7 531.9 279.3 532.1 280.5 532.2 279.2 532.4 280.6 532.6 278.6 532.7 279.9 532.9 279.0 533.0 280.1 533.2 278.4 533.3 280.0 533.5 279.2 533.6 280.4 533.8 278.9 533.9 280.1 534.1 278.7 534.2 280.5 534.4 278.5 534.6 280.6 534.7 279.3 534.9 280.3 535.0 278.1 535.2 279.9 535.3 279.1 535.5 279.7 535.6 279.0 535.8 280.1 535.9 279.3 536.1 280.2 536.2 278.9 536.4 280.3 536.5 279.1 536.7 280.4 536.9 278.8 537.0 280.6 537.2 279.2 537.3 279.9 537.5 279.2 537.6 280.5 537.8 279.3 537.9 280.5 538.1 278.9 538.2 279.9 538.4 278.8 538.5 280.2 538.7 278.9 538.8 280.8 539.0 279.3 539.2 280.6 539.3 278.4 539.5 280.6 539.6 278.9 539.8 279.8 539.9 278.7 540.1 281.1 540.2 278.9 540.4 281.3 540.5 278.1 540.7 280.8 540.8 277.2 541.0 280.6 541.2 278.0 541.3 280.9 541.5 278.4 541.6 283.0 541.8 279.0 541.9 280.2 542.1 278.3 542.2 279.9 542.4 278.0 542.5 281.7 542.7 279.2 542.8 280.4 543.0 278.2 543.1 280.2 543.3 278.7" fill="none" stroke="#0a0af2" stroke-width="0.75" stroke-linejoin="round"/>
<rect x="313.2" y="271.72" width="230.1" height="15.6" fill="none" stroke="#b0b0b0" stroke-width="1.1"/>
<text x="312.3" y="274" text-anchor="end" font-size="4.6" stroke="#444" stroke-width="0.1">0.1</text>
<text x="312.3" y="281.1" text-anchor="end" font-size="4.6" stroke="#444" stroke-width="0.1">0</text>
<text x="312.3" y="287.8" text-anchor="end" font-size="4.6" stroke="#444" stroke-width="0.1">-0.1</text>
<path d="M313.2 272.4h1.6M543.3 272.4h-1.6M313.2 279.5h1.6M543.3 279.5h-1.6M313.2 286.2h1.6M543.3 286.2h-1.6" stroke="#888" stroke-width="0.6" fill="none"/>
<text transform="translate(302.5 279.52) rotate(-90)" text-anchor="middle" font-size="5.2" stroke="#333" stroke-width="0.18">IMF 3</text>
<path d="M313.2 302.8L313.7 303.4 314.0 303.5 314.4 303.3 315.0 302.2 315.4 302.1 315.7 302.3 316.5 303.4 316.9 303.5 317.2 303.3 317.9 302.3 318.3 302.1 318.6 302.2 319.4 303.4 319.8 303.5 320.1 303.3 320.8 302.3 321.1 302.1 321.5 302.2 322.3 303.4 322.6 303.5 323.0 303.3 323.8 302.2 324.1 302.1 324.5 302.3 325.2 303.3 325.5 303.5 325.9 303.4 326.7 302.2 327.0 302.1 327.4 302.3 328.0 303.3 328.4 303.5 328.7 303.4 329.5 302.2 329.9 302.1 330.2 302.3 331.0 303.4 331.4 303.5 331.7 303.3 332.4 302.3 332.8 302.1 333.1 302.2 333.9 303.4 334.3 303.5 334.6 303.3 335.3 302.3 335.6 302.1 336.0 302.2 336.8 303.4 337.1 303.5 337.5 303.3 338.3 302.2 338.6 302.1 339.0 302.3 339.7 303.3 340.0 303.5 340.4 303.4 341.2 302.2 341.5 302.1 341.9 302.3 342.6 303.3 342.9 303.5 343.2 303.4 344.0 302.2 344.4 302.1 344.7 302.3 345.4 303.3 345.8 303.5 346.1 303.4 346.9 302.3 347.3 302.1 347.6 302.2 348.4 303.4 348.8 303.5 349.1 303.3 349.8 302.3 350.1 302.1 350.5 302.2 351.3 303.4 351.6 303.5 352.0 303.3 352.8 302.2 353.1 302.1 353.5 302.3 354.1 303.2 354.4 303.5 354.8 303.5 355.4 302.7 355.7 302.7 355.9 303.0 356.3 303.8 357.3 307.4 357.5 307.9 357.9 308.1 358.1 308.0 358.4 307.6 358.9 306.2 359.7 302.4 360.9 295.7 361.2 294.3 361.4 294.0 361.7 294.5 362.0 296.3 363.4 308.0 363.7 309.4 364.0 309.7 364.2 309.4 364.4 308.9 365.6 305.5 367.0 300.0 367.2 299.5 367.4 299.3 367.6 299.4 367.9 299.8 368.7 302.1 369.1 302.9 369.5 303.0 370.2 302.2 370.5 302.1 370.9 302.3 371.6 303.3 371.9 303.5 372.3 303.4 373.1 302.2 373.4 302.1 373.7 302.3 374.6 303.4 374.9 303.5 375.2 303.3 375.9 302.2 376.3 302.1 376.6 302.3 377.3 303.3 377.7 303.5 378.0 303.4 378.8 302.3 379.2 302.1 379.5 302.2 380.2 303.2 380.5 303.5 380.9 303.4 381.7 302.3 382.0 302.1 382.4 302.2 383.1 303.2 383.4 303.5 383.8 303.5 384.7 302.2 385.0 302.1 385.4 302.3 386.2 303.4 386.5 303.5 386.9 303.2 387.6 302.2 387.9 302.1 388.3 302.3 389.1 303.4 389.4 303.5 389.7 303.3 390.4 302.2 390.8 302.1 391.1 302.3 391.9 303.4 392.3 303.5 392.6 303.3 393.3 302.3 393.7 302.1 394.0 302.2 394.8 303.4 395.2 303.5 395.5 303.3 396.1 302.4 396.4 302.1 396.7 302.1 396.9 302.2 397.7 303.4 398.0 303.5 398.4 303.3 399.2 302.2 399.5 302.1 399.9 302.3 400.6 303.3 400.9 303.5 401.3 303.4 402.1 302.2 402.4 302.1 402.8 302.3 403.4 303.3 403.8 303.5 404.1 303.4 404.9 302.2 405.3 302.1 405.6 302.3 406.4 303.4 406.8 303.5 407.1 303.3 407.8 302.3 408.2 302.1 408.5 302.2 409.3 303.4 409.7 303.5 410.0 303.3 410.7 302.3 411.0 302.1 411.4 302.2 412.4 303.8 412.7 304.0 412.9 304.1 413.3 303.8 413.7 303.3 415.3 298.7 415.6 298.0 415.9 297.7 416.0 297.7 416.2 298.3 416.6 300.1 417.7 309.4 417.9 310.3 418.1 310.4 418.2 310.4 418.4 310.0 418.8 308.5 419.8 301.7 420.3 299.4 420.8 297.9 421.2 297.5 421.4 297.4 421.7 297.6 422.0 297.9 422.4 299.1 423.8 307.0 424.2 308.2 424.4 308.5 424.5 308.5 424.7 308.1 425.9 305.2 426.9 304.1 428.1 302.3 428.4 302.1 428.8 302.2 429.6 303.3 429.9 303.5 430.3 303.4 431.1 302.2 431.4 302.1 431.8 302.3 432.5 303.3 432.8 303.5 433.1 303.4 433.9 302.2 434.3 302.1 434.6 302.3 435.3 303.3 435.7 303.5 436.0 303.4 436.8 302.3 437.2 302.1 437.5 302.2 438.3 303.4 438.7 303.5 439.0 303.3 439.7 302.3 440.0 302.1 440.4 302.2 441.2 303.4 441.5 303.5 441.9 303.3 442.6 302.3 442.9 302.1 443.3 302.2 444.1 303.3 444.4 303.5 444.8 303.4 445.5 302.3 445.8 302.1 446.1 302.2 447.0 303.3 447.3 303.5 447.6 303.4 448.3 302.4 448.7 302.1 449.0 302.2 449.8 303.3 450.2 303.5 450.5 303.4 451.4 302.1 451.8 302.1 452.1 302.4 452.8 303.4 453.2 303.5 453.5 303.3 454.3 302.2 454.7 302.1 455.0 302.4 455.7 303.4 456.0 303.5 456.4 303.3 457.2 302.2 457.5 302.1 457.9 302.3 458.6 303.4 458.9 303.5 459.3 303.3 460.0 302.3 460.3 302.1 460.7 302.2 461.5 303.3 461.8 303.5 462.1 303.4 463.0 302.2 463.3 302.1 463.6 302.3 464.3 303.3 464.7 303.5 465.0 303.4 465.8 302.2 466.2 302.1 466.5 302.3 467.3 303.4 467.7 303.5 468.0 303.3 468.7 302.3 469.1 302.1 469.4 302.2 470.1 303.2 470.4 303.5 470.8 303.4 471.2 303.0 471.6 303.0 472.5 304.7 472.7 304.9 473.0 304.7 473.3 303.8 474.5 297.6 474.7 296.8 474.9 296.5 475.2 296.6 475.4 297.2 476.5 301.4 477.6 304.1 478.6 307.6 479.0 308.2 479.2 308.1 479.5 307.2 480.7 301.8 481.0 301.0 481.3 300.9 481.9 301.8 482.3 302.1 482.6 302.1 483.2 301.8 483.6 301.9 484.0 302.4 484.7 303.4 485.1 303.5 485.4 303.3 486.1 302.3 486.4 302.1 486.8 302.2 487.6 303.4 487.9 303.5 488.3 303.3 489.1 302.2 489.4 302.1 489.8 302.3 490.5 303.3 490.8 303.5 491.2 303.4 492.0 302.2 492.3 302.1 492.7 302.3 493.3 303.3 493.7 303.5 494.0 303.4 494.8 302.2 495.2 302.1 495.5 302.3 496.2 303.3 496.6 303.5 496.9 303.4 497.7 302.3 498.1 302.1 498.4 302.2 499.2 303.4 499.6 303.5 499.9 303.3 500.6 302.3 500.9 302.1 501.3 302.2 502.1 303.4 502.4 303.5 502.8 303.3 503.5 302.3 503.8 302.1 504.2 302.2 505.0 303.3 505.3 303.5 505.7 303.4 506.5 302.2 506.8 302.1 507.2 302.3 507.8 303.3 508.2 303.5 508.5 303.4 509.3 302.2 509.7 302.1 510.0 302.3 510.7 303.3 511.1 303.5 511.4 303.4 512.2 302.3 512.6 302.1 512.9 302.2 513.7 303.4 514.1 303.5 514.4 303.3 515.1 302.3 515.4 302.1 515.8 302.2 516.6 303.4 516.9 303.5 517.3 303.3 518.0 302.3 518.3 302.1 518.7 302.2 519.5 303.3 519.8 303.5 520.2 303.4 521.0 302.2 521.3 302.1 521.7 302.3 522.4 303.3 522.7 303.5 523.0 303.4 523.8 302.2 524.2 302.1 524.5 302.3 525.2 303.3 525.6 303.5 525.9 303.4 526.7 302.3 527.1 302.1 527.4 302.2 528.1 303.3 528.5 303.5 528.8 303.4 529.6 302.3 529.9 302.1 530.3 302.2 531.1 303.4 531.4 303.5 531.8 303.3 532.5 302.3 532.8 302.1 533.2 302.2 534.0 303.3 534.3 303.5 534.7 303.4 535.5 302.2 535.8 302.1 536.2 302.3 536.9 303.3 537.2 303.5 537.5 303.4 538.4 302.2 538.7 302.1 539.0 302.3 539.7 303.3 540.1 303.5 540.4 303.4 541.2 302.3 541.6 302.1 541.9 302.2 542.8 303.5 543.1 303.5 543.3 303.4" fill="none" stroke="#2f2fff" stroke-width="1.1" stroke-linejoin="round"/>
<rect x="313.2" y="294.58" width="230.1" height="15.6" fill="none" stroke="#b0b0b0" stroke-width="1.1"/>
<text x="312.3" y="298.2" text-anchor="end" font-size="4.6" stroke="#444" stroke-width="0.1">0.2</text>
<text x="312.3" y="304.4" text-anchor="end" font-size="4.6" stroke="#444" stroke-width="0.1">0</text>
<text x="312.3" y="310.8" text-anchor="end" font-size="4.6" stroke="#444" stroke-width="0.1">-0.2</text>
<path d="M313.2 296.6h1.6M543.3 296.6h-1.6M313.2 302.8h1.6M543.3 302.8h-1.6M313.2 309.2h1.6M543.3 309.2h-1.6" stroke="#888" stroke-width="0.6" fill="none"/>
<text transform="translate(302.5 302.38) rotate(-90)" text-anchor="middle" font-size="5.2" stroke="#333" stroke-width="0.18">IMF 4</text>
<path d="M313.2 325.9L313.8 326.1 314.2 326.1 315.6 325.4 316.2 325.3 316.8 325.4 317.9 326.0 318.5 326.1 319.1 326.0 320.2 325.4 320.8 325.3 321.4 325.4 322.5 326.0 323.1 326.1 323.7 326.0 324.8 325.4 325.4 325.3 326.0 325.4 327.1 326.0 327.7 326.1 328.3 326.0 329.4 325.4 330.0 325.3 330.6 325.4 331.7 326.0 332.3 326.1 332.9 326.0 334.0 325.4 334.6 325.3 335.2 325.4 336.3 326.0 336.9 326.1 337.5 326.0 338.6 325.4 339.2 325.3 339.8 325.4 340.9 326.0 341.5 326.1 342.1 326.0 343.2 325.4 343.8 325.3 344.4 325.4 345.5 326.0 346.1 326.1 346.7 326.0 347.8 325.4 348.3 325.3 348.9 325.3 350.1 326.0 350.7 326.1 351.2 326.1 352.1 325.6 352.5 325.5 352.9 325.8 353.4 326.3 354.9 329.5 355.4 330.5 356.0 331.0 356.6 331.1 357.1 330.8 357.5 329.8 358.2 327.3 359.9 319.7 360.5 318.0 360.7 317.7 361.0 317.6 361.2 317.8 361.4 318.1 361.9 319.4 362.5 322.0 364.1 330.6 364.7 332.5 364.9 332.9 365.1 333.0 365.3 332.9 365.6 332.6 366.0 331.6 367.9 326.2 369.0 323.4 369.7 322.2 369.9 322.0 370.3 321.9 370.8 322.1 371.2 322.6 372.9 325.8 373.3 326.1 373.6 326.1 374.2 326.1 375.5 325.4 376.0 325.3 376.6 325.4 377.7 326.0 378.2 326.1 378.8 326.1 380.1 325.4 380.7 325.3 381.2 325.4 382.5 326.1 383.1 326.1 383.6 326.0 384.7 325.4 385.3 325.3 385.8 325.4 387.1 326.1 387.6 326.1 388.1 326.0 389.4 325.3 389.9 325.3 390.4 325.4 391.6 326.0 392.2 326.1 392.7 326.0 393.9 325.4 394.5 325.3 395.0 325.4 396.2 326.0 396.8 326.1 397.3 326.0 398.5 325.4 399.1 325.3 399.6 325.4 400.8 326.0 401.4 326.1 401.9 326.0 403.1 325.4 403.7 325.3 404.3 325.4 405.4 326.0 406.0 326.1 406.6 326.0 407.7 325.4 408.3 325.3 408.9 325.4 410.0 326.0 410.6 326.1 411.0 326.1 411.4 325.7 413.1 322.2 413.6 321.7 414.0 321.6 414.4 321.8 414.8 322.6 416.2 326.5 416.8 327.8 417.3 328.5 417.6 328.8 418.1 328.6 418.6 327.7 419.2 326.4 420.7 322.0 421.1 321.4 421.4 321.1 421.7 321.4 422.1 322.1 423.7 327.8 424.0 328.6 424.4 328.8 424.6 328.8 425.0 328.5 426.4 326.1 426.9 325.5 427.4 325.5 428.4 326.0 429.0 326.1 429.5 326.0 430.6 325.4 431.2 325.3 431.8 325.4 433.0 326.0 433.6 326.1 434.1 326.0 435.2 325.4 435.8 325.3 436.4 325.4 437.6 326.0 438.2 326.1 438.8 326.0 439.9 325.4 440.4 325.3 441.0 325.4 442.1 326.0 442.7 326.1 443.3 326.0 444.4 325.4 445.0 325.3 445.6 325.4 446.7 326.0 447.3 326.1 447.9 326.0 449.0 325.4 449.6 325.3 450.2 325.4 451.3 326.0 451.9 326.1 452.5 326.0 453.6 325.4 454.2 325.3 454.8 325.4 455.9 326.0 456.5 326.1 457.1 326.0 458.2 325.4 458.7 325.3 459.3 325.3 460.5 326.0 461.1 326.1 461.7 326.0 463.0 325.3 463.5 325.3 464.1 325.4 465.3 326.1 465.7 326.1 466.3 326.0 467.4 325.4 468.0 325.3 468.4 325.3 468.7 325.5 470.1 326.8 470.6 327.0 470.9 327.0 471.5 326.8 471.9 326.5 474.4 323.1 475.0 322.4 475.5 322.1 475.8 322.3 476.3 322.9 476.9 324.2 478.1 327.8 478.5 328.4 479.0 328.7 479.3 328.6 479.6 328.3 481.3 325.7 481.6 325.4 481.9 325.3 482.5 325.4 483.7 326.1 484.1 326.1 484.7 326.0 485.9 325.4 486.4 325.3 487.0 325.4 488.2 326.0 488.7 326.1 489.2 326.1 490.5 325.4 491.0 325.3 491.5 325.3 492.8 326.0 493.3 326.1 493.8 326.1 495.1 325.4 495.6 325.3 496.1 325.3 497.4 326.0 497.9 326.1 498.4 326.1 499.7 325.4 500.2 325.3 500.8 325.4 502.1 326.1 502.6 326.1 503.1 326.0 504.4 325.3 504.9 325.3 505.4 325.4 506.7 326.1 507.2 326.1 507.7 326.0 509.0 325.3 509.5 325.3 510.0 325.4 511.3 326.1 511.8 326.1 512.3 326.0 513.6 325.3 514.1 325.3 514.6 325.4 515.8 326.0 516.4 326.1 516.9 326.0 518.1 325.4 518.7 325.3 519.2 325.4 520.4 326.0 521.0 326.1 521.5 326.0 522.7 325.4 523.3 325.3 523.7 325.3 524.9 326.0 525.5 326.1 526.0 326.1 527.3 325.4 527.9 325.3 528.3 325.3 529.5 326.0 530.1 326.1 530.6 326.1 531.9 325.4 532.5 325.3 532.9 325.3 534.1 326.0 534.7 326.1 535.2 326.1 536.5 325.4 537.1 325.3 537.7 325.4 538.7 326.0 539.2 326.1 539.8 326.1 541.0 325.4 541.6 325.3 542.3 325.4 543.3 326.0" fill="none" stroke="#2f2fff" stroke-width="1.1" stroke-linejoin="round"/>
<rect x="313.2" y="317.44" width="230.1" height="15.6" fill="none" stroke="#b0b0b0" stroke-width="1.1"/>
<text x="312.3" y="321.2" text-anchor="end" font-size="4.6" stroke="#444" stroke-width="0.1">0.2</text>
<text x="312.3" y="327.3" text-anchor="end" font-size="4.6" stroke="#444" stroke-width="0.1">0</text>
<text x="312.3" y="333.6" text-anchor="end" font-size="4.6" stroke="#444" stroke-width="0.1">-0.2</text>
<path d="M313.2 319.6h1.6M543.3 319.6h-1.6M313.2 325.7h1.6M543.3 325.7h-1.6M313.2 332h1.6M543.3 332h-1.6" stroke="#888" stroke-width="0.6" fill="none"/>
<text transform="translate(303.2 325.24) rotate(-90)" text-anchor="middle" font-size="5.2" stroke="#333" stroke-width="0.18">IMF 5</text>
<path d="M313.2 348.4L314.3 348.4 316.1 347.9 316.9 347.9 320.1 348.3 323.3 347.6 326.6 348.0 327.3 347.9 329.8 347.4 330.5 347.4 333.0 347.7 333.8 347.6 335.6 347.1 336.4 347.0 339.6 347.3 340.5 347.1 342.8 346.2 343.6 346.0 344.5 346.1 346.2 346.4 347.7 347.2 349.1 348.5 351.3 351.4 352.0 352.2 353.0 352.8 353.7 352.9 354.0 352.8 354.5 352.5 355.3 351.4 358.3 345.5 359.4 343.6 360.2 342.7 360.6 342.3 360.9 342.3 361.2 342.3 361.7 342.7 362.5 343.9 363.2 345.6 364.9 350.1 365.7 351.8 366.5 352.8 366.8 353.0 367.1 353.0 367.4 352.9 367.8 352.7 368.6 351.9 371.8 347.2 372.8 346.0 373.5 345.3 374.3 345.1 374.9 345.2 375.5 345.5 377.8 347.4 378.7 347.8 379.4 347.8 381.8 347.6 382.6 347.7 384.4 348.1 385.2 348.1 386.0 348.1 387.6 347.6 388.4 347.5 389.2 347.5 391.5 347.9 393.9 347.6 394.7 347.6 395.6 347.8 397.8 348.6 400.8 349.2 403.2 350.2 404.1 350.4 404.7 350.2 405.5 349.6 407.8 346.7 408.8 345.6 409.9 345.0 410.5 344.9 411.0 345.0 411.9 345.3 413.0 346.2 414.1 347.5 416.5 351.0 417.3 351.7 417.9 351.9 418.5 351.7 419.1 351.1 421.4 347.2 422.3 345.9 423.1 345.2 423.9 344.9 425.9 345.0 426.9 345.2 428.0 345.7 430.0 347.2 431.1 347.8 433.9 348.6 435.5 349.1 436.5 349.3 437.7 349.3 439.7 348.7 440.5 348.6 442.9 348.7 443.7 348.7 446.1 348.0 446.9 347.9 447.7 347.9 449.4 348.2 450.3 348.2 452.6 347.8 453.5 347.8 456.0 348.2 456.7 348.3 459.2 347.9 459.9 347.9 460.9 348.0 465.6 349.2 467.9 350.1 468.7 350.3 469.3 350.2 469.9 349.8 470.7 349.0 472.2 346.9 473.0 346.1 473.8 345.5 474.5 345.3 475.1 345.4 475.8 345.7 476.7 346.5 479.4 349.5 480.2 350.0 481.0 350.1 481.7 350.1 482.4 349.9 483.1 349.4 484.8 348.1 485.4 347.8 485.9 347.8 489.1 348.2 492.3 347.8 495.6 348.2 496.3 348.2 498.8 347.8 499.6 347.8 501.2 348.2 502.2 348.2 505.4 347.8 508.6 348.2 511.8 347.8 515.1 348.2 515.8 348.2 518.3 347.8 519.0 347.8 520.7 348.2 521.7 348.2 524.7 347.8 525.5 347.8 527.3 348.2 528.1 348.2 531.3 347.8 532.1 347.8 534.6 348.2 535.3 348.2 537.6 347.8 538.5 347.8 541.0 348.2 541.9 348.2 543.3 347.9" fill="none" stroke="#2f2fff" stroke-width="1.1" stroke-linejoin="round"/>
<rect x="313.2" y="340.3" width="230.1" height="15.6" fill="none" stroke="#b0b0b0" stroke-width="1.1"/>
<text x="312.3" y="342.2" text-anchor="end" font-size="4.6" stroke="#444" stroke-width="0.1">0.2</text>
<text x="312.3" y="349.8" text-anchor="end" font-size="4.6" stroke="#444" stroke-width="0.1">0</text>
<text x="312.3" y="357.6" text-anchor="end" font-size="4.6" stroke="#444" stroke-width="0.1">-0.2</text>
<path d="M313.2 340.6h1.6M543.3 340.6h-1.6M313.2 348.2h1.6M543.3 348.2h-1.6M313.2 356h1.6M543.3 356h-1.6" stroke="#888" stroke-width="0.6" fill="none"/>
<text transform="translate(303.2 348.1) rotate(-90)" text-anchor="middle" font-size="5.2" stroke="#333" stroke-width="0.18">IMF 6</text>
<path d="M313.2 370.9L315.8 370.3 318.4 369.8 324.1 369.1 330.7 368.8 338.8 368.7 340.1 369.2 341.3 370.0 342.5 371.2 345.6 374.3 347.0 375.5 348.4 376.2 349.0 376.4 349.6 376.4 350.2 376.2 350.8 375.8 352.2 374.5 353.6 372.7 356.6 368.1 358.2 366.2 359.4 365.2 360.0 364.9 360.6 364.8 361.1 364.9 361.6 365.2 362.6 366.4 363.7 368.1 366.0 372.4 367.1 374.0 368.0 375.0 368.5 375.2 368.9 375.3 370.1 375.0 371.4 374.4 372.8 373.3 376.7 369.6 378.0 368.8 379.2 368.4 380.3 368.3 381.4 368.7 382.4 369.3 385.3 371.3 386.3 371.7 387.0 372.0 387.8 372.0 388.6 371.8 391.5 370.8 392.9 370.5 394.2 370.7 397.3 371.8 398.5 372.0 399.6 371.8 400.8 371.3 404.8 368.8 406.1 368.1 407.1 367.7 408.1 367.6 408.5 367.6 409.1 367.8 410.2 368.4 411.6 369.7 414.4 372.9 415.6 374.1 416.8 375.0 417.9 375.3 418.8 375.1 419.9 374.4 421.0 373.2 423.4 370.1 424.5 368.8 425.6 368.0 426.2 367.7 426.6 367.6 427.9 367.8 429.1 368.2 430.6 369.0 433.7 371.1 435.1 371.9 436.5 372.5 437.7 372.7 438.9 372.6 440.1 372.4 441.7 371.9 446.1 370.2 447.5 369.9 448.7 369.8 450.9 369.9 453.2 370.3 460.3 371.9 462.7 372.4 464.9 372.6 466.7 372.7 467.6 372.4 468.7 371.9 472.2 369.5 473.3 368.9 474.4 368.5 475.3 368.3 476.2 368.4 477.3 368.9 478.5 369.8 481.9 372.6 483.0 373.2 484.0 373.5 485.0 373.4 485.9 373.1 487.1 372.4 490.3 370.4 491.4 370.0 492.3 369.8 496.8 370.0 505.8 370.8 509.5 371.0 527.5 371.4 543.3 371.5" fill="none" stroke="#2f2fff" stroke-width="1.1" stroke-linejoin="round"/>
<rect x="313.2" y="363.16" width="230.1" height="15.6" fill="none" stroke="#b0b0b0" stroke-width="1.1"/>
<text x="312.3" y="365.2" text-anchor="end" font-size="4.6" stroke="#444" stroke-width="0.1">0.1</text>
<text x="312.3" y="372.6" text-anchor="end" font-size="4.6" stroke="#444" stroke-width="0.1">0</text>
<text x="312.3" y="380.5" text-anchor="end" font-size="4.6" stroke="#444" stroke-width="0.1">-0.1</text>
<path d="M313.2 363.6h1.6M543.3 363.6h-1.6M313.2 371h1.6M543.3 371h-1.6M313.2 378.9h1.6M543.3 378.9h-1.6" stroke="#888" stroke-width="0.6" fill="none"/>
<text transform="translate(303 370.96) rotate(-90)" text-anchor="middle" font-size="5.2" stroke="#333" stroke-width="0.18">IMF 7</text>
<path d="M313.2 394.7L314.9 393.4 316.6 392.3 318.3 391.4 320.1 390.7 321.9 390.2 323.9 389.8 326.2 389.6 328.1 389.6 328.9 389.8 329.8 390.2 331.6 391.4 333.3 392.8 337.5 396.8 339.6 398.4 340.7 399.0 341.6 399.4 342.5 399.5 343.4 399.4 344.4 399.1 345.3 398.7 346.2 398.0 347.3 397.1 349.3 395.1 353.7 390.0 355.9 388.0 356.9 387.2 357.9 386.7 358.8 386.4 359.7 386.3 360.5 386.4 361.4 386.8 362.2 387.3 363.1 388.1 365.1 390.3 369.5 396.5 371.5 398.9 372.6 400.0 373.5 400.7 374.4 401.1 375.4 401.3 376.3 401.2 377.4 401.0 378.4 400.6 379.7 400.0 382.1 398.3 387.3 394.1 389.6 392.4 396.2 388.4 397.9 387.7 399.3 387.5 400.2 387.6 401.2 387.8 402.1 388.2 403.2 388.9 405.5 390.8 410.4 395.7 412.5 397.6 413.6 398.4 414.7 399.0 415.7 399.3 416.7 399.5 417.4 399.5 418.3 399.3 419.3 398.9 420.3 398.3 422.6 396.4 427.3 391.9 429.2 390.1 430.3 389.4 431.4 388.8 432.3 388.5 433.2 388.3 434.5 388.4 435.7 388.6 437.1 389.0 438.5 389.6 441.5 391.3 447.8 395.6 450.6 397.2 452.1 398.0 453.5 398.5 454.9 398.8 456.1 399.0 457.0 399.0 458.1 398.8 459.2 398.5 460.4 397.9 462.9 396.4 468.1 392.6 470.2 391.2 471.5 390.5 472.5 390.1 473.6 389.8 474.5 389.6 475.3 389.6 476.2 389.7 477.1 390.0 478.2 390.4 480.2 391.5 484.5 394.5 486.4 395.6 488.3 396.5 490.0 396.8 491.9 396.7 494.0 396.3 496.0 395.6 501.1 393.9 503.7 393.2 507.1 392.8 514.1 392.3 522.6 391.9 529.8 391.8 535.9 392.3 543.3 393.3" fill="none" stroke="#2f2fff" stroke-width="1.1" stroke-linejoin="round"/>
<rect x="313.2" y="386.02" width="230.1" height="15.6" fill="none" stroke="#b0b0b0" stroke-width="1.1"/>
<text x="312.3" y="389.8" text-anchor="end" font-size="4.6" stroke="#444" stroke-width="0.1">0.05</text>
<text x="312.3" y="395.9" text-anchor="end" font-size="4.6" stroke="#444" stroke-width="0.1">0</text>
<text x="312.3" y="401.8" text-anchor="end" font-size="4.6" stroke="#444" stroke-width="0.1">-0.05</text>
<path d="M313.2 388.2h1.6M543.3 388.2h-1.6M313.2 394.3h1.6M543.3 394.3h-1.6M313.2 400.2h1.6M543.3 400.2h-1.6" stroke="#888" stroke-width="0.6" fill="none"/>
<text transform="translate(302.3 393.82) rotate(-90)" text-anchor="middle" font-size="5.2" stroke="#333" stroke-width="0.18">IMF 8</text>
<path d="M313.2 421.3L317.8 422.2 322.9 422.7 328.1 422.8 329.8 422.6 331.5 422.3 334.4 421.5 337.8 420.1 341.0 418.5 349.0 414.1 353.1 412.2 355.3 411.4 357.3 410.9 359.1 410.6 360.9 410.4 363.7 410.5 366.6 410.7 369.7 411.1 372.9 411.7 379.8 413.4 394.4 417.8 400.7 419.4 404.1 420.2 407.3 420.7 410.2 421.1 413.1 421.3 415.9 421.3 418.8 421.2 421.9 420.9 425.1 420.5 431.9 419.3 445.2 416.4 450.9 415.4 456.7 414.5 462.1 414.1 467.3 414.2 473.3 414.6 479.3 415.2 495.4 417.2 500.3 417.7 504.8 417.9 515.5 418.0 526.4 417.8 535.2 417.5 543.3 416.9" fill="none" stroke="#2f2fff" stroke-width="1.1" stroke-linejoin="round"/>
<rect x="313.2" y="408.88" width="230.1" height="15.6" fill="none" stroke="#b0b0b0" stroke-width="1.1"/>
<text x="312.3" y="410.6" text-anchor="end" font-size="4.6" stroke="#444" stroke-width="0.1">0.1</text>
<text x="312.3" y="418.4" text-anchor="end" font-size="4.6" stroke="#444" stroke-width="0.1">0</text>
<text x="312.3" y="426.2" text-anchor="end" font-size="4.6" stroke="#444" stroke-width="0.1">-0.1</text>
<path d="M313.2 409h1.6M543.3 409h-1.6M313.2 416.8h1.6M543.3 416.8h-1.6M313.2 424.6h1.6M543.3 424.6h-1.6" stroke="#888" stroke-width="0.6" fill="none"/>
<text transform="translate(303.2 416.68) rotate(-90)" text-anchor="middle" font-size="5.2" stroke="#333" stroke-width="0.18">IMF 9</text>
<path d="M313.2 434.4L323.3 433.6 330.5 433.3 338.4 433.4 346.8 434.0 355.0 434.9 363.9 436.1 372.6 437.5 395.0 441.3 407.3 443.0 413.9 443.8 420.0 444.3 425.9 444.7 431.4 444.8 436.2 444.7 441.1 444.5 446.1 444.1 451.7 443.4 462.1 441.9 488.3 437.5 495.7 436.5 502.5 435.8 507.7 435.5 512.8 435.3 543.3 435.3" fill="none" stroke="#2f2fff" stroke-width="1.1" stroke-linejoin="round"/>
<rect x="313.2" y="431.74" width="230.1" height="15.6" fill="none" stroke="#b0b0b0" stroke-width="1.1"/>
<text x="312.3" y="434.2" text-anchor="end" font-size="4.6" stroke="#444" stroke-width="0.1">0.02</text>
<text x="312.3" y="441.6" text-anchor="end" font-size="4.6" stroke="#444" stroke-width="0.1">0</text>
<text x="312.3" y="448.9" text-anchor="end" font-size="4.6" stroke="#444" stroke-width="0.1">-0.02</text>
<path d="M313.2 432.6h1.6M543.3 432.6h-1.6M313.2 440h1.6M543.3 440h-1.6M313.2 447.3h1.6M543.3 447.3h-1.6" stroke="#888" stroke-width="0.6" fill="none"/>
<text transform="translate(302.7 439.54) rotate(-90)" text-anchor="middle" font-size="5.2" stroke="#333" stroke-width="0.18">IMF 10</text>
<text transform="translate(12.1 337.2) rotate(-90)" text-anchor="middle" font-family="'Liberation Serif', 'Times New Roman', serif" font-size="7.3" stroke="#444" stroke-width="0.1">amplitude (cm)</text>
<text transform="translate(293.8 338.3) rotate(-90)" text-anchor="middle" font-family="'Liberation Serif', 'Times New Roman', serif" font-size="7.05" stroke="#333" stroke-width="0.2">amplitude (cm)</text>
<text x="138" y="458" text-anchor="middle" font-family="'Liberation Serif', 'Times New Roman', serif" font-size="7.1" stroke="#444" stroke-width="0.12">sampling point (pcs)</text>
<text x="422.8" y="457" text-anchor="middle" font-family="'Liberation Serif', 'Times New Roman', serif" font-size="7.2" stroke="#444" stroke-width="0.12">sampling point (pcs)</text>
<text x="135" y="477.4" text-anchor="middle" font-family="'Liberation Serif', 'Times New Roman', serif" font-weight="bold" font-size="12" fill="#111">(c)</text>
<text x="417.6" y="477.5" text-anchor="middle" font-family="'Liberation Serif', 'Times New Roman', serif" font-weight="bold" font-size="12" fill="#111">(d)</text>
</svg>
</body></html>
